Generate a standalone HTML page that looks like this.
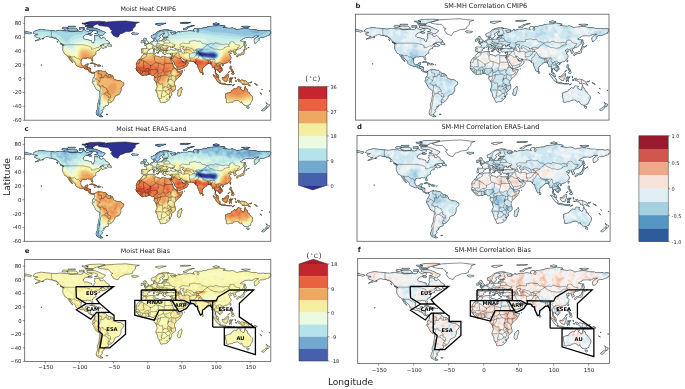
<!DOCTYPE html><html><head><meta charset="utf-8"><title>Moist heat and SM-MH correlation maps</title><style>html,body{margin:0;padding:0;background:#fff}svg{display:block}</style></head><body><svg width="685" height="389" viewBox="0 0 685 389" font-family="'DejaVu Sans','Liberation Sans',sans-serif">
<defs><path id="land" d="M12,24.5 14,21.5 18,20 24,18.7 30,19.5 39,20.4 45,21 52,20 56,20.5 63,21 66,22 72,22 75,21.5 82,22 85,21 86,18 90,21 93,22 95,20.5 98,20.5 99,22 97,24 93,25 93,26 89,26.5 86,29 85.5,31 87.5,33 92,33.5 95,34.7 97.7,35 98,37 99.5,38.7 101,38.5 101.5,36 103,34 102,31.5 102.5,29.5 102,27.7 106,27.7 110,29 110,31 113,31.7 115,30 116,30.5 118,32.5 119,34.5 122.5,36 124,38 121,39.7 115,39.8 113,40.7 110,43 115,41 115.5,42.5 119,44 120,44 119,44.8 116,45.7 114,46.3 113,45 110,46.3 109.3,48 110,48.3 107,49 106,49.5 104.5,51 104,53 104.5,54.8 103,55.5 101,56.8 99,58.5 98.7,60.5 100,63 99.7,64.7 98.5,64.5 97.3,62.2 97.3,61 96,60 94.5,60.3 92,59.7 90.5,60 90.5,60.8 89,60.7 86,60.5 83,62 82.5,64.5 82.2,67.5 84,71 85.5,71.8 88,71.3 89.3,70.5 89.7,69 93,68.5 92.5,70.5 91.7,72 91.2,74.1 94,74.1 96.7,75 96.3,79 97.5,80.8 99,81.2 100.5,80.5 102.6,81.4 101.5,82 100,82.7 99,82.2 97,81.7 94.3,80 92.5,77 88.5,76 86,74 83.5,74.3 80,73 76,71.2 74.4,69.5 74.5,67.5 72,65 70.5,63.5 68,61 67,58.7 65.2,58.3 65.5,60 67.5,62.5 69.5,65.5 70.5,67 69.7,66.7 68,65.2 66,62.8 65,61 64,59.5 62.8,57.4 61.5,56 59.4,55.4 58,53.3 57.5,52.2 56,49.7 55.7,47 56,43.8 55.3,41.6 57,41.5 57.5,42.7 57.2,41 55.5,40 53,39 52,37.5 50,35.5 48.5,34 46,32 43.5,31.7 41,30.2 37,30 34,29 31,29.2 28.5,30.7 26,32 23,33.2 19,34.7 15.2,35.5 18,34 22,32 22.5,31.2 20,31.2 18,30.2 15.5,29.5 14.5,28 15.2,27 19,26.3 19,25.5 16,25.5 13.5,25ZM100,16.3 104,17 109,19 113,21 118,23 117,25 114,27 114,28 110,27.3 107,25.5 102,25 106,24 107,22 102,20 97,20 91,19 91,16.5 95,16.3ZM62,17.5 67,17 75,17 78.5,20 75,21.2 67,21.3 63,20 62,19ZM54.5,18 56,15.7 62,15.8 64,16.7 59,18.7ZM90,13.5 100,13.7 104,11.7 114,9.3 118,7.7 110,6.9 95,7.5 89,9 93,11ZM88,13.5 100,14.4 100,15.4 90,15.4ZM63,14.2 74,14 74,15.2 66,15.4ZM84,9.5 93,10 89,11.7 84,10.7ZM80,16.2 87,16 87,18 80,18.5ZM93,24.5 99,26 97,27.5 93,26.5ZM120.7,42.3 124,38.5 124.5,40.5 127,41.5 127,43.3 124,43ZM107,11.7 113,9.7 120,8 135,7 148,6.5 160,8 168,8.5 162,10.5 162,14 160,16 158,18 158,20 154,21.5 148,22 143,24.3 140,25 138,27.5 136.5,30 134,29.5 130,28 128,25 126,22.5 129,20.5 126,19.5 125,17.5 122,14.5 114,14 109,13ZM156,24.5 158,23.6 162,24 165.5,24 166.5,25 165,25.7 161.5,26.6 158,26.2 158,25.5ZM102.6,81.4 104.5,79.3 107,78.5 108.5,77.6 109,79 112,78.5 116,79.5 118,79.3 120,81.5 123,84 126,84.2 128.5,85.5 130,88.5 130,90 132,91 135.5,92.5 140,92.8 143,95 145,96 145,99 142.5,101.5 141,103.5 141,107.5 139.5,111 138,113 135,113.8 132,115.5 131.4,118 129.5,121 126.5,124 125,125 123,124.5 121.6,124 122.8,126.3 122.3,128.2 118,129 117.7,131 115,131 116.3,132.5 114.7,134.5 112.5,136 114.2,137.8 111.5,140.3 111,142.3 111.7,143 114.7,144.8 111.5,145.5 108.5,144 105.5,142.5 104.5,139 105.5,136 107,132 106.3,129.5 106.5,127 108.5,122.5 108.7,119 109.7,114 109.8,109 108.5,107.5 105,105.5 103.7,103.8 102,100.3 100.3,97 98.7,95.5 98.7,94.3 100,93 99.2,92 100,90 100,89 101.2,88.5 102.5,86.2 102.7,84 102.2,82.7 101.5,82ZM174,54.2 178,55 181,53.5 185,53.2 190,52.7 191,53.2 190.2,55.7 191,56.8 195,57.7 199.5,59.7 200,58 203,57.3 205,58.3 209,59 212,58.7 214.2,58.7 214.9,60.5 214.2,62.2 213.4,61.5 212.6,60 212.5,60.5 214,63 215.5,66 217,69 217.3,71.2 219,74 221,75.3 223.2,77.5 223,78.5 225,79.5 228,78.8 231.2,78.2 231,79.7 229,83.5 227.5,86 224,89 221.5,91.7 220,93.5 219,96 219.5,99 220.5,101 220.7,105 218.5,107.3 215.7,109 214.8,110.5 215.5,113.5 213,115.5 212.8,118 211,120 208,123 205.5,124 202,124.2 200,124.8 198.3,124 198.2,122 196.5,118.7 195,116.5 194.5,112.5 192,108 191.8,106 193.5,102.5 193.7,100.5 192.3,96 191.7,94.5 189,91.5 189.5,89 189.7,86.7 188.8,85.5 186,85.7 184.5,83.7 182,83.7 178,85.2 176,84.8 172.5,85.6 171,85 168.5,83.1 166.7,81.5 165,79.2 163.2,77.7 163.2,76 162.5,75.3 163.5,74 163.7,71 163,69 164,66.3 165.5,64 167,62.3 170,60.5 170.3,58.5 172,56.7 173.2,56ZM229.3,102 230.5,105.5 229.5,107 227.5,114.8 225.2,115.5 223.5,113.5 223.3,111.5 224.5,109.5 224,107 226,105.7 228,103.5ZM171,53 170.5,51.3 171.2,48.5 170.7,47 172,46.3 176,46.6 178.2,46.6 178.8,44.2 177.5,42.7 175.3,41.7 178.5,41.3 178.3,40.3 180.2,40.4 181.6,39.2 183.5,38.6 184.7,37 187,36.5 188.6,36 188.2,33.2 190.5,32.3 190.7,34 189.8,35 191,36 194,36 198.5,35.3 201,35 201.2,33 204.3,32.7 203.5,31.5 203.5,30.8 208,30.4 210,30 208.5,29.4 205,29.8 202.5,30 201.3,29 201.5,27.3 205,25 203.8,24.2 202,24.5 201.3,25.5 197.5,27.5 197.2,29 198.8,30 196.7,32.5 196,33.8 194.3,34.4 192.8,34.5 191.3,31.5 190.5,30.7 188,31.9 185.7,31.2 185,29 185.3,27.8 188.5,26.5 191,25.2 193,23.5 194.5,22 197.5,20.7 200,20 203,19.2 206,19 209,19.2 211,19.8 210.2,20.3 213,20.6 216.5,21 220.5,22.2 221,23.2 218.5,23.8 214,23.3 213,23.3 214.8,25 214.8,25.6 217.5,26 218,25.2 220.5,25.5 220,24.2 223,23.6 224.2,22.2 224,21.5 226.5,22 226,23.2 227.8,22.4 233,21.2 235,21.6 238.5,21 241,20.2 244.5,20.8 248.5,21.6 247,20.5 246.8,19 249,17.2 252.5,17.3 252.8,19 252,21.5 253.5,23.2 254.5,21.5 255,21 254,18 255,17.2 258.5,17.6 260.8,16.5 266.5,16.1 267,15 274,14 280,13.5 284.3,12.3 287,13 292,13.5 293.5,14.3 290,16 293,16.2 299,17 304,16.4 307.5,17.6 309.5,19 311,19.2 313,18.4 319.5,17.6 320.5,17.2 326,17.7 330,18.5 332,19.1 339,19.3 340,20.3 347.5,20.3 350.5,20 351,21 356,20.2 360,21 360,25 358,25.5 357.5,27.5 354,28.2 350,30 345,30.2 343.3,31.5 342,32.2 343.2,34 342,35.2 340,37 338.5,38.2 336.7,39 335.5,35 335.8,33 337,32 340,29.5 342.5,28.4 340,28.2 336.8,28.5 334.3,30.3 332,31 328.5,30.6 322.5,30.8 318,33.5 315.3,35.2 317.5,36 320,36 321.3,37 320.3,39 320.5,41.5 318,44 315.5,46.2 313,47.3 310.7,47.7 309.7,48.5 307.5,50.2 309.4,53 309.2,54.7 306.5,55.6 306.3,53.2 305,52.2 305.3,50.5 304.3,50.1 301.6,51 302,49.4 301,49.1 299,50.8 297.7,51.5 298.9,52.6 301,52.4 302.5,53 300.5,54 299.3,55 300.8,57.4 301.9,58.5 301.9,60 301.5,61.7 299.7,64.3 298,65.6 296.5,67 294,67.6 291,68.5 290.3,69.7 289.7,68.5 288,68.4 286.6,69.8 285.7,71.2 287.5,73.5 289,75.5 289.2,78.2 287,79.6 286.7,80.7 285,81.3 284.8,79.8 283,79 282.5,77.8 280.9,76.5 280,76.7 279.3,79 279.3,80.7 280.4,82.8 282.3,83.8 283.4,85.5 284,88.5 283.5,88.7 281.3,87.2 280.4,84.5 278.3,82 278.5,80 278.7,78 277.7,75.2 277.6,73.5 276.5,73.5 275.3,74.2 274.3,74 274.4,71.5 272.3,69 271.8,67.6 270.4,68 268.5,68.3 267,68.7 266.3,70 264.8,71 262.3,73.3 260.3,74.5 260.1,76.5 259.8,79.7 259,80.8 258.2,81.2 257.5,81.9 256.5,81 255.5,78.3 254.5,76 253.5,74 252.8,71 252.7,69 250.8,69.2 249.2,67.8 250.3,67 248.2,66.3 247.4,65.2 244.5,64.8 241.5,64.9 237.3,64.3 236.8,63 234.5,63.4 232.5,62.5 230.8,61 230,59.8 228.7,59.7 228,60.4 228.7,61.7 230,63.3 230.2,64.3 231,65.4 231.3,64 231.7,65 231.5,65.7 234,65.8 236,64.2 236.4,63.7 236.5,65.5 238.7,66.4 239.8,67.5 238.7,69.5 237.7,71 236.5,72 235,73 232.2,74.4 229,76 225.2,77.2 223.5,77.3 222.8,75.2 222.7,73.5 221,71 219.2,69 218.8,67 217.3,65 215.2,62 214.9,60.5 214.2,58.7 215,57.2 215.8,54.5 216.2,53.3 214.5,53.2 213.8,53.8 212.3,53.9 210.7,53.2 209.3,53.8 207.3,53 206.3,51.7 206.8,50.6 206.2,50 207,49.5 209,49.5 209.2,48.8 211.5,48.8 213.5,48 215.2,48 216.5,48.7 218.5,49 221.5,48.5 221.5,47.3 219.7,46.4 218,45.5 217.3,44.7 218.2,43.8 219.3,42.9 218,42.8 215.2,43.7 215.5,44.7 216.5,44.8 215.3,45.1 213.5,45.5 212.5,44.6 213.6,43.9 211.5,43.4 210.7,43.6 209.7,44.7 208.7,46 208,47.2 208,48.2 209,48.8 207.5,49.2 206.2,49.6 206,49.2 204,49.2 203.8,50 202.7,49.6 203.3,50.8 204,52 203.2,52.2 203.1,53.5 202.3,53.4 201.7,53 201.2,51.7 200,50.3 199.4,48.8 199.3,48 197.3,46.8 195.2,45.7 194.5,44.8 193.7,44.9 193.7,44.3 192.3,44.7 192.4,45.8 193.6,46.5 194.5,47.7 196.1,48.1 196,48.6 198.5,49.8 198.4,50.2 197,49.5 196.6,50.3 197.1,51 196.1,52 195.7,52 195.7,50.2 194.5,49.3 192.5,48.5 190.5,47.1 190.2,46 188.8,45.6 187.5,46.2 186.2,46.9 184.5,46.6 183.2,47 183.2,48.2 180.8,49 179.7,50.5 180.1,51.2 179.3,52.3 178,53.2 175.5,53.3 174.5,54 173.7,53.3 172.7,52.8ZM0,21 4,22.2 9,23.2 10.2,24 7.5,25.5 4,24.5 1.5,24 0,25ZM174.5,39.9 176.5,39.7 179,39.3 181.3,38.8 180.8,38.4 181.7,37.3 180.3,37 179.8,35.8 178.5,35 178,34 178,32.4 176,32.3 176.8,31.4 175,31.4 173.8,32.5 174.5,33.7 175.2,34.5 175,35.2 176.8,35.2 177,36.5 175.5,36.7 175.8,37.7 174.8,38.2 176.5,38.5 177,38.7ZM170,38.3 173.7,37.8 174,36.5 174.4,35.4 173.5,34.8 171.7,34.9 170,35.8 170.5,36.8ZM231.5,18.3 235.5,16.7 238,15 245,13.3 248.5,13.3 242,15 238,17 237,19 233.5,19.2ZM191,11 196,10 202,9.7 207,9.8 201,11.7 197,13.3 194,12.5ZM275,11 280,9 285,11 280,12ZM317,14.5 325,14 330,14.8 323,16.5ZM227,9.5 235,8.5 243,9 238,10 230,10ZM322,35.7 323,37 323.3,40 324.7,41 323,43.5 322,44 322,42 321.8,39ZM320.3,48.5 321.5,47 321.7,44.6 323.5,45.8 325.5,46.5 323.5,48 321.3,47.7ZM310.9,56 312.5,54.5 315.5,54.4 317,53 318.5,52.7 320,50.5 320,49.3 321.3,48.7 322,50.5 321,52 320.8,54.3 319.8,55 318,55.4 316.8,55.5 315.7,56.5 315,55.5 314,56.5 312,57.2 311.3,58.7 310.2,58.8 310,57ZM301,64.8 302,65.2 300.8,68 300,67ZM288.7,70.7 290.5,70 291,70.5 289.5,71.8ZM300.5,71.5 302.2,71.6 302,74 301.7,75.5 304,77 303.5,77.5 301,76.3 300,75ZM302,83 303.5,81.4 305.5,80.3 306.5,82.5 305.5,84 304,83.7ZM302,78.2 304,78.5 305.5,78.8 305,80 303,80.5 302,79.5ZM297.2,81.7 299.5,79.2 299.7,79.7 297.8,81.7ZM289,88.2 291,88.5 293,86.8 295,85 297,83 299,84.8 298,85.7 297.8,88.2 297.5,89.2 296.3,91.5 296,93.8 294.5,94 291.8,93.3 290,91.5 289,90ZM275.3,84.4 277.5,84.8 280,87 283.5,90 284.5,92 286,93 285.8,95.8 284.5,95.8 282,94 280.5,92 279,89.5 277,87ZM285.2,96.8 286.5,96 288.5,96.5 291,96.6 293,97 294.5,97.8 294.3,98.6 291,98.3 288,97.8ZM295,98.2 297,98.3 299,98.4 301,98.4 303,98.3 302.8,98.9 300,99 297,99 295.2,98.8ZM303.5,100.3 305,99.2 307,98.4 306.5,99 304.5,100.2ZM299.5,89.5 300.5,88.7 303,89 305,88.5 304,89.7 301,89.6 300.2,90.8 301.5,90.9 303.2,90.8 302,92 302.8,94 302.5,95.5 301.5,94.5 301,92.7 300.3,93 300.4,95.6 299.4,95.5 299.3,93.5 298.8,92.7ZM307.5,88 308.5,88.5 308.5,90.5 307.7,90ZM308,93 310.8,93 310.5,93.7 308.2,93.6ZM311,90.8 314,90.8 315,93.3 317.5,91.7 321,92.6 324.5,93.8 326,95.5 327.8,96.5 327,97 328.5,99 330.5,100.5 327.5,100 326,98.5 323.5,98.2 322,99.2 319.5,98.1 318,98.3 318,96.5 315,94.5 312.8,94 312.5,92.8ZM328.5,95.5 331,95 332.3,94.2 332,95.3 330,96.2ZM260,80.3 261.8,82.5 261,83.8 260,84 259.7,82ZM293.5,112 294.2,116 293.3,116 295,120 295,124.3 298,125 300,124 303.5,124 306,122.3 309,121.6 311.5,121.5 314,122.7 315.5,124.8 317.5,123 318,125.5 319.7,126.5 320.5,128 323.5,128.8 326.3,129 328,127.8 330,127.2 331,124 332.8,121.5 333.5,118.5 333,115.5 331,113.5 329.5,112.2 328.5,110 326.3,109 325.5,105 323.5,104.3 322.5,100.8 321.6,103 321.5,105.5 320.8,107.5 319.5,107.5 317.5,106 315.5,105 315.8,103.5 316.8,102.2 315,102 312.5,101.3 311,102.3 309.8,104.8 308.5,104.8 307,104 305.5,105 304.5,106.3 302.2,107.5 301.5,109.5 299,110 296.5,110.7 294.5,111.8ZM324.7,130.7 328.3,130.8 328,133 326.5,133.6 325.3,132.5ZM352.7,124.4 354.5,126 355.7,126.8 358,127.7 357.5,129.3 356.5,131 354.8,131.4 354.8,129.8 353.8,129.3 354.7,128 354.5,126.8ZM352.7,130.5 354.2,131.7 352.8,133.7 351,135.5 349.5,136.6 347.5,136.2 346.5,135.5 348.5,134 351,132.5ZM95,68 98,66.8 100.5,67.2 103,68.5 105.8,69.8 102.5,70.1 102,69.3 99,68 96,68.2ZM105.5,71.5 107,70 110,70.2 111.5,71.5 109,72ZM101.7,71.6 103.7,71.8 102.8,72.2ZM112.8,71.5 114.3,71.6 113.5,72.1ZM51.7,39.2 55,40 56.5,41.5 54.5,41.2ZM47,36 48.2,36.2 48.8,37.7 47.7,37ZM25.5,32.5 27.7,32 27.5,32.8ZM188.3,49 189.5,48.8 189.6,50.8 188.5,51ZM188.7,47.4 189.5,47 189.4,48.5 188.8,48.4ZM192.5,52 195.5,51.8 195.2,53.3 192.7,52.5ZM203.5,54.5 206.2,54.8 204.5,55.1ZM212.3,55 214.5,54.4 213.8,55.3ZM24,69.8 25,70.2 24.4,71ZM344,110.2 346.8,112.2 346.4,112.4 344.2,110.7ZM357.3,107.5 358.5,107.5 358.2,108.2 357.4,108.1ZM119,141.5 122,141.4 121.2,142.2 119.5,142.1ZM326,45.5 328.5,44.5 328.7,44.7 326.3,45.7ZM233.4,77.4 234.5,77.4 234.2,77.7ZM336,96.8 339.5,98.2 340.5,99.5 339.7,99.5 336.5,97.5ZM346.6,105 347.3,105.2 347.5,106.3 347,106Z"/><path id="lakes" d="M229,43.5 231.5,43 233,43.2 233,44.7 231,45.5 230.3,45.7 231.5,46.8 232.5,48.3 233.8,49.2 233,50.5 233.8,53 232,53.3 230.3,52.7 229,51.7 229.3,49.7 228,48 227.5,46.5 227,45.2 228,44.2Z"/><path id="bord" d="M39,20.4 39,29.7 42.5,31 45,30.5 47,33 50,34.5M57,41 85,41 90.5,42 95.5,43.5 97.5,44.7 97.5,47.5 101,47 103.5,46 105.3,45 108.5,45 110.8,42.6 112.2,43 113,45M62.9,57.5 65.3,57.3 69,58.7 71.8,58.5 73.5,58.2 75.5,60.4 77,61 78.6,60.2 80.5,62.5 82.8,64.1M87.8,75.5 88.5,72.8 90.8,72.2 91,74M90.7,75.6 91.8,74.3M89.9,76.2 90.7,75.6 92.2,76.7M92.7,77 95,75.5 96.8,75M94.3,78.9 96.3,79.1M97.1,81.9 97.4,80.5M108.3,70.3 108.3,72M108.7,78.2 107.5,81 108,83 112.5,83.8 112.7,88 113.1,88.8M113.1,88.8 110,88.3 110.5,91 110,94.2M101.2,88.6 104.5,90 104.8,90.1M104.8,90.1 107,92.3 110,94.2M99.7,93.4 101,95 102,93 104.8,90.1M110,94.2 107,97 106,99 109.4,99.5 109.4,101 110.5,101M110.5,101 111,103 110.5,106 110.5,107.5 109.7,108.3M110.5,101 114.7,100 114.7,102 119.5,103.7 120,106.3 121.7,107.3 122.3,109 121.8,110M110.5,107.5 111.5,109 112,112 113,113M113,113 114.5,112 117.3,112.2M117.3,112.2 118,110 121,109.3 121.8,110M121.8,110 122,112.2 124.3,112.3 125.7,114 125.4,115.6M117.3,112.2 122,115 122.4,117.3 124,117.3 125.4,115.6M125.4,115.6 126.2,117.2 122.4,120.2M122.4,120.2 124.5,121 126.6,123.7M122.4,120.2 121.6,123.9M113,113 111.5,115 110.5,120 109.7,123.5 109.5,126 108.8,129 108.2,133 108.2,137 107,140 107.7,142 111.5,142.3M111.4,142.6 111.4,144.9M120,81.5 118.7,84 119.3,84.8M112.7,88 115,89 116,87.5 116,86 119,85.5 119.3,84.8M119.3,84.8 120.2,86 121,88.5 123.5,88.1 125.5,87.7 127.5,87.7 128.4,85.8M122.8,84 122,86.5 123.5,88.1M126,84.2 125.5,87.7M177.8,54.9 178.5,57.5 176.5,58.5 175,60 171.3,61.3 171.3,62.7M171.3,62.3 166.8,62.3M171.3,62.7 171.3,64 168,64 168,66.5 167,67 167,68.7 163,68.7M171.3,62.7 175.2,65 173.5,65 174.5,74.5 168.5,74.5 167.8,75.2 165.5,73.4 163.5,74M175.2,65 181.2,68.9 183.3,71 184.2,70.8 184.2,73.5 183.5,74.6 180.2,75M183.3,71 185.8,70.5 192,66.5M188.6,53.1 188.2,55.5 187.5,56.2 189.1,57.9 189.5,59.8 190,63.2 189.5,63.7 192,66.5M191.5,56.8 190.3,58.3 189.5,59.8M192,66.5 194.2,67.4 195,67 204,70.5M205,58.4 205,68M205,68 216.9,68M205,68 205,70 204,70 204,70.5M204,70.5 204,74.3 202.5,76 202.5,77.3 202.9,79M195,67 195.5,69 195.5,73.1 193.5,75.5 193.5,76.3M193.5,76.3 190,76.7 187,77 184.2,76.5 183.6,78.3M193.5,76.3 194.2,77.5 193.2,80 191.8,83 190.5,83 189.2,83.8 188.6,85.2M194.2,77.5 195.1,80 193.9,80.4 195.4,82.4 194.6,84.1 194.5,85.5 196,87.8M195.4,82.4 198.6,82 202.9,79M202.9,79 203.6,81.3 204.2,81.7 207.4,84.8M196,87.8 196.6,86.5 198.6,86.5 198.6,85 202.4,85.9 204.5,84.9 207.4,84.8M204,80.1 208,80.5 212.7,78 213.2,79.2 214.1,80.5M214.1,80.5 215,78 216.5,75.7 216.5,75 218.5,72M216.5,75.7 220,75.5 222.4,77.5M222.8,79 223,80.7 228,82 225,85 222,85.8 221,86.1 219.5,86.5 216,85.6M214.1,80.5 213,82.1 215,84.6 216,85.6M223.2,78.5 222.4,77.5M221,86.1 221,90.9 221.5,91.7M216,85.6 214,85.8 214.5,89 214,91M214,91 217.6,93 219.2,94.7M207.4,84.8 210,85.6 210.9,86.5 214,85.8M210.9,86.5 211.2,87.8 209.6,91.4M209.6,91.4 209.2,94.5 209.4,96 210.8,98.3M209.6,91.4 210.5,91 214,91M209.2,92.8 210.8,92.4 210.5,91M209.3,94.4 210.8,92.4M220.4,100.5 215,101.6 214.5,101.5M210.8,98.3 212.9,99.4 214.5,99.6 214.5,101.5M210.8,98.3 208.7,99 208.5,102.5 204,101 204,103 202,103 202,101 201.8,97.3 197.5,98 196.5,95.9 192.3,96M198.6,86.5 197.8,90.5 196,93 195.8,94 193,94.6 192.2,95.8M189.8,87.7 193.2,87.8 196,87.8M193.2,87.8 194.4,89 194.4,91.9 191.8,93.8 191.2,94M189.8,89 191.3,89 191.3,87.7M191.8,107.3 194,107.4 198.5,107.4 203.4,107.6 205.2,107.8M202,103 202,106.2 203.4,107.6M201,108.3 201,112 200,112 200,118.4 197,118.6 196.5,118.6M200,114.8 202,116.3 205.3,115.7 207,113.6 209.4,112.2 211.3,112.4M205.2,107.8 207.5,110.5 209.4,112.2M205.2,107.8 207,108 208.9,106 210.4,105.7M208.5,102.5 209.8,103.4 212.9,99.4M210.4,105.7 213,106.7 212.8,109.5 211.3,112.4 212,114.5 212,116.8 212.9,116.9M210.4,105.7 210.2,104.8 213,104M213,104 214.5,104.5 215.9,106.5 215.2,107 214.5,106 214.4,104.4 214.5,101.5M213,104 213,102 212.9,99.4M207.3,119.6 208.5,118.7 209.4,119.6 208,120.6 207.3,119.6M211,116 212,116 212,117.2 211,117 211,116M163.3,77.6 166.3,77.4 168.6,77.6 167.8,75.2M163.2,76.4 166,76.4M165,79.1 166.3,78.3 166.3,77.4M168.6,77.6 171.7,79 172,79.8 172.4,81.6 171.5,82.4M166.7,81 169.3,80 169.7,81.5 168.5,83.1M169.7,81.5 170.6,82.6 171.5,82.4 172.5,85.6M177.2,84.9 177.3,80.5 177.2,79M181.2,83.9 180,78.9M182.7,83.6 183.6,78.3M181.6,83.8 180.9,79M171.7,79 174.5,79.5 177.2,79 180,78.9 180.9,79 182.4,77.7 183.6,78.3M174.5,79.5 174.8,78.2 175.6,76.8 177,76.3 179.3,75 180.2,75 180.2,76 182.4,77.7M171.2,48.1 173.5,48.2 173,50 172.7,52 172.6,52.8M178.2,46.6 183.2,47.6M182.5,38.9 184.2,40 185.8,40.5 188.2,41 187.6,42.4 186,43.8 187,44.1 187,45.8 187.5,46.2M183.4,38.6 186,39 186.1,39.8 185.8,40.5M186,39 187,36.7M188.6,35.1 189.9,35.2M194.2,36.1 194.7,39 195,39M195,39 192.2,39.7 193.8,41.3 193,42.5 189.6,42.5 187.6,42.4M187,44.1 189,44 190.4,43.2 192.2,43 193.7,43.5 193.7,44.3M195,39 196.9,39.7 198.8,40.5 202.6,40.9M199.8,35.6 202.8,35.6 203.5,36 203.9,37.3 203.6,38.5 204,39.5 202.6,40.9M201,34 205,33.7 206.6,34.3 208.2,33.9M203.5,36 205.8,35.1 206.6,34.3M204.3,32.1 207.4,32.5M208.2,33.9 207.4,32.5 208,30.5M208.2,33.9 210.9,34.4 211,35.3 212.7,36.6 211.8,37.9 210.5,38.7 207,38.4 203.6,38.5M211.8,37.9 214.4,38.2 215.6,39.6 218,40.1 220.1,40.4 219.8,42.1 218.2,42.9M202.6,40.9 202.9,42 204.9,42.3 206.6,41.7 208.2,44.5 209.7,44.7M206.6,41.7 209.2,42 210,43.6M193.8,41.3 196.9,41.4 197.1,42 202.2,41.6 202.9,42M202.9,42 200.3,43.8 198.8,44.1 196.1,43.1 197.1,42M202.7,45.8 205,46.3 207,45.9 208.6,46.3M200.3,43.8 201.4,45.2 202.7,45.8M193.7,44.5 195.3,44.5 196.1,43.1M198.8,44.1 199,45.1 199.4,46.5 199.4,48.1M195.8,44.8 199,45.1M196,46.5 197.6,47 199.4,46.5M202.7,45.8 202.4,47.7 203,48.7 206.3,48.3 206.6,49 206,49.2M206.3,48.3 208,48M200,50.3 201,49.1 202.4,47.7M199.4,48.1 200.5,47.8 202.4,47.7M201,49.1 203,48.7M191.5,31 192.5,29 192.2,26.5 194.5,24 196.5,22 200,21 200.5,21 203.7,22.1 204,24.2M200.5,21 205.8,21 208,20 209,20.3 210.8,20.2M209,20.3 208.5,21.8 210,24.3 209.8,26.2 211.5,27.1 207.8,29.5M172.7,35 172,35.5 173.7,35.9M229,43.5 226.5,41.6 227,40.2 228.5,40 230.7,38.4 234.5,39 238.6,39 241.5,39 241,36.1 245,35.6 249,34.7 251,35.8 253.7,36 256.8,35.6 257.9,36.7 260,39.2 263.4,39 265.3,40.4 267.3,40.8M267.3,40.8 272,39.2 277,40.2 278.3,38 282.2,38.7 282.3,39.5 287,40 290,40.8 294.3,39.8 296.7,40.2 297.8,40.5 299.9,40.1 300,37.2 303.5,36.5 306,37.2 307.5,40 310.5,41.1 314.7,41.7 313,45 311,45.1 311.2,47 310.7,47.7M267.3,40.8 271,44.8 275.4,45.8 276.4,47.3 281,47.4 285,48.4 290,47.3 292,46.2 292,45 296,43.7 299.7,43.3 297.8,40.5M267.3,40.8 265.7,43 262.3,44.5 260.2,47.8M260.2,47.8 254,46.8 251,47.5 249,48.7 246.5,48.8 246,47 241,45.7 238.5,44.5 236,45 236,48.7 234,47.7 232.5,48.3M236,48.7 238.6,47.3 241.3,48.8 246.5,52.6 244.5,53.7 241.2,54.4 241,53.4 238.5,52.4 234,52.7 233.9,53M249,48.7 251,49.8 253.8,50.5M246.5,48.8 248,50 247.8,52.8M251,47.5 250.5,49 253,49.2M241.2,54.4 240.8,56.5 240.9,58.5 241.8,59 240.9,60.2M240.9,60.2 243.3,63 241.6,64.8M240.9,60.2 246.3,60.1 249.3,58.1 250,56.3 251.2,56 251.6,53.7 254.9,52.8M246.5,52.6 250,52.5 251.5,51.7 251.5,53.2 254.9,52.8M254.9,52.8 253.8,50.5 256,49.6 260.2,47.8M248.2,66.3 251,65.5 250,62.2 253.4,60 254.5,58.9 254.3,57.2 257.8,54.5M254.9,52.8 257.8,54.5M257.8,54.5 259,57.5 261,59.8 260.1,61.2 264,62.5 268.1,63.6 268.8,62.7 272,63.1 272.1,62.2 277.3,61.8M261,59.8 266,62 268.8,62.7M268.8,62.7 270,61.7 272.1,62.2M277.3,61.8 275.2,64 274.6,65.3 273.3,66 273.2,67.8 272.6,68.7 272.3,69.3M269,68.2 268.8,65.7 268.1,63.6M268.5,64 269.8,64 272.4,65 271.2,66.4 272.3,66.3 272.6,68.7M277.3,61.8 278.7,64.2 277.5,66 279,68 281.2,68.8 282.2,67.6 285.3,66.7 286.7,67.2 288,68.4M281.2,68.8 280.1,69.7 277.8,71.5 278.6,73.7 278.2,75 279.2,78.2 278.7,79.8M280.1,69.7 281.2,72.5 282.1,71.8 284,71.7 284.8,73.5 285.5,75.6M282.2,67.6 284.5,69.6 285,71.3 287.5,75.3M282.9,78.3 282.4,76.4 285.5,75.6 287.5,75.3 287.5,77.7 286,79 284.5,79.6M280.1,83.5 282,83.8M289.6,88 291,89 294.5,88.5 295.8,85.7 297.6,85.8M321,92.6 321,99.1M304,99.3 305.2,99.3M304.3,50.1 306.9,48.2 308.2,48 310.7,47.7M306.1,52.2 308.4,51.4M216,54 218,53.2 222.4,52.8 224.8,52.8 224,50.6 224.8,50.3M221.5,48.5 223.5,48.9 224.8,50.3M220,46.6 223.8,47.4 226.5,48.1 228.6,48.2M223.5,48.9 226.5,48.1M224.8,50.3 226.5,51.1 228,50.3 228.9,51.6M225,48.8 226.5,51.1M224.8,52.8 226.2,55 225.5,56 227.8,59 228.6,60M222.4,52.8 221.2,55.2 218.8,56.6 219.2,57.8 222,58.8 224.7,60.8 226.5,60.9 227.5,61 228,60.4M226.5,60.9 227.7,59.9 228,60.4M218.8,56.6 216.8,57.7 215.8,57.3 215.6,56.7 215.1,56.9M215.9,55.4 216.6,55.8 215.8,56.7M219.2,57.8 217,58.5 218,59.5 216,60.8 215,60.6M215.5,57.5 215.5,59 215,60.5M222.8,73.6 224,72.6 227,73 232,71 235,70 235.7,68 235.2,67.3 232.6,67.1 231.6,65.8M232,71 233.1,73.4M235.7,68 236,65.8 236.4,65.1M230.8,65.2 231.2,65.4"/><clipPath id="lc"><use href="#land"/></clipPath></defs>
<rect width="685" height="389" fill="#fff"/>
<g transform="translate(24.70,16.40) scale(0.68361,0.69200)">
<g clip-path="url(#lc)" fill-rule="evenodd"><rect width="360" height="150" fill="#2e3192"/>
<path fill="#343c98" d="M0 150l360 0 0-150-360 0zM136 30.5l-4-1-3-2-1.5-2.5-2-2 1-2-2.5-3.5-3-2.5-7 0-2-0.5-3-0.5-2.5-1-2.5-1.5-13-1-2-0.5-0.5-1 0-1 0.5-1 4-0.5 22-0.5 15 1 3-1 2 0 17 0 3 1 7 0 2 0.5 4 0.5 0.5 1-3.5 1-1 1-1.5 3-3 3-1.5 3.5-3 1-4 0.5-4 1-4 1.5-2 0.5-1.5 1-2.5 3.5zM258 56l-1.5-1-0.5-1 1-1 5.5 1 3 1 0.5 1-5 0.5zM272 57l-2.5-1 2-1 2.5 0 2 0 1.5 1 0 1-1.5 0.5z"/>
<path fill="#3f52a5" d="M0 150l360 0 0-150-360 0zM133 30l-3-1.5-1.5-1.5-3-4 0-1 1-1-2.5-3-3-2.5-8-0.5-1 0-3-0.5-5-1.5-14-1-2-0.5-1-1-0.5-1.5 0-2 1.5-1.5 2-0.5 23 0 4 0 6 1 4 0.5 3 0 3-1 19 0 3 1 7 0 2 1 4 0 1 0.5 0 1-2 1-2 0.5-1 1-1 2.5-3 3-0.5 1-0.5 2-1 1-2.5 1-4.5 0-1.5 1-2.5 0-4 2-2 0-1 1-3 4-1 0.5zM275 58.5l-7-1.5-9 0-2.5-1-1-1-0.5-1 0-1 2-0.5 10 2 8-0.5 3 1 0.5 1 0 1-0.5 1-1 0.5z"/>
<path fill="#4b68b2" d="M0 150l360 0 0-150-360 0zM133 30l-3-1-2-2-1-2-2-2 0-1 1-1-2.5-3-2.5-2-7-0.5-9-1.5-16-1-2-1-1-1-1-3 0-2 1-1.5 1-0.5 3-1 25 0 4 0.5 2.5 1.5 3 1 5.5 0 3-1 19 0 3 1 8 0.5 2 0.5 3 0 1.5 1-0.5 1.5-2 1-2 0.5-1 0.5-0.5 2.5-3.5 3.5-1 2.5-1 1-2 1-5 0.5-1 0.5-3 0.5-3 1.5-3 0.5-1 0.5-3 4.5-1 0.5-1-0.5zM275 59l-7-1-7-0.5-3-0.5-2-1-1.5-1-0.5-1 0-1 0.5-1 1.5-0.5 10 2 9 0 2.5 0.5 1.5 1 0.5 1 0 1-0.5 1-2 1z"/>
<path fill="#5a80bd" d="M0 150l360 0 0-148.5-227 0-8 0.5-1 0.5-0.5 1.5 0.5 1 1 0.5 5 0 3-1 19 0 3 1 7 0 3 1 3 0.5 1 0 1 1 0 1-1 0.5-4 1.5-1 1-0.5 2-3.5 4-0.5 2-1.5 1.5-2 1-5 0-1 1-3 0-3 1.5-3 0.5-1 1-3 4.5-1 0-1-0.5-3-0.5-2-1-1.5-1-4-5 0.5-1 0.5-1-1.5-2-3-3-7 0-7-1-17-1-3.5-1-1-1-1.5-2-0.5-3 0-4-1.5-1-6-0.5-76 0zM276 59.5l-8-1-7-0.5-4-1-3-2-1-2 1-1.5 2-0.5 5 1.5 4 0.5 11 0 2.5 1 1.5 1 0.5 2-0.5 1-1.5 1z"/>
<path fill="#6a99c8" d="M0 150l360 0 0-144.5-189 0-1.5 0.5 0.5 0 0.5 2 0 1-1.5 1-4.5 2-1.5 3-3 3-0.5 2-0.5 1-3 1.5-5 0.5-1 0.5-3 0.5-3 1.5-3 0.5-1 1-3 4-1 0.5-1-0.5-3-0.5-2-1-1.5-1.5-1.5-2-2.5-3 0.5-2-1-2-3-2.5-1-0.5-7 0.5-2-0.5-7 0.5-16-2-2-0.5-1.5-1-3.5-6-2-1-5-0.5-74 0zM275 60l-7-1-8-1-3-0.5-3-1.5-1-1-0.5-1 0-2 1.5-1.5 2 0 7 2 4 0 8 0 3 0.5 2 1 1 2-0.5 2-1 1-1.5 1z"/>
<path fill="#7bafd2" d="M0 10l0 137.5 95 0 17-0.5 19 0.5 229 0 0-137.5-153 0-15 0.5-20-0.5-7 2-1.5 3-3 3-0.5 2-2 2-2 1-4 0-2 0.5-2.5 0.5-3.5 1.5-3 0.5-3.5 5-0.5 0.5-1 0-1-0.5-3-0.5-3-1.5-5-6 0.5-2-1-2-2.5-2-1-0.5-5.5 0.5-7.5 2-3 0-7.5-2-9.5-1.5-3-1.5-4-3-3-1zM109 127l-0.5-1 0.5-1 1-1 0.5 2-0.5 1zM277 60.5l-17-2-4-1-3-1.5-1-1-0.5-1 0.5-2 1.5-2 2.5-0.5 3.5 1.5 3.5 1 4 0 6-0.5 4 0.5 3 1.5 1.5 1.5 0 1-0.5 2-2 2z"/>
<path fill="#91c3db" d="M129 145l231 0 0-131-39 1-21-0.5-21 0-29-1-47 0.5-5 0.5-2.5 1.5-1.5 2-1 4.5-1 0.5-1-0.5-0.5-3.5-1-2-2.5-2-6-1-15 0-1 0-4 4-0.5 2-1.5 1.5-3 1.5-4 0-4 1-4 2-3 0.5-3.5 4.5-0.5 0.5-1 0-1.5-0.5-2.5 0-3-2-4.5-5-0.5-1 0-2-1-2-2-1.5-3.5 0.5-8.5 4-4 0.5-4-0.5-7-3.5-8-1.5-5-2.5-3-0.5-17 0.5-28-1-33 0.5 0 131 95 0 17-1zM276 61l-16-2-5-1.5-2.5-1.5-1-1-0.5-1 0-2 2-2.5 2-1 2 0 2 0.5 0.5 1 1.5 1 2 0.5 3 0 7-0.5 4 0.5 3.5 1.5 1.5 2 0.5 1-0.5 2-1 1-2 1.5zM339 24.5l-9-2-8.5-0.5 8.5-0.5 9-1 3 0.5 2 1-0.5 1-2.5 1.5zM108 142l-1 0-0.5-1-0.5-1 1-2.5 1-1.5 1 4 0 1zM109 128l-0.5-2 0.5-2 1-1 1 3-1 1.5z"/>
<path fill="#a7d6e4" d="M0 18.5l0 124 92 0 10-0.5 2 0 1-1 2-6 1-2 1 2 1 4.5 1 1.5 14 1.5 235 0 0-122.5-2 1-4.5 3-2 1-11.5 4-7-1.5-12 0-7-0.5-18-3.5-19-0.5-6-1-10-2.5-8-1-11-0.5-36 0.5-3 0.5-2.5 1-1.5 1.5-4 6.5-1.5 1-1.5 0.5-2-0.5-1-1-4-6.5-1-1-2-1.5-5-0.5-14 0-1 0-1 1-1 1.5-1 1-3 1.5-4 0-2 1-3 0.5-3 1-3 1-3 4-1 1-1 0-4-1-3-1.5-5.5-6.5-0.5-2.5-1-0.5-11 4-6 1-6-1-10-3.5-7-1-4 0-6 1-11 3-2-0.5-5-2-4-1-11-1.5-12-0.5zM109 128.5l-1-1.5 0-1 2-4.5 1 2.5 0 2-1 2zM274 61l-14-2-4.5-1-3.5-1.5-1.5-1.5-0.5-1 0.5-2 1.5-2.5 3-1.5 8-1 5.5 0 1 1-1.5 0.5-5 0.5-1 0-1 1 2 1 2 0 6-1 5 0.5 3 1 2 1 2 2.5 0 1-0.5 2-2.5 2.5-2 1z"/>
<path fill="#bbe6e9" d="M0 23.5l0 116.5 93 0 10-0.5 1-0.5 1-1.5 2-5 1.5-2.5-1-4 2.5-6.5 1-1 0.5 7.5-0.5 1.5-2 2.5 1 5 1 2.5 1 0.5 11 1.5 11 0.5 207 0 10-1 9 1 0-114-14 3-6 3-5-2-2 0-14 0-8-0.5-18-2-19-1.5-23-3.5-9-0.5-33 1.5-4 0-2 1-2 1-3 3.5-2 1.5-2 1-2 0.5-2-0.5-2-0.5-2-2-3-3.5-3-1.5-5-0.5-15 0-12 1.5-4 1.5-2.5 0.5-3.5 4.5-1 0.5-1 0-4-0.5-3-1.5-3-3.5-3-2-3 0.5-9 2.5-5 0.5-6-0.5-10-2.5-5 0-6 1-8 2.5-4 2.5-4 4.5-2 1-1.5-0.5-1.5-1-5-5.5-3-2.5-4.5-2-5.5-1.5-6-1-7 0zM277 62l-18-2.5-7-2.5-2-1-0.5-1 0-2 1-2 1-2 1.5-1 2.5-1 11.5-1.5 3 0 2 0.5 1.5 1 1 2 4.5 1.5 3 2 1 1.5 0.5 2-1 3-2.5 2z"/>
<path fill="#cdeee6" d="M129 137l213 0 2 0 2-1 2.5-3 1.5-1 1 0 1 0 1.5 1 2.5 3 2 1 2 0 0-107-13 1.5-2 0.5-4 3-1 0-2-0.5-3-2-2-0.5-16 0.5-25-0.5-35-5.5-8-0.5-8 0.5-19 2-16 0.5-3 0.5-7 3.5-4 1-4-1-8-3.5-4-0.5-34 0-2 1-2 2-1 0.5-1 0-2-0.5-2 0-6-2.5-5 1-9 3-4 0.5-3-0.5-11-2.5-7-0.5-7 0.5-7.5 2-3.5 2-4 4.5-1 0.5-2 0.5-2-0.5-2-1-5-4.5-3-2-4-1.5-12-3-9-0.5-25 1.5 0 108 92 0 11-1 1 0 1-1 2.5-5 0-4 2-6 1.5-7.5 0.5 2.5 0 11-1 4 0 1 0.5 3 1 1 1 0 10 1.5zM275 62l-14-2-5-1-5.5-2-2-1-0.5-1 0.5-1 2.5-5 2-2 3-0.5 8.5-1.5 2.5-1 0-3 1-1.5 2-1 5-1 4 0.5 2 1 1 2-1 2-3 2-1 1 0.5 2 0.5 1 5 3.5 1 1.5 0.5 2-1.5 3-2 2.5-2 0.5z"/>
<path fill="#dff6e2" d="M129 134l187 0 11-1 7 1 7 0 3-0.5 4-2.5 3-1 3 1 4 2.5 2 0.5 0-100.5-12 1-2 0.5-4 2-2 0.5-2-0.5-4-2-2 0-21 0-8 0.5-12 3-2.5 1.5-2.5 3-4.5 3-1 1 0 1 0.5 1 3.5 4 0.5 2 0 1-1 2-2 3-2 1.5-2 0-18-2.5-10-2.5-3.5-0.5-1-1 1.5-2 3-5 1-1.5 3-1.5 9-2 1-1-0.5-3 0.5-1.5 3-3.5-0.5-1-1-1-2.5-1-7.5-1-9.5 0-22 2-19 0-3 0.5-7 2-3 0.5-3-0.5-7-2-4-0.5-45 0.5-8 1-11 3.5-5 0.5-6-0.5-12-3.5-7 0-6 1-4 2-2 2.5-2 5.5-1 1-1 0-2-0.5-7-3.5-8-6-5-1.5-17-2-29 0.5 0 100.5 93 0 7-0.5 4-0.5 2-2 1-2 0-4 2-6 1.5-7-2-5-3.5-4-1-2-1-2 0-2 3 5 4 4.5 2 5 0 14.5-0.5 4 0.5 1.5 1 0.5 10 1.5z"/>
<path fill="#effbd7" d="M125.5 131l79.5 0 110 0 6-0.5 6-2.5 2 0.5 4 2 3 0.5 7 0 6-2 2-0.5 9 2.5 0-93.5-12 0-8 2.5-2-0.5-5-1.5-3 0-23 0-5 0.5-4 1-4 1.5-10 6.5-0.5 1.5 2 4 0.5 3-1 2-3 4-2 1-2 0-18-2.5-9-2-7.5-0.5-1.5-1 0-1 5-3.5 2.5-4.5 1-1 3.5-1.5 5.5-1.5 1-1-1.5-3.5-2-2-2-1-4-0.5-6 0-19 0.5-21-1-13 2-13-1-21 1-23 0-8 1-12.5 2.5-5.5 0.5-6.5-0.5-12.5-3-6-0.5-4 1-3 2-1.5 2.5-3 7-1.5 1.5-2-0.5-3-1.5-8-5-6-4-2-1-3-1-16-1-31 0 0 93.5 93 0 8-0.5 4-1 1-1 0.5-2.5 2-5 1.5-9-1.5-4-4.5-5.5-2.5-6.5-0.5-6.5 1-4 1-1 0 1.5-1 4 1 5 2.5 6 4.5 5 2.5 6 0 10 0.5 7 7 1.5z"/>
<path fill="#f9fbbc" d="M123 128l62-0.5 19-0.5 19 0.5 55 0.5 36 0.5 6-0.5 5-2.5 2-0.5 2 0 5 2 3 1 6 0 8-1 9 1 0-86.5-12 0-8 1-7-1-14-0.5-11-1-4 0.5-3 0.5-3 1-11 6-1 2 1 4-0.5 3-4.5 6-1 0.5-2 0.5-18-3-10-2-8 0-3.5-1-0.5-1 0-1 1.5-1 5.5-2.5 3.5-5.5 1.5-1.5 4-1.5 1-1-0.5-1-2.5-1.5-6-1-22 0-17-1.5-6 0-5.5 1-2.5 1-0.5 1 1 2-1 1-2.5 1-2 0-3-0.5-2-1.5 0-1 0.5-1 0-1-3.5-0.5-23 1.5-27 0.5-16 2-6 0.5-7-0.5-12-3-5 0-4 1-3 2.5-2.5 5-1 5-0.5 1-1 0.5-2-0.5-5.5-3-12.5-8-5-2-12-0.5-36-0.5 0 87 91-0.5 9 0 5-1 2-3.5 1-2.5 1.5-8.5-1.5-4-4-5-3-7-0.5-7 1.5-5 1-0.5 0.5 0.5 0 1-1 5 1 6 2.5 5 4.5 5 2 5 0.5 2 0 9 0 3 1 1.5 1 0.5zM220 50.5l-2.5-0.5 0.5-1 3-1 3 0 1.5 1-1 1-1.5 0.5z"/>
<path fill="#f8f3ab" d="M306.5 126l11.5-0.5 9-3 2 0 5 1.5 3 0.5 23 0 0-79.5-20 0.5-18-0.5-5-0.5-9-2-5 0.5-13.5 6-0.5 1-0.5 1 0 4-1 2-4.5 6.5-1 0.5-2 0.5-11-2-8-1-9-2-11 0-2.5-0.5-2-1-1-1 0.5-1 1-1 8-3.5 1.5-1.5 1-3 2.5-3-1-1-1-0.5-5-0.5-21 0.5-13-2-5-0.5-4.5 1-3 3-1.5 1-5 1-5-0.5-7-1.5-3-0.5-19 1-26 0.5-20 1.5-7-0.5-12-3-5 0-4 1-3 2.5-2 3.5-1 6.5-1 1.5-1 0-11-5-10-6-5-1.5-8-0.5-40 0 0 79.5 80 0 17-0.5 8-0.5 1-0.5 1-1.5 1-3 1-6.5-1.5-4-4-5-3-7-0.5-7 1.5-5 1.5-1 1 1-1 6 1 6 2.5 5 4 4 1 2 2 5-0.5 7 0.5 3 0.5 1.5 2 1 5 1 5 0 21-1 39-0.5 7-0.5 9-3 2 0 10 2.5 8 1 56 0.5zM214 52l-3-1 0-1 4-2 5-1.5 3-0.5 2 0.5 2 1 1 1.5-1 1.5-3 1-5 0.5z"/>
<path fill="#f4e599" d="M122 123l6 0 19-2 32 0 9.5-1 2.5-1 2.5-3 1.5-4-0.5-5 0.5-2 1-2 2-0.5 2 0.5 1.5 1 1.5 2 2 4 8 7 3 2 5 1.5 12 0.5 45 0.5 24 2 9 0.5 7-0.5 7-2.5 3 0 9 1 23-1 0-72-40-0.5-5-0.5-8-2.5-4 0.5-8 2.5-3 1.5-1.5 2-1 4-3.5 4-2 4-1 1-2 0.5-4-0.5-7-2-9-1-9-2-11 0.5-3.5-0.5-3-1-2-2-0.5-1 1-1.5 2-1 7-1.5 2-1 1-1.5 0.5-3.5-0.5-1-3-1-6 0-5.5 1-1 1 1 3 0 1-1.5 1.5-4 1-10 1-6.5-0.5-2.5-1-1-1 0-1 0.5-1 6-3 0.5-1-2-1-4-0.5-4 0.5-5 2-4 1-9 1-2 0.5-3 2-2 0.5-2 0-5-2-3-0.5-59 1-7-1-11-3-4-0.5-2 0.5-2 1-1.5 1.5-1.5 2-1.5 9 0.5 5 0 0.5-1 1-1-1-3.5-4.5-4-3-7.5-2.5-7-4-4-1-7-0.5-43 0 0 72 75.5 0 28.5-0.5 2-0.5 1-1.5 1-3 0.5-2.5 0-2-1.5-3-3.5-4-1-2-2.5-5 0-2 0-6 1-5 1-1 1-0.5 1 0.5 0.5 1-1 6 0.5 5 3 5.5 4 4.5 1.5 3 1.5 4 0 8.5 1 1 1 0.5zM212 96.5l-1-0.5-0.5-1 0.5-1.5 1-1 2-0.5 1 1 0 1-1 1.5z"/>
<path fill="#f1ce84" d="M299.5 121l8.5 1 8 0 4-1 8-2.5 7 0 14-2 11-0.5 0-62.5-42-0.5-6-1-6-2-2-0.5-3 0-4 1-3 1.5-3.5 5-3.5 3.5-2 4.5-2 1-2 0.5-11-3-8-1-10-2-3 0-7 1-4-0.5-6-2-1.5-1-2.5-2.5-2-1-15 0.5-6-0.5-9-2-7 0-5 1-7 3.5-3 1-3-1-5-3-3-0.5-47 0-7 0-6-1.5-11-4-5-0.5-2 0-2 1-2 2.5-1 2.5-0.5 4.5 1 5 0 3-0.5 1-1 1.5-2 0.5-2-1.5-4-6.5-3-3-2-0.5-6-1-8-2.5-8-0.5-44 0 0 62.5 67 0 16-0.5 18-1 5 0 1-0.5 0.5-1-0.5-3.5-4.5-6.5-3-7-0.5-6 0.5-2 2-5 1.5-1 1 0.5 1 1.5-1 6 1 6 2 4 4.5 5 1 2 2 5 0.5 6 1 1.5 4 1 5 0.5 6-1 12-3.5 5-1 24 0 9-0.5 5-1.5 3-2 1-1.5 1-4 1-3 1.5-2 1.5-1 3-1 6 1.5 2-0.5 1-1.5 1-4.5 1-2.5 1-1 4-3.5 3-6.5 1-1 1-0.5 1 1 1 2-0.5 2-1.5 5 0 5-1 3-1.5 2-4.5 3-1 1-1 2 0 3 1 2 1 1.5 2 2 3 0.5 5 0 1-1 0.5-1 2-5 0.5-0.5 1-0.5 1 1 0.5 1 2 6 1 1 1.5 0.5 42 1 7 1zM321 95.5l-3-0.5 2-0.5 2.5 0.5zM234.5 50l1.5 0.5 2 0 3-0.5 1-1 0-1-2-1-3 0-1 0-1.5 1 0 1z"/>
<path fill="#efb770" d="M302.5 119l7.5 1 7-0.5 26-8 7-1 10-0.5 0-52.5-46 0-5-1-8-2.5-3 0-2 0.5-2 1-4.5 4.5-1 1-1 3-1.5 2-2 1-2 0.5-4-1-8-2.5-9-1-8-2-3.5 0-7.5 1.5-3 0-6-1.5-7-3.5-3-1-12 1-24-0.5-4 0.5-6 2.5-3 0-3 0-6-2-4-0.5-40 0-11 0-7-1.5-3-1-8-4.5-2.5-0.5-2.5 0-3 1-1 1-1 1.5-1 4.5 1 6 0 3-1 2-1 1-2 1-2-0.5-2-1-5.5-8.5-0.5-1-2-1-6 0-7-1-5-0.5-48 0 0 52.5 52 0 19-0.5 14-1 15-3 1 0 0-1.5-2.5-8 0-6 2-7 1.5-1.5 1 0 1 0 1 1 0.5 1.5-1 6 1 5 2.5 4.5 5 5.5 1.5 5 1.5 5 2 2 2 0.5 2 0.5 3 0 6-2 12-5.5 5-2 5 0 12 0.5 7 0 5-0.5 4-1.5 4-2 6-6 3-2 3-1 5 0.5 2.5-0.5 0.5-1 3.5-6 4.5-4 3-6 1-1 2-1 2 1 1.5 3-0.5 3-1 6 0.5 10 0.5 2 1 0.5 3-0.5 2 0.5 5 6 2 0.5 5 0.5 28 0.5 9 0.5 8 2 12 5zM316 96l-1-1 1-1 3-0.5 4 0 1.5 0.5 1 1-0.5 1-3 0.5-3 0.5zM215 109l1 0.5 2-0.5 1-2 0-1-1-0.5-1-0.5-2 1-0.5 1z"/>
<path fill="#eca05e" d="M308.5 117l4.5 0 4-0.5 4-1 5.5-2.5 5.5-3 6-7 3-1.5 7-1 12-0.5 0-38.5-46 0-5-0.5-8-3-3-0.5-3 0.5-3 2-1.5 2-2.5 4-1 1-2 1-3 0.5-5-1-5-2.5-3-1-7-0.5-10-2-4 0.5-5 1.5-3 0-14-4-3-0.5-3 0-8 2-25-0.5-13 2-13-1.5-27 1-23 0-4-0.5-4-1.5-4-1.5-8-4.5-3-1-2 0.5-1 1-1.5 2.5-0.5 2 0.5 8-0.5 3-2 2.5-3 1.5-2-0.5-2.5-1.5-2.5-3-3-4.5-2-1.5-1-0.5-5 0-12-1-48 0 0 38.5 58-0.5 12-0.5 9-1 8-2 9-2.5 1-1 0.5-3.5 2.5-6 1-1.5 2-0.5 2 0.5 1.5 1.5 0 2 0 4 0.5 1.5 7-1 4 0 6 1.5 8 3.5 10 0 22 4 6 0.5 5-0.5 6-1 13-4 9-1 1-0.5 4-5 4-3.5 4-7 1-1 2-0.5 2 0.5 1 1 1.5 2.5 0.5 3-1 6 0.5 3 1.5 3.5 2 1.5 6 2.5 5 1 32 1.5 7 0.5 5 1 4 1.5 6 6 4.5 3 6.5 3zM315 97.5l-3-1.5 0-1 1-1.5 4-1 4-0.5 4 0.5 3 1 1.5 1.5 0 1-1.5 1-3 0.5-5 0.5zM120.5 113l2.5 0.5 3-0.5 4.5-2 2-2 1.5-3 0.5-6-0.5-1.5-2-2-1-0.5-2 0.5-3 1.5-2.5 2-3.5 6-1.5 3 0.5 2z"/>
<path fill="#eb8952" d="M306 113l4 1 3 0 6-1.5 4.5-2.5 1.5-2 0-2-1-1.5-2-1.5-5-2-7-0.5-3 0-3 1-2 1-2 1.5-1 1-0.5 2 1 2 0.5 1 3 2zM302 92l2 0 2 0 6-2 2-1 0.5-1 0.5-4 1-1 3-1 10-1.5 14-1 10.5-0.5 6.5-0.5 0-6-6-0.5-31-0.5-9-1-6-2-2-1.5-1.5-2-4.5-3-2-0.5-2 0-2 1-2 2-2 3-2 1.5-3 1-3 0-4-0.5-2-0.5-3.5-3-2.5-1-7-0.5-9-2-3-0.5-2 0.5-6 3-2 0-9-3-5-1-3-0.5-3 0.5-6 3-5 1-9 0.5-10-1-7-0.5-20 1-5 1-7.5 2.5-2.5 1-1 1 0 1-0.5 3 0.5 2 1 2 2 2 4 2.5 4 2 5 2 6 1 10 0 23-2 7-4 2-2.5 3-5.5 1-1 2-1 2 0.5 2 1 1.5 1 1.5 2 1 3 0 7 1 2 1 0.5 2-0.5 2-1 4-5 2-1.5 2-1 2-0.5 4 1 7 4 4 1.5 4 0 7-2 2 0 2 1.5 3 3 1.5 1 3.5 1 4 0.5 2 0 1-0.5 1.5-4 2-2 2.5-1 3-0.5 2 0.5 2 2 0.5 5zM89 81l5 0 4.5-1 1.5-1 2-2 0.5-3-0.5-4-2-2-1.5-3-5-5-2.5-1.5-2-0.5-2 0.5-1 1.5 0.5 9-2.5 9 0.5 1 1 1z"/>
<path fill="#e97247" d="M168.5 83l6.5 1 8-0.5 7-1.5 10-3.5 5 1 2 0.5 2-1 1-1 1-2 0-2-1-1-2 0-6 2.5-2 0-10-4-6-1.5-7-0.5-7.5 0.5-3.5 1-3 2-2 2 0 2 0.5 2 1 1 2.5 1.5zM256 75l2 0.5 1-0.5 2.5-3 1.5-1 1 0 5 0.5 2-0.5 1.5-1 0-2-1.5-2-3-1-5 0-10-2-2.5 0-2.5 1-1.5 2-0.5 1 1 2 2 2zM225.5 72l2.5 0 6-1.5 2.5-1.5 1-1 0-1-0.5-1-1-1-5-1.5-5-0.5-3 0.5-2 1.5-0.5 1-0.5 2 1.5 2 1.5 1z"/>
<path fill="#e45b3d" d="M171.5 79l3.5 1 4 0 3-1 1.5-1 0.5-1-0.5-1-2.5-1.5-3-0.5-3 0-3 1-1.5 1-0.5 1 0.5 1zM227.5 69l2.5 0 3-0.5 1.5-1.5-0.5-1-1.5-1-2.5-0.5-2 0-2.5 0.5-1 1 0 1 0.5 1zM251.5 69l2.5 1 3 0 3-1.5 1.5-1.5-1-1-2-1-3-1-2.5-0.5-2 0.5-1.5 1-0.5 1 1 2zM265 68l3 1.5 1.5-0.5 1-1-0.5-1-2-1-3 1z"/>
<path fill="#d84737" d="M254 67l1 0 1-1-2-0.5-1.5 0.5z"/></g>
<use href="#bord" fill="none" stroke="#000" stroke-width="0.45" vector-effect="non-scaling-stroke"/>
<use href="#land" fill="none" stroke="#000" stroke-width="0.6" vector-effect="non-scaling-stroke"/>
<use href="#lakes" fill="#fff" stroke="#000" stroke-width="0.6" vector-effect="non-scaling-stroke"/>
</g>
<rect x="24.70" y="16.40" width="246.10" height="103.80" fill="none" stroke="#5a5a5a" stroke-width="0.8"/>
<text x="148.2" y="10.5" font-size="6.33" text-anchor="middle" fill="#1a1a1a">Moist Heat CMIP6</text>
<text x="24.8" y="10.6" font-size="6.9" font-weight="bold" fill="#1a1a1a">a</text>
<path d="M24.70 23.32h-2" stroke="#333" stroke-width="0.5"/>
<text x="21.5" y="25.2" font-size="5.3" text-anchor="end" fill="#1a1a1a">80</text>
<path d="M24.70 37.16h-2" stroke="#333" stroke-width="0.5"/>
<text x="21.5" y="39.1" font-size="5.3" text-anchor="end" fill="#1a1a1a">60</text>
<path d="M24.70 51.00h-2" stroke="#333" stroke-width="0.5"/>
<text x="21.5" y="52.9" font-size="5.3" text-anchor="end" fill="#1a1a1a">40</text>
<path d="M24.70 64.84h-2" stroke="#333" stroke-width="0.5"/>
<text x="21.5" y="66.7" font-size="5.3" text-anchor="end" fill="#1a1a1a">20</text>
<path d="M24.70 78.68h-2" stroke="#333" stroke-width="0.5"/>
<text x="21.5" y="80.6" font-size="5.3" text-anchor="end" fill="#1a1a1a">0</text>
<path d="M24.70 92.52h-2" stroke="#333" stroke-width="0.5"/>
<text x="21.5" y="94.4" font-size="5.3" text-anchor="end" fill="#1a1a1a">-20</text>
<path d="M24.70 106.36h-2" stroke="#333" stroke-width="0.5"/>
<text x="21.5" y="108.3" font-size="5.3" text-anchor="end" fill="#1a1a1a">-40</text>
<path d="M24.70 120.20h-2" stroke="#333" stroke-width="0.5"/>
<text x="21.5" y="122.1" font-size="5.3" text-anchor="end" fill="#1a1a1a">-60</text>
<g transform="translate(24.50,137.40) scale(0.68417,0.69267)">
<g clip-path="url(#lc)" fill-rule="evenodd"><rect width="360" height="150" fill="#2e3192"/>
<path fill="#343c98" d="M0 150l360 0 0-150-360 0zM136 31l-1-1-3 0.5-1-1.5-1 0-2-2 0-1-3.5-3 0.5-1.5 1 0 1-0.5-1-1-1.5 0 0-1-3.5-4-8 0.5-1-1-3-0.5-1-0.5-1 0-2-2-2 0.5-4-2 0-2-1-0.5-1.5 0.5 1.5 3-1 0.5-7-1-2 0.5-1-1 0-2 2-1.5 5 0.5 1-1 4-0.5 4.5 0.5 3.5 1.5 2-1 1 1 1-0.5 0-1 1-0.5 3 0.5 2 0.5 3-0.5 8 0.5 3 0 1-1 5 0 16 0 1 1 9 0 1 1 5 0 0.5 0.5-0.5 1.5-1 0-1 1-2-0.5-2 2 0 2-3.5 4-0.5 2-1 1-1 0-1 1-5 0-1 1-3 0-1 1.5-1 0-1 0.5-3 0-2 2 0 1-2 2 0 1zM273 58l-4-1.5-5 0.5-6-0.5-3-2.5 1-0.5 2-0.5 5 0.5 6 1.5 4-0.5 2 0.5 2 0 1.5 1 0 1-1.5 1.5-1 0z"/>
<path fill="#3f52a5" d="M0 150l360 0 0-150-360 0zM136 31.5l-1-1-3 0-1-1-1 0-2.5-2.5 0-1-3-3 0.5-1.5 1 0 0.5-0.5-0.5-0.5-1.5-0.5 0-1-3.5-3.5-8 0-1-1-3 0-1-1-1 0-2-1-4 0-2 0.5-4-1-2 0.5-3-1-2 1-1-0.5-1-2 0-3 1-1 3-1 13-0.5 3 1.5 1 0 2-1.5 1-0.5 17 2.5 4 0 1-1 21 0 1 1 9 0 1 1 5 0 0.5 0.5-0.5 1.5-1 0-1 1-2 0-1.5 1.5 0 2-4 4 0 2-1.5 1.5-1-0.5-1 1-5 0.5-1 1-3 0-1 1-1 0-1 1-3 0-1.5 1.5 0 1-2.5 2 0.5 1zM275 59l-6-1.5-6 0-5-0.5-3.5-2-0.5-1 0-1 1-0.5 11 1.5 7-0.5 6 1.5 0.5 1-1 2-1.5 1z"/>
<path fill="#4b68b2" d="M0 150l360 0 0-150-360 0zM136 31.5l-1-1-3 0-1-1-1 0-2.5-2.5 0-1-3-3 0-1 0.5-0.5 1 0 0.5-0.5-2-1 0-1-3.5-3.5-8 0-1-1-3 0-1-0.5-4-1-2 0.5-2 0.5-5-1.5-2 1-3-1-2 1-1-0.5-1-1-1-2 0-4 1-1.5 3-1 21-0.5 9 0.5 4 2.5 2 0.5 6 0 1-1 21 0 1 0.5 9 0.5 1 1 5 0 0.5 0.5 0 1-0.5 0.5-1 0-1 1-2 0-1.5 1.5 0 2-4 4 0 2-1.5 1.5-1 0-1 1-5 0-1 1-3 0-1 1-1 0-1 1-3 0-1.5 1.5 0 1-2 2 0 1zM276 59.5l-6-1.5-8 0-5-1-3.5-2-0.5-1 0-1 1-1 1-0.5 10 2 8-0.5 2 0.5 4 0.5 1 1-0.5 2-1.5 2z"/>
<path fill="#5a80bd" d="M0 150l360 0 0-148.5-228 0-8 0.5-0.5 1-0.5 1 1 2 7 0 1-1 21 0 1 1 9 0 1 1 5 0 1 1-0.5 1-0.5 0.5-1 0-1 1-2 0-1.5 1.5 0 2-4 4 0 2-1.5 1.5-1 0-1 1-5 0-1 1-3 0-1 1-1 0-1 1-3 0-1.5 1.5 0 1-2 2 0 1-1.5 0.5-1-1-3 0-1-1-1 0-2.5-2.5 0-1-3-3 0-1 0.5-0.5 1.5-0.5-2-1 0-1-3.5-3.5-8 0.5-1-1-9-1-2 1.5-3.5-1.5-2.5-0.5-2 0.5-3-0.5-3 0.5-2-2.5-1.5-3.5 0-5-0.5-1-1 0-82-0.5zM109 127l-0.5-1 0.5-1 1-0.5 0.5 1.5-0.5 1zM276 60l-6-1.5-3 0.5-10-1.5-3-1.5-1.5-1 0-2 0.5-1 2-1 10 2 8-0.5 6 1 1.5 1.5-0.5 3-2 1.5z"/>
<path fill="#6a99c8" d="M0 5.5l0 144.5 360 0 0-144.5-78 0-2 0.5-5-0.5-30 0-2 0.5 0 2-2 0.5-1.5-0.5 0-1 0.5-1-1-0.5-5-0.5-4 0.5-60 0-4 1-8-2-1 0.5-0.5 1 6.5 0 1 1 5 0 1 1 0 1-3 2-2 0-1 1-0.5 2-4 4 0 2-1.5 1.5-1 0-1 1-5 0-1 1-3 0-1 1-1 0-1 1-3 0-1.5 1.5 0 1-2 2 0 1-0.5 0.5-1 0-1-1-3 0-1-1-1 0-2.5-2.5 0-1-3-3 0-1 0.5-0.5 1.5-0.5-1.5-0.5-0.5-0.5 0-1-3.5-3.5-8 0.5-2-1-4 0.5-3-0.5-1 0.5-1 1.5-1 0.5-2.5-2.5-2.5-1-3 1-3-1-3 1-2-2-2-3.5-2-2.5-2-1zM109 127.5l-0.5-1.5 0.5-1.5 1-0.5 0.5 2-0.5 1.5zM275 60l-5-1-3 0.5-10-2-4-1.5-1-1-0.5-2 1.5-2 2-0.5 10 2.5 7-1 7 1 1.5 1 0.5 1-0.5 3-2.5 2zM275 11.5l0-1.5 1-1.5 1-0.5 2 1 0 1z"/>
<path fill="#7bafd2" d="M0 10l0 137.5 108-0.5 3 1 6-1 15 0.5 228 0 0-137.5-69 0-1 0-0.5 1 1 1 0 1-0.5 1-1 0.5-0.5-0.5-1-3-4.5-3-1 0-0.5 2-1 1-3.5 1-2 1.5-1 0-1.5-0.5 1-2-0.5-1-26 0-4 1-1-1-3.5-1-1.5-2-4-1-1.5 1 0.5 2-1 1.5-3-0.5-20-0.5-1 1.5-1 0-1-3-1-0.5-3 0.5-3-0.5-1 0.5-0.5 1 0.5 1 1.5 2 0 1-3.5 0.5-1-0.5-0.5-1 0.5-1 0-1-2-1-1 0-2 1.5-6-0.5-12 0-4 1-2 0-1 1 0 2-4 4 0 2-2 1.5-1 0-1 1-5 0-1 1-3 0-1 1-1 0-1 1-3 0-1.5 1.5 0 1-2 2 0 1-0.5 0.5-1 0-1-1-3 0-1-1-1 0-2.5-2.5 0-1-3-3-0.5-1 1-1 1 0-1 0-1-1 0-1-3-3-6 0-3 1.5-3-1-3 0.5-2-0.5-1 1-3.5 1.5-0.5 1 0-3-2-1.5-2-0.5-2 1.5-3-1.5-2 1-2 0-2-2-3-2.5-3-1zM108 138.5l-1-1.5 1-2 0.5 1zM109 128l-1-2 1-1.5 1-1 0.5 2.5-0.5 1.5zM277 60.5l-7-1-3 0-5.5-0.5-4.5-1-5-2-1-1 0-2 2-2.5 3-0.5 4 1.5 5 1 7-0.5 3 0 3 0 2 1 1 1 0.5 2 0 2-2 2zM313 23.5l-1.5-0.5 0.5-1.5 1-0.5 1.5 1-0.5 1.5zM322 23l-1.5 0 0.5-1 1-1 1 0 0 1.5zM328 26l-0.5-2-2-3 0.5-1.5 4 0.5 1.5 1-1.5 2 0.5 3-1.5 0.5zM336 25.5l-1-0.5 1.5-2 0.5-1 0.5 2-0.5 1zM265 48l-1.5-1 1.5-0.5 2 0.5-1 1zM326 18l0-2 0.5-1 1.5-1.5 1 0 1 1.5-1 1z"/>
<path fill="#91c3db" d="M110.5 146l1.5 0.5 2-0.5 3-1.5 15 0.5 228 0 0-131-28 1-3 3 5 3 1-1 0-2 1-0.5 1.5 1.5 1.5 1 3-1 1 2 2.5 1 0.5 1-0.5 1-2.5 0.5-2 1-0.5-0.5 1-1-1.5-0.5-1 1.5-2 1.5-4 1.5-2-0.5-2 1-1 0-3-2-2 0-1-1.5-1 0.5-1.5 0.5 0 1 1 1 0 1-1.5 0-3.5-2-1-2-3.5 0-1 1-1-0.5-0.5-0.5 1-1 0.5-2 1.5-2 0-1-1.5-2.5-3-1-1 0-1 1.5 0 1 1.5 1-1.5 2-0.5 2-1.5 1-2 0.5-2.5 2.5-1.5 0-1-3 0.5-3 1.5-1 3 1 1-0.5 1-1.5 0-1-2-1.5-2.5 0.5-0.5-2.5-1-1-4-1-1 0.5-1.5 2-4.5 2-2 3-1 2.5-1 1-1 0-1.5-1.5-0.5-1 0-1 1-0.5 2.5-0.5-0.5-6-1-0.5-4 0.5-0.5 1-0.5 3-2 1.5-1.5-0.5 2-2-0.5-1-1-0.5-1.5 0.5-0.5 2-2-1-1-2-1-0.5-2 0-4 2.5-3 0.5-0.5-0.5 1-1-0.5-1-9-0.5-3-1-1 0.5-0.5 3-3 1-0.5 1 0 1-1 0.5-1-0.5 0-1 0.5-3 1.5-2 0-2.5-1.5 0.5-0.5 1-1 0.5-4 1-27 0.5-1-0.5-1-0.5-1-3-1-0.5-2 1.5 0 3-1 1-2 0-2 1.5-1-0.5-1 3-1.5 1-0.5 1 1 2 1 0.5 2-1.5 1 1 0 1-0.5 1-1.5 1.5-1 0.5-2-1-2.5-2 1-3-0.5-2-0.5-2-2.5-2-6-1-17-0.5-4 4.5 0 2-2 2-1 0-1 0.5-5 0.5-1 1-3 0-3 1.5-3 0.5-1 1 0 1-2.5 2 0 1-0.5 0.5-1 0-1-0.5-3 0-1-1-1-0.5-2.5-2.5-0.5-1-3-3 0-1 1-1 1 0-1 0-1-1 0-1-3-3-4 0 0 2-2 1-1 1-0.5 1-0.5 2-1 1-1-1 0-1-1-0.5-2 0-2 1-1 0-2-3.5-2 0.5-3 3.5-1-0.5-1-4.5-3 0.5-2-2-1 0-0.5 1.5 1 2-0.5 1.5-1 0-2-3.5-1-0.5-2 0.5-0.5 2-2.5 1-1.5-1 0-2 3.5-0.5 0.5-0.5-1-2-0.5-0.5-4 0-1 0.5 0 1-2 1.5-0.5-0.5 1-2-0.5-0.5-3-0.5-2-1.5-2-0.5-3 1 1 2 1 1 0.5 1-1.5 1-1 0-1.5-2-1.5-0.5-2 0-2.5 1.5-1 0-1.5-2.5-1-0.5-3 0.5-19-0.5-32-0.5 0 131.5 98 0 5-0.5 1-0.5 0-1 1-0.5 2 2 3 1zM203 19.5l-0.5-1.5 1.5-0.5 1 0.5 0 1zM248 18l-0.5-1 0.5-0.5 1 0 1 0.5 0.5 1-0.5 0.5zM276 61l-6-1-4 0-9-1.5-6-2.5-0.5-1-0.5-2 3-3 3-1 1-1 2-1.5 7-0.5 2.5 1 0.5 1 1.5 0-5.5 0.5-3-0.5-3 1-1 1 2 1 5 1 3-0.5 4-0.5 3 0.5 3 0 1 0 3 2.5 0 4-3 3zM293 18l0-1.5 1-0.5 1 1-0.5 1-0.5 0.5zM196 21.5l-2-1.5 0-1 2-0.5 1 0 0.5 1.5 0 1-0.5 0.5zM58 25.5l-1-1.5 0.5-1 0.5-1 2-0.5 1 1.5-0.5 1zM73 22.5l-0.5-0.5 0.5-2 1-1.5 1 0.5 0.5 3-0.5 0.5zM107 140.5l-0.5-3.5 1.5-3 1 1 0 2-1 4zM107 26.5l-1-0.5-0.5-1 1.5-1 1 1-0.5 1zM109 128.5l-1-2.5 2-3.5 1 3.5-1 2zM315.5 21l1.5 0.5 6-2 1.5-4.5 1.5-2-1-0.5-1.5 0.5 0 1-2 1-1.5 1.5-3-1.5-5 0-0.5 1 3 2 0.5 2z"/>
<path fill="#a7d6e4" d="M0 18l0 124.5 101 0 3-2 1 1 1-0.5-0.5-3 1-3 1.5-1.5 1 0 1 1.5-1 6 0.5 1 0.5 0.5 1-0.5 2-1.5 4 1 4-1 1 0 2 2 5 0 231 0 0-124-2.5 2.5-0.5 3-1 1.5-1-0.5-3-5-1-0.5-2 1.5-0.5-1 1-1-2.5-0.5-1.5 0.5-0.5 1 1 0.5 3 0.5-1 3-1 1-3 0.5-3 2.5-2-1.5-4 1.5-2 1.5-2-1-3 1-3-2-2 1-3 2.5-1 0-3-2.5-1 0-1 1.5-1 0-2-1-3.5-1-1.5-2.5-4 0.5 0 3-1 0.5-1 0-4.5-2.5-1-2-0.5-3-2-1.5-1 0-2.5 1.5-0.5 3-1 0-2-1-5 1.5-3-4-2 0-2.5-1.5-2.5 0 0 2 1.5 3 0.5 1-1 1-2-2-0.5-2-0.5-0.5-2 0-5-0.5-2-3-2-1-1 0-1 2-3-0.5-3 1-4-2-5 2-2 0-2-1.5-5 1-3-1.5-8 0-5-1-1.5 0.5-2.5 2-2-2-1 0-2.5 2-1.5 0.5-1 0.5-2-0.5-1 0.5-1 2 0 1.5-2 1-1 1.5-0.5 1 1 3-0.5 1-2-1.5-3-0.5 1-2-3-3-2.5-1-2.5-3.5-2-1.5-5-0.5-16 0-1 0.5 0 1-2 2-1 0-1 1-5 0-1 1-3 0-3 2-3 0-1 1 0 1-2 2 0 1-1 1-1 0-1-1-3 0-1-1-1 0-3-3 0-1-3-3 0-2-2-1-4 1-6 4.5-2-1-1.5 2.5-1.5 0.5-2 0-4-2.5-1 0-4 2-1 0.5-1.5-1.5 0-1 1-1 0.5-1-1-1.5-2-0.5-0.5 1-0.5 1 1.5 2-1.5 1.5-1-0.5-3-6.5-1-0.5-2 3-2 1.5-2 0-1-2-1-0.5-2 3.5-2 0-5 1-1.5-1.5 0-2-0.5-1.5-3-1.5-2-2-1 0-1.5 1 0.5 1 1 1 2 3.5 2.5 0.5 0.5 1-0.5 2-2 1-0.5 1 0.5 1 2.5 1 1 2-1 0.5-3-2-1.5 0.5-0.5 1 0.5 2-0.5 1-1.5-1-1-1 1-3-1-2-1-1-1.5-3-1 0-1 1-1-2 0-1 2-1 2-2-0.5-1-1.5-1-1-2-3 3-2 0.5-2-0.5-1 1 0 2-1 0-5-0.5-0.5-1.5-1-1-2.5-1.5-2-0.5-1 0-0.5 1-0.5 3-1 0.5-0.5-0.5 0-3-1.5-1-2-0.5-3 0.5 0.5 1 2 2 0.5 1-1 0.5-1 0-2-2-2-0.5-1-1-2-0.5-2 0.5-2 0.5-2-0.5-7 0.5zM53 30l-4-2-2-2.5 0-2.5 2-0.5 1 0.5-1.5 2 0.5 1 1 0.5 2 0 2-0.5 0.5 1 2 1-0.5 2zM73 29l-0.5-1 0.5-0.5 2 0.5-0.5 1zM109 131l-1-5 2-6 1 6zM224 24l-1 0-1-2 2-2 0.5 1zM248 23.5l-1-0.5 0-1 1-1 1 1-0.5 1zM278 61.5l-8-1.5-3 0.5-6-1-7-2-4-1.5-0.5-1-0.5-2 4-4 2-0.5 5-2.5 2 0 3-1 7 1.5 1 1.5-2 2 3 1 4 0 1 0 2.5 2 1 2 0 3-2.5 3zM260.5 51l4.5 1 6-2-9-1.5-2 0.5-1 1zM284.5 23l0.5 1 1.5-2-0.5-1-1 0.5zM68.5 19l1.5 1.5 1 0.5 0.5-1 0.5-1-1-1.5-2.5 0.5zM308 18l1 2 1-1-1-1.5zM289 18l1 1 1-0.5 0.5-1.5-0.5-1-1.5 1zM236 16l1 0.5 0.5-1.5-0.5-0.5-1 0.5z"/>
<path fill="#bbe6e9" d="M110 140l1 0.5 3-1.5 2-0.5 5 0.5 3 0.5 7 0.5 213 0 3-0.5 1-2.5 2-0.5 1-1.5 1.5 1-1 3 3.5 1 5 0 0-119.5-1.5 1.5 0 4 1 1-0.5 1-1 0.5-1 0.5-1-2-3-0.5-2-1-1 0-3 1.5-2.5 0 1.5 2-1.5 1-2.5 0.5-2 1.5-1 0.5-1-1.5-1-0.5-2 0.5-4-1-5 1.5-1-0.5-1-1-1 0-2 1.5-2 0.5-1-0.5-2-1.5-2 2.5-1-0.5-2-1.5-3-0.5-3-2-1 0.5-2 2-2 0.5-2-1.5-3.5-1.5-0.5-1-1-0.5-5 0.5-5-1-2 1-1 0-4-3-1 2-3 2.5-1-0.5-3-2-1-2-2 1.5-1 0-2-1.5-2 0.5-2-4.5-1 0-0.5 1-0.5 0.5-3 0-1 0-0.5 1.5-3.5 2-1 0-2-3.5-6 0-2 1.5 1 3-1 0.5-1-0.5-0.5-1 1-2-0.5-2-1-0.5-3 1-5 0-1 0.5-0.5 2-1.5 1.5-5-0.5 0-2 0.5-2-1.5-1-1 0-0.5 1-1.5 1.5-1 0-1-1-2.5 0.5-0.5 2-0.5-1-3.5-1.5-1 0.5-0.5 2-0.5 1-2-0.5-2 2-2 0-1 0.5 1 5-0.5 1-1.5 0.5-2-1.5-1 0-2 2-2-1-1-3-2-2 0-1-2-0.5-3-2-4-1-7 0-3 0-2 1-1-1.5-4-1.5-3 0.5-1 1-5 0-1 1-2 0-1.5 1-1.5 0-1 1-3 0-1 1 0 1-2 2 0 1-1 1-1 0-1-1-3 0-1-1-1 0-3-3 0-1-2-1.5-1-0.5-3 0.5-2-1.5-2 1.5-2 0-1 0.5-0.5 1-0.5 2.5-2-1.5-5 2.5-3-2-4-0.5-3 2-1 0-2-1.5-3 0.5-2-3-1-0.5-2 2-1-0.5-1-1-1-0.5-4 0.5-1.5 2 0 2-1.5 1-4 0-2 1 1.5 2-0.5 0.5-4 1-2-1-1 0 0 4.5 1 0 0 1 0 2-1 1-1 0-0.5-1 1.5-2-2-1-2-1.5-1 0-2 0.5-2.5-3 0.5-2-5-2-3.5-4-0.5-1.5-1-0.5-1.5 2-4.5 0.5-2-1-1-1.5 2-2 0.5-2-1.5-1-1.5 0 0 1-1 3-3.5 1.5-7-2-4 1.5-1-1 0.5-1 1-1 0-1-1.5-1-6 2.5-4-0.5-3.5 1-1 1 0 2-1.5 0.5-1.5-0.5 0.5-1 0-1-1-1 0 118 101-0.5 4-2.5 3-5-0.5-6 1.5-4 2-7 0.5 2-0.5 4 0.5 5-1.5 5-0.5 1 0 1 1 2-0.5 4zM157 27l-1-1 0-1 2-2 2 3 0 1-1 1zM244 28l-2-1 0.5-1 1.5-0.5 2 0.5 0 1-0.5 1zM278 62l-5-0.5-3-1-3 0.5-6-1-10-3-2-1-0.5-1 0-2 0.5-1 2-1.5 2-2.5 2-0.5 4-2 3 0 3-1.5 3 1.5 5 0 2 1.5 0 1-1.5 1 0 1 1.5 0.5 3-0.5 1 0.5 3.5 2.5 1 1 0 3-0.5 1.5-3 3zM9 26.5l-0.5-0.5 0.5-2 1-0.5 1 0 0.5 1.5-1.5 1.5zM261.5 51l3.5 0.5 1.5-0.5 0.5-1-5-1-2 1zM273 24l1 0.5 1-0.5-1-1-1 0zM290 23l1 1 1.5-1-0.5-1-1 0z"/>
<path fill="#cdeee6" d="M111.5 138l3.5-1 1-1 2 0 7 1 7 0 183 0 12-0.5 15 0.5 3-0.5 6-4.5 2-0.5 2 0.5-0.5 2 0 1 1.5 1 1 0.5 3 0.5 0-107-5 1-0.5-1 0.5-1-0.5-1-4.5-0.5-1 0.5-2 3-3 0-2.5 1-2.5 5-1 0-2-2 1.5-2-0.5-1-1.5 1-0.5 1-4-3-3 1-1 1-1 0-3-2-4 2-3 0-2 0.5-3-1-4 1-1 1.5-1 0.5-4-1.5-2 0.5-2 1-3-0.5-2 2-1 0.5-1.5-0.5-1.5-2-1 0.5-2 2.5-2 5-1 0.5-1 0-2-1-2.5 3.5 0.5 3 6 3.5 1.5 1.5-0.5 3-1 2-3 3.5-1 0-6-0.5-3-1-3 0-7-1-10.5-3-1.5-1-0.5-2 1-3 2.5-1.5 1-2 1-0.5 3-0.5 3-1.5 3 0 3-2.5 1 0 1 1.5 1 0.5 0.5-1.5 0-2 2.5-2 3 1.5 4 0.5 1-0.5 5-4.5 0-3 1-1.5 2 3 1 0 2-3.5 0-1.5-1-0.5-3 0-2-1.5-1 0-2 1.5-2-1.5-2 0-3 1.5-2 1.5-3-3-3 0.5-2-1-1 0-1 1.5-1 0-1-1-1 0-2 2-3.5-0.5-1.5-2.5-4 0-2 2.5-1 0.5-2-0.5-3-2-4 1-1 1 0 2-1 0-0.5-1-0.5-3-1-1-2-1-3-0.5-1 1.5 2 2 0 1.5-1 0.5-1-0.5-2-2.5-4-0.5-1.5 2.5-0.5 2-2 0-2 0.5-1 0-1.5-1.5 0.5-1 2-1 0.5-1-1.5-1.5-3 0-1-0.5-1-1.5-1 0-0.5 0.5 0 2 0.5 0.5 2 0.5 0.5 1-0.5 1-1 0-1-0.5-3 1-2-1-1 0-2 2-0.5 2.5-0.5 0.5-2 1-2 0-3 1.5-2-1-3-3.5-2.5-0.5 1-1-0.5-1-1 1-1 0-3-0.5-1 0.5 0 3-1 0.5-2-0.5-1-1-0.5-3-6.5-0.5-2-2-2-0.5-1 0.5-2 2.5-1 0.5-4-0.5-16 0-1 1 0 1-1 1-2-0.5-2 0.5-1-0.5-4-3.5-1 1.5-5 0.5-2 1 0 4-4 1-1 0-1-1 0-2-1 0-0.5-1 0-1-0.5-0.5-1-0.5-2-0.5-1 0.5-1.5 2 0 3 0.5 2-1 0.5-2-1-2 0-0.5-0.5-0.5-1 1-1 2 1 1-1 0.5-3-1.5-1.5-2-0.5-1 1-1 2.5-4-0.5-4 0.5-0.5-0.5 0-1-0.5-0.5-1 0-2 1-0.5-1.5 0.5-3-1 0-1 1-3 0.5-2 2-2 1-2-1-4 1.5-1 2-1.5 2 2 3-0.5 0.5-1 0-1-1.5-1-0.5-1 0-2 1.5-1 4-2 1-1 0-2.5-2-0.5-1 0-2-1-1-2 0.5-2-3-1-0.5-1 0-2 0.5-2-0.5-1-1 0.5-4-0.5-1-1-0.5-2 1-1 0-3-1.5-2 0.5-3-1-2-2-1 0-2 1-3-1.5-5-1-2.5 1-0.5 1-0.5 4-1.5 0.5-3-0.5-2-2-4 1-0.5-1-0.5-3.5-1 0-1 1.5-1 2.5-4 0.5 0 108 92 0 11-0.5 3-2 1.5-2.5 0-6 1-3 2.5-9 0-2-1-4-4-4-0.5-1 0.5 0 3.5 3 1 3 0.5 0.5 1 2 0 1-0.5 0.5 0.5 4-0.5 4 0 5-0.5 3 0 4 3 2-2 1zM326 134l-1-0.5 0-0.5 2.5 0zM350 31.5l0-1 1-0.5 1.5 1-1.5 0.5zM275 37l-0.5-1 0.5-3 2-1.5 2.5 1.5 0.5 1zM102 97l-1-3 1-1.5 0.5 2.5zM110 39l-1-1 0-1 2-1 2.5 0 0.5 2-1 1-1 0.5zM272.5 44l1.5 0 0.5 0 0-1-0.5-0.5-1 0-1 0.5zM295 33l2 0 1-1 0-1-0.5-1-1.5-0.5-2 1-2 0-0.5 0.5 1 1zM303.5 31l0.5 0.5 1 0 0-1.5-0.5 0zM216 25l1 0 0-2-1 1zM15 24l1 0 0-2-1 0-0.5 1zM239 24l1 0.5 2-0.5 2 0.5 1-0.5-1-1-2 0.5-2-0.5-1 0z"/>
<path fill="#dff6e2" d="M128 134l190 0 4-0.5 2-2 5-1 1.5 2.5 1.5 0.5 9 0.5 4.5-1 3.5-2.5 6-0.5 1 0 0.5 1 1.5 2.5 2 0.5 0-100.5-12 0.5-0.5 0 0.5-1-1.5-1-2.5 0-1.5 1 0 2-1.5 1-1 2.5-1 0-3-2-4-1.5-7 0-3 1-0.5 0-1-1 1.5-1 0-1-4 3-1 0-1.5-1-4.5-1-2 1-0.5 2-1.5 1.5-1-0.5-1-1-2-1-4-0.5-1.5 1.5 0 2-0.5 0.5-1-0.5-1-1.5-1 0-6 3.5-2-0.5-1 0-1 2.5-1 1.5-1 0.5-2-0.5-1 0.5-0.5 1 0 2 0.5 1 2 1.5 3 1 1.5 2.5 0 1-2 4-3.5 4-1 0.5-6-1-3-1.5-3 0.5-7-1-5-1.5-7.5-2-1-1 0-2 0.5-2 1-1 2.5-2 1.5-2.5 4 0 3-2 3 0 1-1.5 0.5-2-1-2 0.5-0.5 3 0.5 1-1-1.5-2 0-3-1.5-3.5-1 1.5 0 2-1 0.5-3-0.5-1.5-2-1.5-1-1 0-1.5 1-1.5 2-0.5-4-2.5-1-1 0-1 1-2 4.5-1 0-2-3.5-1 0-3 2 0 1-1 0.5-3-1-3-3-3 2.5-5 0-1.5-1 0-2-0.5-0.5-1 0.5 0.5 2-0.5 1-2 1-2 0.5-0.5 0.5 0.5 1-1 0.5-3-0.5-1.5-1-1-1 1-1-0.5-0.5-1 0 0 1.5-4 1.5-2 1.5-1-1 0-1 2-1 0.5-1-2.5-2-1 0-1 1-1 3-2 1.5-1 1-2-0.5-3 1-1 0-3-2-2 0.5-1-1.5-3-1-1 0-2 2-1 0-3-1.5-1-2-1 0-2 1-2 0.5-37 1-8 1.5-2 1-4 0.5-1 0.5 0 1.5-4 1.5-4 0.5-0.5-1-2-1-4.5-1-1.5-3-2.5-1.5-8 0-5 1.5-4-1-1 1-0.5 2-2 3-3 3-1.5 3-2.5-1 0-1 2.5-1 0-1-3 0-1.5 2-1.5 1-4 0.5-5-4.5-2-1-1-3-1-1-6 1-2-2-13-1.5-1-0.5-1-1-2-0.5-2-1.5-3.5 1 0.5 1 2 2-0.5 1-1.5 0.5-4-1-3 0.5-3-1.5-13 0 0 100.5 91 0 8-0.5 5-0.5 1 0.5 1 0 0.5-1.5 0.5-6 2.5-7 1-7-1.5-4-4.5-5-1-3-2.5-4-0.5-2 0.5-4 1-4 1-2.5 0.5 0.5-1.5 6 1 6 1.5 4 1 2 4.5 4 2.5 5 0 6-1 4 0.5 5-0.5 3 0.5 1.5 2 2.5 1 0 1-1.5 1-0.5 2 2zM250 34.5l-1.5-0.5 0.5-1 1.5 0 0 1zM172 37l-0.5-1 0.5-1 1 1 0 0.5zM67 41l1 0.5 0.5-0.5 0-1-0.5-1-1 1zM278 38l1.5 0 1-1-0.5-0.5-1-0.5-1 0.5zM271 35l1 0.5 1-0.5 0-1-2-1.5-0.5-2.5-1.5-1.5-3 4.5 0.5 1 1.5 1zM41 32.5l3 1 0.5-1.5-3.5-1.5-1 0.5 0 1zM280 32l2 1.5 0.5-0.5 0.5-1-1-1.5-2 0.5zM83 32l1 0.5 1 0 0.5-1.5-0.5-1-1-0.5-0.5 0.5-0.5 1zM33 29l0.5-1-0.5-1-1 0 0 1.5zM25 28l0.5 0 1-1-1.5-1-1 1z"/>
<path fill="#effbd7" d="M103 130.5l2 1 0.5-0.5 1-5 2.5-7 1.5-6-2-5-4-5-4-8 0.5-6.5 1.5-4.5 0.5-1 1 1-1.5 6 1 7 2.5 5 4.5 4 2 5 0 6-0.5 4 0.5 5-0.5 2 1 2 1 0.5 1-3.5 1 0.5 1 1 4 1 2 1 5 0.5 188 0 3 0 1-1-1-2 1-0.5 2 1 2.5-1.5 0.5-3 2-0.5 1.5 0.5 0.5 1 0.5 1-2 2 2.5 0.5 2 1.5 2 0.5 9 0.5 6-2 4 0.5 2-1 1 0.5 2 2 2 0 0-93.5-13 0.5-7 2.5-1 0-2-2.5-2-1-3 1-6-0.5-2 1.5-1 0-4-2-2 1.5-1-0.5-1-1.5-1.5 0.5-0.5 3-1 0.5-2-2-3 1-3-1-2 1-2 2-2 0.5-1-0.5-3-2.5-1.5 1 1 3-1.5 2-1.5 0 0-3-1.5-0.5-3 1-3 3-3 0.5-0.5 1 0.5 2 2 1.5 2-0.5 2.5 4-3.5 6.5-2 2.5-2 1-3-1-3 0-3-1.5-3 0-7-0.5-8-2.5-7-0.5-1-1 1.5-4 2.5-3 2-1.5 1-2.5 1-0.5 4 0.5 1.5-1 1.5-2 2 0.5 1-0.5 0-1-1-2-1-0.5-6 1-0.5-0.5 0.5-3-1-1-3 1-3-1.5-3 2.5-2.5 0-1.5-4-3 2-2-1-3.5 1-0.5 2-1 0.5-1.5-0.5-0.5-1 0-2-1-1-2-0.5-2 0-2-0.5-2 1-0.5 3-1.5 1.5-1-0.5-2-1.5-2 0-3-1.5-3 0-3 2.5-1-0.5-2-1.5-1 0-3 2.5-3-0.5-2 1.5 0.5 2 2 2-1.5 1-1 0-2-2 1-2-1-2-2-1-2 1-1 0-1-1 0-1-2-1.5-1 0-0.5 1.5 0 1 0.5 1-1 2-1-3-2-1-1.5 0-0.5 3-1 0-4-3.5-3 1.5-33 0.5-5 1-1 0.5-1 0-1-2-1 0-4 1-1 2-2 2-1 0-2-0.5-1 1-1 0.5-1-1-1 0-3 1.5-2-2.5-2 1-2-2-1 0-1 0.5-1 0-3-3-3 0.5-2-1.5-1-0.5-2 2.5-3 0-2 1-2.5 0.5-0.5 1 0 2-0.5 1-1 0-1.5-1-1 1-1 2.5-2 3-2 1-1.5 1.5-1.5 0.5-4-4.5-3-2-1-2-1-0.5-1-0.5-2 0.5-1 0-0.5-1.5-2-2-0.5-1-4 0.5-4-1-21-1-3-0.5-3 0.5-16 0 0 93.5 88 0zM235 41l-1 0-1-1 0-1 2-1 1.5 1-0.5 1.5zM96.5 36l1.5 0.5 0-1.5-1-0.5-1 0.5zM248 31l1.5 0 0.5-1-1-1-1 0.5z"/>
<path fill="#f9fbbc" d="M355 127l3 2.5 1-0.5 1-1 0-86.5-12 0-8 1-7-1-4 0-2 0-2-1-2 1-3 1-1-0.5-0.5-1 1-1-0.5-1-2 1-2 0-1.5 2-1.5 0.5-1-0.5-2-1.5-6-0.5-1.5 1-1.5 2-3 0.5-2-1-1.5 2.5-3.5 2.5-1-0.5-2-2-3 1.5-3 0.5 0 1 0.5 1 2.5-0.5 4 5.5-6 9-1 1-2 0.5-4-1-2 0-3-1.5-10-1-4-1.5-4-1-4 0-4 0.5-3 0 1-4 2-1.5 1-1.5 4.5-4 1.5-4 1 0 3 1 1.5 0 0.5-1-1-2-5 1-1-1-1-3-2-1-1 0.5-1 2.5-1 0.5-4-0.5-2-0.5-2 1.5-2 0-3-2.5-4-1-0.5-0.5-0.5-2-1-0.5-1 0-3-0.5-1 1-0.5 4-0.5 1-1 0-3-1-1-2-2 0-3-2-3 0-3 2.5-4-1-3 1.5-2 0-1 1 0 1 3 2-3 2.5-2 0-2-1-2.5-0.5-0.5-1 1-3-1-0.5-4 0-2 2-2 0.5-2-2-1 1-3-0.5-1-1.5-1-0.5-1 1.5-1 0.5-37 1-1 0.5-2.5 2-1.5 0.5-1-0.5 1.5-1 0.5-1-2-1.5-1 0.5-0.5 1 0 2-2.5 0.5-2 1.5-1 0-0.5-1 0-1-0.5-0.5-2 0.5-1 1-1 0-1 0-2-2-3 2-3-1.5-3-0.5-2 2.5-1 0-1.5-2.5-0.5-3-1-0.5-2 0-3-1.5-1 0-2 1.5-3 0.5-3 1-2 4-3 1-1.5 4 0 1 1 2-0.5 2-1 0.5-7-1.5-1-0.5-1-2-3-1.5-3-2.5-1-2.5-1-1-1 0.5-1 1-1 0-3-2.5-3-1-14-0.5-34-0.5 0 87 84-0.5 20-0.5 1 0.5 1-1 1-2.5 1.5-5 1.5-6-1.5-5-4.5-5-4-8 1-8 1-3 1-1 1 0 0.5 1-1.5 6 0.5 6 2 5 5 5 2.5 5-0.5 10 0.5 3.5 1 1 2 0.5 2 1.5 2 0.5 3-1 3 1.5 21-1 52 0 1-0.5 0-1 1-1 1-0.5 2-2 2 1 2 0 1 0.5-1 2 0.5 1 5.5 0.5 66 0.5 37 0.5 2-2 4-0.5 2-3 2 0 2 0.5 3 2 1 1.5 2 0.5 7 0.5 8-1 3 1 1-0.5zM222 51.5l-1-0.5-1.5-2 0-1 1.5-1.5 1-0.5 3 2 0.5 1z"/>
<path fill="#f8f3ab" d="M119.5 127l1.5-0.5 0.5-1.5 0.5-1 2 0 2-1.5 0.5 0.5 1.5 2.5 18-1 34 0 10-0.5 4-1 2-1 0.5-2 0-2 0.5-0.5 1-0.5 2.5 4-0.5 1-2 0-1.5 1 0.5 2 1 0.5 2-2 1-0.5 2-1.5 2.5-0.5 0.5-1 0-3-2-2-2-1 0.5-1 1.5-1 2 0.5 2 1 2 0.5 0.5 1-1.5 4-2.5 2 0.5 1 3 0.5 2-0.5 2 1 6 1 62 0.5 9 0.5 5 1.5 2-1.5 1 0 4 1.5 8-0.5 5 1 1 0 2-2.5 1 0 2 0.5 2-2 2-0.5 4 0 3 2 18 0 2 1 4-1 3 0 0-79.5-20 0.5-11-0.5-3 1-1 0-2-2.5-1-0.5-3 1-2-0.5-3 0.5-3-0.5-2-1.5-1-0.5-2 0.5-2-0.5-0.5 0.5 0.5 1 0 1-1 1.5-1 0-3-1-5 1.5-3 2.5-1 0.5-3-1.5-0.5 0.5-0.5 1 2.5 3 0.5 2-0.5 1-2.5 2-2.5 6-2.5 1.5-2 0.5-4-1-2 0-3-1.5-10-1-4-1.5-4-1-3.5 0-6.5 1.5-2-0.5-2-1-2-2-2 0-1 0-0.5-1 0.5-1.5 2-0.5 5 0 1-0.5 7.5-5.5 1-2 0-2-1.5-2.5-1-0.5-2 2.5-5 0-2 0.5-3-1-3 0.5-2-2.5-2-0.5-4 2.5-2-3-1.5 1-0.5 2-4 0-2 1-1 0-1.5-2 0-3-1.5-2-1-0.5-2 0.5-3 2.5-4-1-2 0.5-1 1 1.5 2-0.5 1-4 4-1 0.5-4-2-3-0.5-1-0.5-0.5-0.5 0.5-3-1-0.5-1 0.5-0.5 1 0 1-2.5 2-1 2.5-1-0.5-1-1-0.5-3-1.5-0.5-3 1.5 0 1-1-0.5-2-0.5-14 1-24 0-4 1-5 0-4 1-7-1-1-1-4 1-2-1.5-1 0-1.5 0.5-1 3-1.5 1-2-1-1-3-2-3.5-3-1.5-2 3-1 0-0.5-2-2.5-0.5-1 1-2 0.5-1 1-1.5 3-2 1-0.5 2-1 1 0.5 3-1 2-0.5 4 1.5 4-0.5 0.5-2.5-2.5-0.5-1 1-2-1-1-7-2-2-2.5-5-3.5-1 0-2 1-1-0.5-1.5-2.5-3.5-1-8-1-42 0 0 79.5 106-0.5 2.5-5 1-7-1.5-4-4.5-5-3.5-8 0.5-8 1.5-4 1-0.5 1 0.5 0.5 1-1.5 6 1 6 2 5 5 5 0.5 2 2 3-0.5 3 0 8.5 1 1.5 1 0.5 1.5-0.5 0.5-1.5 1 0 0.5 1.5 0 2zM193 114l0-1 1.5 0 0 1-0.5 0.5zM203 107l0-1 1-1 1 1 0 1-1 0.5zM214 53l-2-1.5-5-1.5 0-1 2-0.5 3-4 1 1 1 3.5 2.5 2zM221 52.5l-3-2.5 0-1 2-5 1-0.5 2.5 2.5 3.5 2 0.5 1-1.5 1.5-4 2zM110 49l-0.5-1 0.5-1.5 1-0.5 0.5 2z"/>
<path fill="#f4e599" d="M303 125l1.5 0 2-2 1.5-0.5 1 0.5 0 1 1 0.5 3 0 7-2 2 0 6-1 1-0.5 0.5-1 0-1 0.5-1.5 0.5 0.5 0 3 1.5 2 1 0.5 2-2 3 0.5 22-1 0-72-33-0.5-3 1-4-2.5-3 1.5-3-1.5-3-0.5-2-3-1-0.5-2.5 1-2.5 2.5-4-0.5-1.5 1-0.5 2-1 0.5-2-2-1 1.5-2 1-1 1 0 3-0.5 1-2.5 2-1 1.5-0.5 2.5-1 3-5.5 2-4-1.5-2 0-3-1.5-10-1-4.5-2-2.5-0.5-5 0-7 1.5-8.5-3-1.5-1.5-1-0.5-2 1.5-1-0.5 0-1 1-1 1-2 1-1 2 2 4-1 4 0 2-2 5-3 1-1.5 0-2-3 3-4-2-3-0.5-2-1-1 0-3 1.5-2-1-4-1-1 0.5-0.5 1 0.5 1 5 3 0 1-2 0.5-2 1.5-2 0-2 2-1 0-2-1.5-1 0.5-2 0.5-3 2-3-2-2 0.5-1-2-2-2-1 0-1 1 0-1 2-0.5 1-2 3-1.5 1-2-1-3 0.5-2-0.5-1-1 0-1.5 1 0 3 0.5 3-1 1-4 0.5-1-0.5 1.5-3-0.5-1-1 0-4.5 4-0.5 1 0 2.5-1 1-4-2-2-2-3-0.5-2.5 1-0.5 1.5-4 0.5-3-0.5-3 1-1.5-0.5-0.5-2-1-0.5-1 1.5-1 0.5-40 0.5-18 1-2-1 0-2-1 0-0.5 1 0.5 1-0.5 1-1.5 0.5-1 0-0.5-0.5 0-1 2-2-1.5-1.5-1.5 0.5-1.5 3-2 1-1 0.5-2-1-2-2-3-1.5-1-1-5 2-1 0-2-0.5-3.5 4.5 0 2-1.5 1-0.5 1 0.5 1 1 1 0 6-0.5 1-1.5 1-1-0.5-2-2-2.5-4.5-6-3-5.5-5-1 0-2 2.5-1 0-2.5-2.5-5.5-1-47 0 0 72 82 0 22-0.5 3-1 1-0.5 1-7-1.5-4-4.5-5-3.5-8 1-8 1.5-4 1-0.5 1 0 1 1.5-1.5 6 0.5 6 2.5 5 5 5 0.5 2 1.5 2 0.5 1-1 3 1 7.5 1-0.5 2-0.5 1.5 0.5 1.5 1.5 3 0.5 3-2 3 0 0.5 0-1.5 2 1 1 3-1.5 13-1.5 34 0 10-1 2-1 2-2-1-3 0-1 0.5-1 4.5-3 2 0 0.5-1 0-2 3.5-4 1 0.5 1 0.5 1 1.5 0.5 2.5-0.5 2 1.5 2 1 1 3 1 1 1-1 3 0.5 2 2-1.5 4 2.5 5 0.5 60 1 8 0.5 2 2 2 0.5 1 0 2-2.5 1 0zM320 96l-1.5-1 1.5-1 2 0 0.5 1-0.5 1zM173 57l-0.5-1 1.5-1.5 0.5-1.5 1.5-0.5 1 0.5-0.5 1-1.5 1.5-1 1.5zM198 106.5l-3-1.5 3-4 1 1 0.5 3-0.5 1zM208 102.5l-1-0.5 1-2.5 2-0.5 1 0.5 0.5 1.5-0.5 1-1 0.5zM227 116.5l-1-1.5-0.5-2 1.5-5 1 0-0.5 3 1.5 3-1 2.5zM211 95l-0.5-3 0.5-1 1-0.5 3 0.5 1-1 1-0.5 0.5 0.5 0 1-1.5 3zM201.5 120l1.5 0.5 1.5-0.5 0.5-2-1-1-2-0.5-2 0.5 0 1zM196.5 113l0.5 0.5 1-1 0-1.5-1 0-1 1zM216 48l1-0.5 0.5-1.5-0.5-0.5-1 0-0.5 0.5z"/>
<path fill="#f1ce84" d="M293.5 123l1.5 0 1-2 1-0.5 3 0 3 3 1 0.5 6-3 1.5 1 0.5 1 6-2 3-0.5 3 0.5 3.5-1-1-2 1.5-0.5 2-2 1 0 2 2 2-0.5 2 1 11-1.5 12-0.5 0-62.5-36 0-1-0.5-1-2.5-2-2-2 2.5-4 2-1.5 2-4.5 1-4-2-4 0-1-1 0.5-2-0.5-1-6 3-1 0 0-1.5-0.5 0.5 0.5 1-1 2-2.5 2-1 2-2 6-1.5 1-5 0.5-1 0-3-1.5-2-0.5-3-1.5-10-0.5-5-2.5-2 0-5 0.5-7 1.5-9-2.5-2-1.5-4 0.5-0.5-0.5 0-4-0.5-0.5-1.5 1.5-1.5 0-1.5 0-1.5-1-2 0-1 0-2 2.5-1 0.5-3-2-2 0.5-1-0.5-1-2.5-1-0.5-2 1.5-4-0.5-0.5-1 2.5-1 0.5-1 0-1-1.5-1.5-1.5 0.5-1.5 3-1 1-1 0-2-1-3-1-1-2-2-1-1 0-1 1 1 2-1 1.5-2 1.5-0.5 3-0.5 1-1.5 0-2.5-2-3 2.5-2 0.5-2-1-0.5-2 0.5-3-0.5-1-1.5-0.5-0.5 0.5-0.5 3-6-1-46 0.5-9 0-1-0.5-1 0 0 2-1 0.5-2-0.5-2-3.5-3-0.5-3-2.5-1-0.5-2 0.5-2-1.5-1 0-6 2 0 2-2.5 5 0 5-0.5 3-1 1.5-2 1-3-2.5-2-3-1-1-1-2-2-1-6-2-1-1.5-1 3-7-2.5-5-0.5-47 0 0 62.5 69 0 34-1.5 3 0.5 1 3 1-1.5 1-3.5-0.5-1-1.5-4-4.5-5-0.5-2-3-6 1.5-9 1-3 1.5-1 1 0 1 1 0 1-1 6 1 7 1.5 4 5 4 1 1 0 2 2 2-1 4 0.5 2 1 1 4 0.5 5 3 3-0.5 5-4 0.5 1-0.5 3 1 0.5 2-1.5 5-1.5 8-2 24 0.5 9-1 5-1.5 4-3 2 0.5 4-2.5 0.5-0.5-0.5-1-1-0.5-2 0.5-1 0-1-4 1-1 3 0.5 3.5-3.5 0.5-2 1 0.5 3 0.5 1 1-0.5 1 0.5 0.5 1 0 0.5-0.5-1.5-2 2-1.5 1 0.5 0.5-2 2-2 0.5-2.5 7-3.5-1.5-2 0-4 0.5-2 1 0 2.5 3 1.5 3-2.5 2 1 5-2 2-0.5 2.5-1.5 1.5 0 1 0.5 2.5 2.5 0.5-0.5 3 1 1 0 1-2 1-1-0.5-1-1.5-0.5-3-0.5 0-5 0.5-1.5 1.5 0.5 2 1.5 2 0 1 0.5 0.5 2 0.5 3 3 1 0.5 4 0 4 1 0.5-1.5-1-3 2-2 0.5-4.5 1-1.5 1 2 2 2-0.5 2 0 3 0.5 2 2 1.5 7 0.5 30 0 9 0.5 13 3 1 0 1 0.5 0 2zM321 97l-3-1-1-1 1.5-1 2.5-0.5 2.5 0.5 0.5 1-1 1zM78 69l-1-1 1-1 2 0 0 1.5zM191 56.5l-3-1.5-0.5-1 0.5-1.5 1 0 3 1.5 0 1zM308 53l1 0 2.5-1-0.5-3-1.5-2-1.5-2.5-1 0-2 2.5-0.5 1 0 2-1 1 0.5 0.5 1 0zM179.5 52l1.5 0 0.5-1-0.5-0.5-1 0-1 0.5zM232 52l4-0.5 3 0.5 4-3 0-1-2-1.5-3 0-2-1.5-1 0-3 2-0.5 1z"/>
<path fill="#efb770" d="M303.5 122l1.5 0 2.5-1 1.5-2.5 2 0.5 2 1.5 1 0.5 3-1.5 2 0.5 2-0.5 3 0.5 1.5-3 2.5-0.5 1-2 1-0.5 3-0.5 3 0 5-1.5 3 1 1-2 1-0.5 1 0.5 0 2 1.5-1 1.5-1.5 4-0.5 4 1 2-1 0-52.5-39 0-2 0.5-1-0.5-1.5-1.5 0.5-0.5 2 0 0.5-0.5 1-2-1.5-1-3 2.5-0.5 1.5-1.5 1-3.5 0-1.5 1.5-5-3-5 0-1-0.5 0-2-1-1-1 0.5-4.5 3.5-1.5 3-2 2-1.5 4-0.5 1-2 1-3 0-3 0.5-2-1.5-3-0.5-4-2-8 0-3-1-2-1.5-3-1-13 2.5-3-1-6-1-2-1.5-4 0.5-2-3-3.5-0.5-1.5-1-1 0-1 0.5-1 2-1 0.5-2 0-2-1.5-2 0.5-1.5 1-2.5 0.5-1.5-0.5-0.5-1.5-1-1-3 0.5-1-0.5-1-2-1 0.5-1.5 2 0.5 3-3 2-1-1-1-2.5-1-0.5-2 0.5-1-3-0.5 1.5-1.5 2-1 0.5-3-0.5-0.5 1-0.5 2.5-1.5-0.5-0.5-1-1-0.5-1 1.5-1 0-4-3-2 0-6-1-42 0.5-13-0.5-2 0.5-2-1-3-4-3-0.5-2.5 0-0.5-2-5 0.5-1-1-1 0-1.5 0.5-2 4 0 1 1 2-2.5 0.5-0.5 1.5 1 4 1 2 0 1-1 3-2.5 3-2-1.5-4-4.5-2-3.5-1-1-1 0-0.5-0.5-0.5-2-1-1-5 0-2 1-12-1.5-48 0 0 52.5 70-0.5 15-1 15-3 1-1 0.5-2.5-3-7 1-7 1.5-5 1-1 2-0.5 1.5 1.5-1 7 0.5 2 1 1-1 2 2 6 4 3 2.5 1 0 1-0.5 1 0 1 2.5 1 0.5 1-1.5 3 0 1 2.5 0.5 5 4 4 0.5 1 0 4-3.5 2-0.5 1 0 1 1 1 0 5.5-4 0-1-1.5-1-2 0.5-0.5-0.5 0-2-1.5-2 0-1 1-1 1 0 2 1 2 0.5 1 0.5 1 4 4-1.5 3 0 15 1 7-0.5 4-0.5 4-1.5 4-2 5-5 0.5-3 1 0 0.5 1 1 2 1 0.5 1 0 1.5-1.5 0-3 0.5-1.5 1 0 2 0.5 2 1.5 2-0.5 2-2 2-1.5 1-3 3-1 1.5-1.5 0.5-1-1-1 0-1 1-2 0.5-3 2.5-2.5 2 1.5 2.5 1 0.5 1-0.5 3 1 2-2 3 0 1 1 9 1.5 3 1 1 4-1 1 3 3 2 1 2.5 2 0.5 5 1 29 0 11 1.5 10 3 1 0 3 1.5 3 1 1 1.5 3.5 1.5zM319 97l-3.5-2 0.5-1.5 6-1 4 1.5 1 1-5 3zM122 88l-1 0-0.5-1 1.5-2 1-0.5 0.5 0.5 0.5 1zM125 98l-0.5-1 1.5-1 1 1-1 1zM214.5 112l1.5 0.5 0-2.5-2.5-3-0.5-2-1 0-0.5 1 0.5 2zM102.5 106l2.5 2.5 0.5-0.5-1-2-1.5-0.5zM222.5 108l1.5 0.5 0.5-1.5-0.5-1-1 0-1 1zM217 100l1 0.5 1.5-0.5 1-1-0.5-1-1 0-1 0.5-1 0.5zM237.5 50l1.5 0.5 2.5-1.5 0-1-1.5-0.5-1 0.5-1 1z"/>
<path fill="#eca05e" d="M300 118l1.5 0 1.5-1.5 1 0 4 0 2-0.5 4 2.5 4-1.5 1 1.5 1-0.5-1-2-1 0.5-1-2.5 1-0.5 1 2.5 1 0 2-1 2 1.5 3-1 0.5-0.5 0-3 0.5-1 1-0.5 2 0 1.5-0.5 5.5-7-1-2-2-2 0-1 1-0.5 3.5 3.5 0.5 1.5 6-2 14-0.5 0-38.5-48 0-7-2-1-1.5-2-1.5-3 0-5-1-1 0-1 1.5-0.5 3-4.5 6.5-4 2-2-0.5-3 0.5-2-2-3-0.5-4-2-8 0-7-3-3 0-11 2.5-6-1.5-3-0.5-3-1.5-3.5 0-2-1-0.5-1.5-1-0.5-2 0.5-2 2-5-0.5-3 1-4-1-2 0.5-2 0-1 0.5-4-1.5-2 2.5-3 1.5-1-0.5-2-3-2 0.5-2-0.5-1 1-3-0.5-1 2.5-1 0.5-2-0.5-2 0.5-3-1-2-2-1 0-3 1-20 1-22 0.5-13-0.5-6-1-3-2.5-2 0-1-0.5-2.5-2.5-4.5-3-2 1.5-4 0.5-0.5 1 1.5 3-1 0.5-3 0-0.5 0.5 0 1 2.5 2 0.5 2-1.5 3 0.5 2 0 1-1 1 0 3-1.5 1-3-1.5-2 0.5-1-1 1-1-2-3-1-1-1 1-2-1-0.5-1 0.5-2-1 0.5-2-2.5-2 0.5-0.5-1.5 0.5-1 1 1.5 1-0.5 0.5-2-0.5-1-1.5 0-1.5 2-1-0.5-1 2-1 0-13-1-48 0 0 38.5 57 0 12-1 10-1 8-2 9-2.5 1 0 1-1 0-3.5 1-3 2-4 4-1.5 2 0 0.5 1.5-1 1-0.5 3 2 3 1 1 2 0.5 1 1.5 2 0.5 2 0 3 2.5 1.5-1 0.5-3 0-1-2-2 0.5-2 0.5-1 2-1.5 1 0 2.5 1.5-1 3-2 2-1 3 0 1 1.5 1.5 1-0.5 2-1.5 2 0 1.5-2.5 0.5-2.5 1-0.5 2 1 1 1 0.5 1-1.5 3.5-3 1.5-0.5 2-1.5 1.5-1 0.5-3-0.5-2 2.5-1 0-1.5-2-0.5-2-2-0.5-2 0.5 0.5 3-1.5 2 0.5 1 3.5 6 1 0.5 0.5 0.5 0 1-1 1 0.5 1 3 3 1 0 0.5 0-1-2 2.5-1.5 1 0 1.5 2.5 0.5 0 2-1.5 5-1.5-3-2 0-0.5 1-1 2 0.5 1-1 0-1-2-2 1.5-3 0.5-2 1-1.5 1 0.5 3 3.5 1 0.5 2-1 0.5-1 0-2-0.5-0.5-2 2-0.5-0.5-1.5-3-1-1 1-0.5 4 0.5 2 1.5 1.5-1.5 0-1 0-1 0.5 0 16 3.5 6 0.5 5-0.5 12-3 4-2.5 2-2 2 0 4-1 1 0 1 1-1.5 2 3.5 2.5 4-3.5 0-4-0.5-2 0.5-1 1-0.5 3 1.5 2-5 0.5-2 2-3 1-1 2.5-0.5 1 2.5 3.5 3 0 1-0.5 1 0.5 3-1.5 3 0.5 1 2 2-0.5 2.5 1 1.5 1.5 1 5.5 2.5 6 1 33 1.5 7 0.5 5 1 3 1.5 4.5 5 4 2 0 1-1.5 1 0 1 1 1 3 0 2 2.5zM303 74l-1.5-1 0-1 1.5-0.5 0.5 0.5 0 1zM322 99.5l-8-4.5 0-3 0.5-1 1.5 0 2 1.5 4-1 4 1 3 1.5 1 2 1 0 2 0 0.5 1-1.5 1-1 0-2-1.5-1-0.5-1 0.5-4 2.5zM91 58.5l-1-0.5 1-1 2 1zM114 79.5l-1-1 0-1 1.5 0.5 0.5 1zM120 105.5l0-2 1-1.5 1 0 1 2-0.5 1zM125 112.5l-2.5-1.5-0.5-1 0-1 1-1 1 0 2 2.5 0 1zM129 105l-2-2 1-1 1 0.5 0.5 1.5 0 1zM136 93.5l-1-1.5 3-2 0.5 1-0.5 1-1 1zM230.5 104l1.5 0 0-1-1-1.5-1 0.5 0 1zM110.5 103l1.5 0.5 1-0.5-1-3-1-0.5-2 0-2-1.5 0 2zM99 99l0.5-1-0.5-1-1-1.5-0.5 0.5 0 1zM194 98l1 0 0.5-1-0.5-3 1-1-1-1.5-1 2.5-1.5 1 0 1z"/>
<path fill="#eb8952" d="M313 116l2 1 1-1-1.5-2 0.5-1 7-4.5 1 1.5-0.5 3 1.5 1 1.5 0 0.5-4-1 0-1.5-2 0.5-0.5 4 0 0.5-0.5-0.5-2-1-1.5-2-0.5-5 0-1 0-4 3-1 0-0.5-2-1-1 0-1 1-1 0-1-0.5-0.5-1.5 0.5-1 2-0.5 0.5-1-0.5-1-1.5-1-2.5-1 0-2 0.5-2.5 1.5-0.5 3-2.5 3-0.5 1 2 2 0 1-1 2-1.5 1 3.5 3 4.5-1 2.5-1.5 1-0.5 2 1zM306 109l-2-1-1-2 0-0.5 1 0 2 2.5 0.5 1zM128 110l2 0 1-1 0.5-1-1.5-1-4-1.5 0 2.5zM115.5 104l1.5 1.5 1 0 0-0.5 0-3-1-0.5-1.5 1.5zM131.5 104l1.5 0.5 1.5-1.5 0-2 1.5-3-1-2.5-2.5 1.5 0 1 1 1 0 1-2.5 2 0 1zM315.5 101l0.5 0 0.5-1 1.5-0.5 0-1.5-2-0.5zM286 99l1 0.5 1-0.5 0-2-0.5-1-1.5-1 0-1 1-2 2-0.5 1 0.5 1 2 2 2 2.5 1 0.5 0.5 1-1.5 3 1 1 0 0.5-1 0-1-0.5-1-3 0.5-0.5-0.5 0-4-1.5-0.5-1-0.5-2 3-2-1-0.5-1-0.5-3 2.5-1 1-3 1.5-2 2 1 1 0 0.5-2-1.5-1 1-1.5 1 0 3 1.5 1 0 2-1.5 1 0 1 0.5 2.5 3 0.5 1-0.5 2-2.5 1.5-1.5 2.5-0.5 4 1 1 1 0.5 1.5-0.5 0.5-1-0.5-3 0.5-1 4 1.5 4-0.5-2.5-3 0-1 1.5-2 2.5-1 6-1 7.5-0.5 28-0.5 0-10-42 0-7-0.5-4-1.5-2-3-3-1-3-1.5-2 1.5-1.5-2-0.5-1 1-1.5 3 1 4-1 0.5-0.5-0.5-1-1-0.5-6 1.5-2-1.5-1 0.5 0.5 3-1 1 0 2-0.5 1-3 1-0.5 1-2 1-3.5 3-1 0-2-2-2 0.5-1 0-2-2.5-2-0.5-4-2-2-0.5-7 0.5-6-3.5-2 0-7.5 2-1 1 0.5 2-1 0.5-1-1-6-1.5-3-1.5-3 0-2-1-6-1-2-1-1 1 0 2.5-1.5 2-5.5 2.5-2.5-0.5-1-1 0-1 0.5-1 2-1 2 1 1-0.5 1-1.5 0-1-1-1-3 0.5-3 0.5-2-0.5-1 0 0 1.5-1 2-1 0-2-1-2 3-1-1 0.5-2-0.5-2-1-1-8 5.5-1-1-1-2-1-1-1 1-1 2-2 0.5-1 1-0.5 0 1-2-0.5-2-3 1.5-2-0.5-2 1-1 0-3-1.5-2-2-2.5 1.5-1 2-3.5 2-1-0.5-1 0-12.5 4.5 1 6 1.5 4 5 3 5 2.5 5 2 9 1.5 11-1 0-2.5 2-0.5-0.5 2 0.5 1 1 0.5 3-1 1.5 0.5 0.5 1 2 0 1.5-1 0.5-1-1.5-3 0.5-1.5 1-1 1 0.5 0.5 1-0.5 2 0.5 1 1.5 2 1-0.5 2-3 1.5-0.5 0.5-1-3-3 1-1 1 0 1 0.5 1.5 3.5 0.5 0 3-0.5 1 1 1-0.5-0.5-1 1-2 1-2 4-5-2-1-0.5-1 2 0 4 2.5 1 3 1 0.5 2 0.5 2-1.5 1.5 1 0.5 2 1 1 2-2 1 0 1 1-0.5 4-1.5 1.5-1 0.5-1-3-1-0.5-2 0.5-1.5 1 0 2-1 3 0.5 1 2 1 5-1.5 6-6 3-1.5 3 0 3 0.5 8 4 3 1 1-0.5-2-2 0-1 5 0-0.5-2 0.5-0.5 1 0 1 0.5 1 3.5 1 0.5 4-1 3 1.5 4-5 2 0.5 3-1.5 2 1.5 1.5 2 0.5 3-1 1.5-0.5 3.5 1 6zM290 79.5l-1-0.5 0.5-1 1.5-2.5 1 0.5 0.5 1-0.5 1-0.5 1zM298 75.5l-0.5-1.5 0.5-1.5 0.5 0.5zM302 75l-2.5-2 1.5-2 1-0.5 2 0 2 1.5-0.5 1-1 2zM192 69l0.5-1 2.5-1 2 0.5 1 0.5 0 1-5 0.5zM237 74.5l-0.5-0.5 0-1 1.5-0.5 0.5 0.5-0.5 1zM254 79.5l-1-1.5 0-1.5 2 0.5 0.5 1-0.5 1.5zM275 76.5l-1.5-1.5 1-1 1.5 0 0.5 1-0.5 1zM281 78.5l-1-1.5 0.5-1 0.5-1 2-1 0 2zM290 69l-0.5-1 0.5-0.5 1-0.5 1 0 0.5 1-0.5 1zM298 67.5l-1-1.5 0-2 1 0.5 1 2.5zM142 95l3 0.5 0-0.5-1-1-3-1 0 1zM204 93l1-1 0.5-1-0.5-0.5-1.5 1.5zM117.5 91l0.5 1.5 1 0 0.5-1.5-0.5-0.5-1 0zM299.5 91l1.5 1 1-1-1-2-2-1-1 1zM277.5 85l1.5 3 1-0.5 1.5-2.5-0.5-1-1-0.5-2 0.5zM107 85l4 0 0.5-1-0.5-1-1 0-3 1zM115 83l1 1 1 0 2-1 1 0 1-1-1-1-3-1-2 1zM124 83l2 0.5 1-0.5-1-1-1 0zM85.5 80l7.5 1.5 5-3 2 0.5 2 1.5 1 0 2-3.5-2-1 1-1 1-1.5 4 1.5 1-1 0.5-1-1-1-0.5-2.5-1-0.5-1.5 2-1.5 1 0-4-2.5-3-1.5-0.5-1 1.5-1 3.5-1 0.5-4-0.5-3 1.5-3 0-0.5-1 0-1 2.5-2.5 1-0.5 4 0 1.5-1-3-4-1.5-1-4 0-2-0.5-1 0.5 0 1 0 1 1 2-0.5 3 0 7-1.5 2 0 2z"/>
<path fill="#e97247" d="M302 114l3 0 1-1 0-1-2-1.5-1 0-1.5 1.5zM311 112l2 0 2-1 2-3 2.5 0 1-1-0.5-1.5-2 0-2 2-4 0 0-3-1-0.5-2 0.5-1-0.5-1-1.5-1-0.5-1 2 0.5 1 0.5 0.5 2 0.5 1 2-1 3zM311 111l-1-1.5-0.5-0.5 1.5-1 1 0.5 0 1.5zM325.5 106l1.5 0-0.5-1-1.5-1-0.5 1zM303.5 101l0.5 0.5 1 0.5 1-1-1-1-1 0zM170 86l4 1.5 1.5-0.5 0-1-2.5-0.5-0.5-0.5 0-1 1.5-1.5 2-0.5 3.5 0 1.5-1 1 0.5 0.5 1.5 1.5 1 3-2.5 1 0 1 1.5-1.5 3 0.5 1 3-0.5 2 1 1 0 0-1.5-2-1-0.5-1 0-1 1.5-0.5 2.5-3.5-2-4 0-1 0.5-0.5 3 0 1.5-1.5-0.5-1-2-1-3 1-4-2-3 0.5-2-2-4 0.5-2 1-1.5-1 0.5-3-1-0.5-2 2-1 0-3-2.5-3-1-0.5 2 0.5 1.5 1 1.5-5 4 0 1 1 3-0.5 1-1.5 0.5-2-0.5 0 1 2 2.5 3 1.5 3 0.5 1.5 1.5zM226.5 85l1 0 0.5-1-1-1-1 1zM257 81l1 0 1-1 0-1-1-1-1.5 1 0 1zM197.5 80l0.5 0.5 1-0.5-1-2.5-1 1.5zM283 79l2 2 2-1 0.5-2 1.5-2 2.5-5-4.5-0.5-1 1-0.5 1.5-2.5 5zM207.5 79l2.5 0.5 1-0.5 0.5-2 1.5-2 0.5-1-2.5-2.5-0.5-2.5-4.5-3.5-1 0-1.5 1.5 0 5 2 1 0.5 2zM276.5 79l2 0 0-2-0.5-1.5-1.5 1.5zM258 77l4 0 0.5-1 0-1-1.5-1.5-2 0-2-1-1 0.5-1 1 0 1zM87.5 76l0.5 1 1 0 0-1 2-2-1-1-1.5 0zM228.5 76l2 0-2-3 0-3 0.5-1 1-0.5 1 0 0.5 0.5-1 2 1.5 1.5 1 0 1-2 2 0 0.5-0.5-1-1-1.5-1 0-3-1-1.5-5 0-2.5-1.5-3.5 0-2 3 0.5 3 2.5 3-1.5 2 0.5 1.5 1 0.5 3-1.5zM278 73l1 1.5 0.5-1.5-0.5-1.5-1 0-3-2-0.5 0.5-0.5 1 0 1.5 1 0.5zM251 72l1 0.5 2-2.5 2 0 3-1.5 1 1.5 1 2.5 6-1.5 3 0 1.5-1 1-2-0.5-1-4-2.5-8 1-5.5-3.5-2.5-0.5-4.5 1.5-1.5 1 0 1 0 3 0.5 1 2.5 2 2-0.5zM217 70l3 2 0.5-1-0.5-2-3-2-1 0-1.5 1 0 1zM162 69l1 0 0.5-1-0.5-1-1 1zM294 68l1 1 1-0.5 0.5-0.5-1.5-3.5-1 0-1 1.5zM191 66l1 0.5 3-1.5 1 0 0.5-1-0.5-0.5-3 0.5z"/>
<path fill="#e45b3d" d="M313.5 110l0.5 0.5 0.5-0.5 0.5-1-1-0.5-1 0.5zM170.5 83l1 0 0.5-1-1-1-1 1zM182 79.5l2 2.5 1-0.5 1.5-1.5-0.5-1-2-0.5 0-0.5 1-1 1 0.5 4-1.5 1-1 1-2-1-1-4 0.5-1-1.5-3-2-1 1-0.5 2-1.5 2-1 0-1.5-2-1.5-1-2 0.5 0 1.5-1 1-1-1 0-2-4-1.5-1 0.5-1 1-1 3 0.5 2 0 2 0.5 0.5 2 0 3 1 2-1 1 0 2 1.5 2 1 2-1.5zM179 77l-1.5-1 1.5-2 1 2zM208 74l1 3.5 1-0.5 0-2 0-1.5-1-0.5zM222 68l3 2.5 1.5-1.5 5.5-2.5 0-1-1-0.5-5-1-3 1-1 1zM269 70l2-0.5 0.5-1.5-0.5-1-3-1.5-6 0-1.5 0.5-1 1 1.5 2 1 0.5 2 0 2-1zM206 69l2 0 0.5 0-1-1-1.5-0.5-0.5 0.5zM249 68l1 0.5 4-0.5 2 0.5 2.5-1.5 0-1-0.5-1-3.5-2-2.5-0.5-3.5 1.5 0 1z"/>
<path fill="#d84737" d="M170.5 78l2.5-0.5 3 0.5-1-2.5-1 0-3 0.5-1 1zM182.5 76l1.5 0 2-1-2-3-1 0-1 2zM167.5 73l1.5 0.5 1-0.5 0-1-2-1-0.5 1zM224 68l3-1 0.5-1-2.5-0.5-1 0.5-1 1zM255.5 67l1 0 0.5-1-1-1-1 1zM250 65l1 1.5 1-0.5 0.5-1 0-1-0.5-0.5-1.5 0.5z"/></g>
<use href="#bord" fill="none" stroke="#000" stroke-width="0.45" vector-effect="non-scaling-stroke"/>
<use href="#land" fill="none" stroke="#000" stroke-width="0.6" vector-effect="non-scaling-stroke"/>
<use href="#lakes" fill="#fff" stroke="#000" stroke-width="0.6" vector-effect="non-scaling-stroke"/>
</g>
<rect x="24.50" y="137.40" width="246.30" height="103.90" fill="none" stroke="#5a5a5a" stroke-width="0.8"/>
<text x="151.4" y="130.8" font-size="6.33" text-anchor="middle" fill="#1a1a1a">Moist Heat ERA5-Land</text>
<text x="24.6" y="130.9" font-size="6.9" font-weight="bold" fill="#1a1a1a">c</text>
<path d="M24.50 144.33h-2" stroke="#333" stroke-width="0.5"/>
<text x="21.3" y="146.2" font-size="5.3" text-anchor="end" fill="#1a1a1a">80</text>
<path d="M24.50 158.18h-2" stroke="#333" stroke-width="0.5"/>
<text x="21.3" y="160.1" font-size="5.3" text-anchor="end" fill="#1a1a1a">60</text>
<path d="M24.50 172.03h-2" stroke="#333" stroke-width="0.5"/>
<text x="21.3" y="173.9" font-size="5.3" text-anchor="end" fill="#1a1a1a">40</text>
<path d="M24.50 185.89h-2" stroke="#333" stroke-width="0.5"/>
<text x="21.3" y="187.8" font-size="5.3" text-anchor="end" fill="#1a1a1a">20</text>
<path d="M24.50 199.74h-2" stroke="#333" stroke-width="0.5"/>
<text x="21.3" y="201.6" font-size="5.3" text-anchor="end" fill="#1a1a1a">0</text>
<path d="M24.50 213.59h-2" stroke="#333" stroke-width="0.5"/>
<text x="21.3" y="215.5" font-size="5.3" text-anchor="end" fill="#1a1a1a">-20</text>
<path d="M24.50 227.45h-2" stroke="#333" stroke-width="0.5"/>
<text x="21.3" y="229.3" font-size="5.3" text-anchor="end" fill="#1a1a1a">-40</text>
<path d="M24.50 241.30h-2" stroke="#333" stroke-width="0.5"/>
<text x="21.3" y="243.2" font-size="5.3" text-anchor="end" fill="#1a1a1a">-60</text>
<g transform="translate(24.70,259.40) scale(0.68361,0.68000)">
<g clip-path="url(#lc)" fill-rule="evenodd"><rect width="360" height="150" fill="#c4eae7"/>
<path fill="#d0efe5" d="M0 150l360 0 0-150-360 0z"/>
<path fill="#dcf4e3" d="M0 150l360 0 0-150-360 0z"/>
<path fill="#e8fae1" d="M0 150l360 0 0-150-360 0z"/>
<path fill="#f0fbd3" d="M0 150l360 0 0-150-360 0zM266 57l-1-1 3-1.5 4.5 0.5 1.5 1-2 1.5-1-0.5-2-1z"/>
<path fill="#f7fbc1" d="M0 150l360 0 0-150-360 0zM45 24l-0.5-1 0.5-0.5 1 0 0.5 1.5-0.5 0.5zM66 44l-1.5-1 0.5-0.5 1-0.5 1 1-0.5 1zM69 41.5l-1.5-1.5 0.5-1 2.5 2-0.5 0.5zM91 10l-1-1 0.5-1 1-1 1.5 0.5 2 1.5-1 1.5zM103 32l-2-0.5 0-2 1 0 1.5 0.5 0.5 1zM137 7l-0.5-1 0.5-1 2 0-0.5 1zM185 75l-1-1 1-1 1 1zM200 93l0-1 1-0.5 0.5 0.5 0 1-0.5 0.5zM206 117l-2.5-2 0.5-1 0.5-2 1.5-1 1.5 1 0 1-1.5 2zM266 58.5l-3.5-1.5-1-2 1.5-1 5-1 4 1 2 0 1 0 1.5 2 0.5 0.5 1-0.5 0.5 1-0.5 1-2 0.5-3-0.5-2 0-2-0.5zM284 38l-1.5-1 0.5-0.5 1-1 0.5 0.5 0.5 1zM323 28.5l-2-1.5-0.5-1 0.5-1 4 1-1 2zM70 29.5l-0.5-1.5 0.5-1 1 0.5 0 1.5zM200 77.5l-0.5-0.5 0.5-1 2-0.5 0.5 0.5zM267 23.5l-0.5-0.5 1.5-3 1.5 0 1.5 1 0 1zM285 23l-2-0.5-2 0.5-1-1 1-1 1.5 0 0.5 0.5 2-2 1 0 0.5 1.5-0.5 1.5z"/>
<path fill="#faf8b3" d="M0 150l360 0 0-150-360 0 0 24.5 1 0.5 0.5 1-1.5 0.5zM17 26l-2.5-2 0.5-2 1-1.5 3-0.5 0.5 1-0.5 3 0.5 2-0.5 0.5zM45 32.5l-2-1.5-2 1-1-1 1.5-2-1-3 0.5-1 1.5-1 0-2 1.5-1 2 0 1 1 1.5 3-1.5 1-2 0-1 1 1 1 3 2-2 2.5zM51 30.5l-2-1.5 2-1 1-3 2-1 0.5 1 1 2-1.5 3-1 0.5zM63 51.5l-1-0.5-0.5-2 1.5-1.5 1 0.5 0.5 2-0.5 1zM72 66l-4-0.5-1.5-0.5 0.5-1 2.5-2 0.5-2 1 1-0.5 2 0.5 1 2 1zM75 34l0-1.5-1-0.5-1-3-2 2-1 0.5-1 0-1-0.5 0.5-1-0.5-3 0.5-1 3.5-3 1 0 0 2-1 2 1 2 2 0 2 1.5 1-1.5 1-1 1 1 0.5 1-0.5 2-1.5 2-2.5 1zM79 51.5l-1-0.5-0.5-1 1.5-1 1.5 1zM81 20.5l-0.5-1.5 0.5-1 2-1-0.5 1zM84 66l-1 0-0.5-1-0.5-1 1-0.5 1.5 0.5zM93 80.5l-1.5-2.5 1-1 0.5-1.5 0.5 0.5-0.5 2 1 2zM96 63.5l-1-1-1-0.5 2 0 1.5 1zM98 59.5l0-1.5 1.5-2 2.5-2 1.5 0 1 1-4.5 4.5-1 0.5zM110 143l-1 0-0.5-1-0.5-3 2-3 1 1 0.5 3-0.5 2zM114 138.5l-0.5-0.5 0.5-4.5 1 1 0.5 1.5-0.5 2zM118 98.5l-2-2-3 0-1-1.5 0-1 1-2 1 1 1 2.5 0.5-1.5 0-1 0.5-2.5-1-0.5-1 0.5-1 1.5-1-1-0.5-1 0.5-0.5 2-1.5 3 1 3 0.5 0.5 0.5 1 4-3 2zM122 112l-1-1 1-1 4 1 0 0.5-2 0zM127 22.5l-0.5-1.5 1.5-0.5 0.5 1.5-0.5 0.5zM134 116l-2.5-6 1.5-0.5 2 1.5 2 0.5 0.5-0.5-0.5-3 2-1.5 1 2.5-1.5 4-3.5 2.5zM156 24l-4-1.5 0-1.5 3-0.5 2 0.5 2-1.5 1 1.5 2 1 3.5 0 0 1-0.5 0.5-2 0-5-1.5zM162 70l-0.5-2 0.5-1 1 0 1 1-0.5 1zM168 79l-1 0-0.5-1 1.5-1.5 1 0.5 0.5 1zM174 45l0.5-5 0-3-0.5-1 1-0.5 2 0 3-0.5-0.5 2 0.5 1 2 0 0.5 1-5 4-1.5 2-1 0.5zM180 69.5l-0.5-0.5 0.5-1 1 0 0 1zM187 78.5l-0.5-1.5-2.5-1.5-1.5-1.5 1.5-2.5 1-0.5 1.5 1 0.5 1-0.5 3 1 1 0.5 1zM189 89l-0.5-2 0.5-0.5 1-0.5 1 0.5 0.5 0.5-1.5 2.5zM193 101.5l-1.5-1.5 0-1 2.5 0 1.5-2 1.5-0.5 2.5 1.5-1.5 2-3 0zM196 115.5l-1.5-0.5-0.5-1 2-0.5 0.5 1.5zM206 119l-3-3-1 0-2 2-0.5-1 0.5-1.5 2-0.5 1-2 0-1-2.5-4-0.5-3 0-1 1 0 2 2 2 0 3 3 1 3-0.5 3 1.5 2 0 0.5-1 0-2 1.5zM228 73l-1-1 1-1.5 1-0.5 0.5 1-0.5 1.5zM233 32l-1-1 0-1 0-0.5 1-0.5 2 1 0 1-1 1zM235 40l0-1 1-0.5 2 0.5 1.5 1-3.5 0.5zM239 67.5l-1.5-0.5 1.5-3 1-0.5 0.5 0.5-0.5 3zM242 16l-1-0.5-1-2.5-1 0 3 0 1 2zM248 27.5l-1.5-0.5 0.5-1 1 1zM250 43.5l-2-1.5 1-1.5 1-0.5 0.5 1 0 2zM257 71l0-2 1 0 0 2zM258 77.5l0-0.5 1-1.5 3.5 0.5-0.5 1-1-1-0.5 1-1.5 1zM266 69l-1 0 1-3 0.5 2zM285 67.5l-2-1.5-0.5-1 2.5-1 5-0.5 1.5 0.5 0 1-0.5 0.5-2-1-3 3zM292 38.5l-0.5-1.5 1.5-1 1.5 0 0.5 2-1 1zM296 115l-1 0-1.5-2-0.5-1 1-2 1 0 1 2 1 1 0 1zM298 121.5l-1-1.5-0.5-1 0.5-0.5 2 0 0 0.5 0 2zM304 119.5l-0.5-1.5 0.5-3-0.5-1-2.5-1-1-1 0-2 1-1 1 0 2 2 1-0.5 0.5-0.5 0-1 1.5-2.5 0.5 1.5 0.5 1 0.5 0-2 2-1.5 3 0 1 1 1 0 2-1 1.5zM306 124l-0.5 0-0.5-1 3-2 0-1 0 3zM311 113.5l-1-0.5 0-1 0.5-1-0.5-1-1-1 1-1 2 2 0 3zM320 128l-0.5-1 0.5-1 1-1 0.5 0 0.5 1zM323 43l-1.5-1-0.5-3-3-1 0-1 2-0.5 1 0 0.5 0.5 0.5 1 2 1.5 0 1.5zM325 104.5l-1-0.5-0.5-2 0.5-3-1-1 0.5-1 2.5-0.5 2 1 2.5-0.5 0.5 3-1 1-1 0.5-3 0-0.5 0.5 0.5 2zM327 135l-0.5-2 0.5-0.5 1-1 1.5 0.5 0 1-0.5 1-1 1zM331 28.5l-1-3.5 0.5-1 0.5-0.5 1 0.5 2 1 1 0-0.5 1-2.5 2.5zM332 116l-1-1 1-1.5 1.5 1.5 0 1zM54 17l-0.5-1 1.5-1 0.5 0-0.5 1.5zM62 38.5l-3-2-0.5-1.5 0.5-1 3 2.5 2-0.5zM68 57.5l-4-2 0-2 3-1 2.5 0.5 1 2-0.5 1zM77 26.5l-0.5-0.5 0-1 0.5-1 1 0 1 1-0.5 1-0.5 0.5zM84 54l-1-1 1-2 0.5 1 2.5 1 0 1-1 0.5zM89 55.5l-0.5-1.5 2 0 0.5 1-1 0.5zM93 34.5l-1.5-1.5 0.5-1 1-0.5 3 1.5 0.5 1-0.5 0.5zM94 52.5l-1-1.5 1-1 1-0.5 5 0 2-3 6 2.5 0 1-1 0.5-2-1-3 0-1 1-1 1.5-1 0.5-2-2zM114 101l0-1 1-0.5 1 0.5 0 1-1 0.5zM114 27.5l-1.5-1.5 0.5-1 3.5 0-1.5 3zM118 47l0-3 2-0.5 1.5 0.5-2.5 2.5zM124 44l-0.5-2 0.5-1 1 0.5 0.5 0.5-0.5 1zM132 105l0-1.5 2 0.5 0 1zM134 94.5l-0.5-0.5 1.5-3.5 4 0 1 0.5-0.5 1-4.5 1zM136 106l-1.5-2 2.5-0.5 2 1.5-1 1zM144 18l-1 0-1-2 0.5-3-1-1-0.5-2 1-1.5 1 0.5 1 1-0.5 3 1 1 0.5 3zM146 15l-1-1 2.5-3 0-1-1-2 0.5-0.5 2.5 2.5 0 3-0.5 1-1 1-1 0.5zM161 8l-1-1 1-0.5 1 0.5zM167 65l-0.5-1 0.5-1 1 0 2 1-1 1.5zM189 66l-1.5-4-1.5-1-0.5-1 1.5-0.5 5-0.5 1 1-0.5 1-0.5 1-2 2 0 1zM194 77l-2-3 0-2.5 1.5 2.5 2.5 3-1 0.5zM197 86l-2-1 0-1 1-0.5 1 0 1.5 1.5zM201 95.5l-3-0.5-1-2 0.5-1 2.5-2.5 1 0 2.5 2.5 0.5 1-2 2zM205 101l-0.5-1 1.5-1.5 1-0.5 0.5 1 0 1zM212 92.5l-0.5-0.5-0.5-1 1-2 0-3 1-1.5 1-0.5 1 0.5 0 1.5-1.5 2 0.5 3-1 1zM232 22.5l-0.5-0.5-0.5-2 3 1-0.5 1zM238 30.5l-0.5-0.5-0.5-1 1-1 0.5 1zM251 40l0-2 1-1 1 1 0 1zM266 59l-3-1-3.5-2 0.5-1 2-1.5 5-1.5 5 1 2-0.5 3 2 1-2.5 1 0 0.5 1 0.5 4-1 1-3 1-3-0.5zM284 59l-2.5-2 0.5-0.5 1 0 1 1 1 0.5 2-1 2-0.5 0.5 0.5-0.5 2.5zM293 33.5l-1.5-1.5 2.5-2 1-1.5 2-1 1.5 0.5 0 1-0.5 1-3 1.5zM296 57l0-2-2.5-1-0.5-1 0-1 2-1.5 3 0 2-2.5 1 1 0 2-1 1-3 0.5-1 1.5zM298 90.5l-0.5-0.5 1.5-1.5 1 0 0.5 0.5zM303 100l0-1 1-0.5 0.5 1.5-0.5 0.5zM308 28.5l-2.5-0.5-1-3-1.5-2 1-1.5 3 2.5 2 0 0.5 1-1 3zM307 94l0-1 1-0.5 1.5 0.5 0 1-0.5 0.5-1 0.5zM321 120l-2-2-2 0-1-1 3-1.5 2 1.5 1.5 1-0.5 1zM324 30l-4-2-2 1-1 0-3-2 0-1 2-1 1-2 1-0.5 2 1 2 0 4 1.5 1.5 1-2 2zM327 113.5l-1-0.5 0.5-3 1.5-0.5 1 1 0 1.5-1 1.5zM342 28l-1-1 3-3 1 0 1-1 0-1 2.5-1-0.5-1 1-0.5 1 1 2 1.5 0 1-1 1.5-1 0-4-0.5-1 4-1 1zM62 27.5l-0.5-1.5 0.5-1 1.5 1 0.5 1-1 0.5zM69 46l-4-1.5-1-1.5 0-1 2.5-1 0.5-4 1 0 2 2 4.5 2-0.5 1-3 1.5-1 2zM89 15.5l-1-3-1 0-2 0-1.5-1.5-0.5-1 1-1 1-0.5 1 0.5 2 2.5 1 0 1 0.5 0.5 2-0.5 1zM94 22l-1.5 0 0.5-1 1-0.5 1 0.5zM96 29l-2.5-1 0-1 2.5-2 1 0 0.5 3zM97 41l-1-1 0-1 1-1.5 3 1 0 2zM101 32.5l-1-1.5 0-1 1-1.5 2 0 3 2.5-2 2zM137 8.5l-2-2-1 0-1 1.5-0.5-1 0.5-1 2-0.5 2-1 2-0.5 2.5 1zM189 36.5l-3.5-0.5-0.5-1 1-1 1-0.5 2 0.5 1 1 0 1zM193 70.5l-1.5-4.5 1.5-1 1.5 1 1 3 0 1zM200 78.5l-2.5-1.5 0.5-1 1-1 4-1 1 0.5 0.5 1.5-0.5 1.5-2 0zM203 89l-0.5-1 0.5-1.5 2 0 1.5 0.5 0 1-1.5 1.5zM211 71.5l-2-1.5-3 0 0-2 1-2-1-2 1-0.5 1 0.5 0 1-1 1 5.5 3 0 1zM262 35.5l-1-1.5 2.5-3 0.5-2-3-2-1-2-1 0.5-3 1.5-1-1.5-1-0.5-2-2-1 0-0.5-1 0.5-0.5 2 0.5 3 0 0 1 1 1 0.5-1-0.5-1-1-0.5 0-2.5 0-1 2-0.5 1.5 0.5 0 2 0.5 1.5 2 0.5 2 1 1-0.5 2-3 1-0.5 5 2 2-1 2-0.5 1-0.5 5 1 1-0.5 1-1.5-2-1-2-2.5-2 1-1.5-1.5-1.5-1 1-1.5 5 2.5 4-2 1.5 3-0.5 1-1.5 1 0 1 2.5 0 4-2.5 0.5 0.5 1 2-0.5 5-1 3-4 1-2-2-3 1-1-1.5-4-1.5-2.5 3-2.5 5.5-1 0.5-1.5-1-0.5-1 0.5-1 3.5-5 0-1-1-0.5-5 2.5-3 0-0.5 3 2.5 1 0.5 1-2 2 0 2-1 1-1.5 1zM276 34.5l0-2 1-0.5 1.5 1-0.5 1.5-1 0.5zM282 38l-0.5-1 1.5-2 0-1-3.5-1 1.5-1 1-1 1-4 2 3-1 1.5 0 1 1 0.5 1 0 1 1 0 3-0.5 1-1.5 0.5-2 0zM284 47l-0.5-1 0.5-0.5 1-1 0.5 0.5 0.5 1-1 1zM288 51l-1.5-1 0.5-1 1.5 1zM297 26.5l-2.5-4.5 1.5-1 1 0 3 2 0 1-1.5 1zM294 47l0-1 1.5 0 0 1zM299 80l-1-1 1-6.5 2 3 1 0 1-1 2 2.5-1 1.5-2-1-1 0zM304 91l-0.5-2-1-1 0.5-1 1 0 1 1 0.5 1zM310 45.5l-2.5-1.5 0.5-2 1 0 2 2 0 1.5zM320 52l-1-1 1-0.5 2.5-0.5 0 1-0.5 1-1 0.5zM66 24.5l-1-1.5-0.5-4-1.5-2 1-1.5 1 0 1 1 1.5 2.5 0.5 3 0 2-1 1zM94 12l-4-1-1.5-3 0.5-1 1-0.5 4-1 2 0 2 1.5 0.5 1-1 2zM98 24.5l-1-0.5 1-1 1.5 0 0 1zM105 24l-1-2 0-1 1-0.5 4.5 2.5-0.5 1-1-1zM118 36l0-2.5 1 0 1.5 0.5-1.5 1.5zM186 27.5l-0.5-0.5 1.5-1 0.5 1zM198 73l-1-2 0.5-1 0.5 0 1 0.5 0.5 1.5-0.5 1zM201 50l-1-1 0.5-1 0.5-0.5 1 1.5zM204 73.5l-1-1.5 0.5-1 2.5-1 0.5 1-0.5 1.5-1 1zM207.5 81l-3 0-0.5-1 1-1.5 2 1.5zM210 41.5l-1-1.5 0-1 3-1 1 2-0.5 1-1.5 1zM263 19.5l1.5-3.5 0.5-0.5 1 1.5-0.5 1-1.5 1.5zM299 17l-1-0.5-0.5-1.5 0.5-1 1 0 1.5 1 0 1zM303 85.5l-1-1.5 1-3 1 3 0 1zM108 14l-4-0.5-1-1.5 0.5-1 2.5-5 1-1 1-0.5 3 0.5 1.5 1-0.5 1-1 0-2-1-1 1-0.5 3 0.5 2 1 1 0 1zM199 67.5l-2-1.5 2-1.5 1 1.5 0 1zM201 36l-1-1-2-0.5-1-1.5-2-1.5-0.5-1.5 1.5-1-0.5 2 1.5 1 3 1 3-0.5 1.5 0.5 0.5 1-3 2zM205 55l-1-1 1-2 1 0.5 0.5 2.5zM206 61.5l0-1.5 1-1.5 1 0 1.5 1.5-1 1-1.5 0.5zM303 19.5l-1.5-2.5 0.5-1 3-1 0.5 1-0.5 1zM207 38l0-1-2-2 0.5-1 1.5-0.5 1 1.5zM207 31.5l-1.5-2.5 0-1 1.5-2 1.5 1 1 1-1.5 2.5zM208 24.5l-1-1 0-1.5 1-1 2 0 2-1.5 1.5 0.5-0.5 1-1 1-1 0.5-1.5 1.5zM287.5 22l1.5 1.5 1 0 0.5-0.5 0-3-1.5-1-1 0-0.5 1z"/>
<path fill="#f7f2a8" d="M110 146.5l3 2 1 0 1.5-1.5 1-2-0.5-2-2-2.5-1 0.5-1 2-1 1-1 0.5-1 0-1.5-1.5-1-4 0.5-1 1 0 1-1 1.5-3 1.5-9 2 0 0.5 1 0 2-1.5 2 0.5 1 1.5 1.5 2 3 2-1.5 1-2.5 1-0.5 0-1.5-2-0.5 0-3-3.5-2-1-7 0.5-1 1-1 1-0.5 1 0.5 2 2-0.5 1-2 1 0 3 0.5 1 3 1 2 2 0.5-2 0.5-0.5 2 0 1-1 0.5-1.5-0.5-1.5-2-0.5-0.5-2-1.5-2 0-1-2-1.5-0.5-1.5 0.5-1.5 3 0 2-1.5 0.5-1-1-3 1.5-2 0-3-2-3-2 0-1-0.5-1.5 0.5-1 1 0.5 1 2 1.5 1.5 3.5-2.5 1.5-3-0.5-2 0.5-3-3-0.5-0.5 1-2-0.5-1-1-0.5-1-0.5-2 2.5-1-0.5-1 0-1 1-1.5-3 0.5-1 2 0 1-1-0.5-2 0.5-0.5 2 0.5 0.5-1-1.5-2-1-0.5-1 1.5 0 1-2 0-1 0.5-1-0.5 0-2 3-2.5 2-0.5 3 0 1-1 0.5-1 1.5 0 3.5 3 3.5 0 2 2 1 0 1 0.5 0 1.5-1.5 1-0.5 1 0 1 2 1 2-1 3 0 1.5-2 1.5-1.5 1.5-2.5-1.5-1-1.5-3-1.5-1-2 3-1 0-1-2.5-2-0.5-1 1-2.5-1-1.5-4 0-3-1-1-4.5 1-1.5 1.5-1-1.5-1 0-2 2-1-0.5-1-2-1 0-2 4-2 0-2 1-0.5-0.5-0.5-2 0.5-3-0.5-1-1.5-1 0-2 2.5-0.5 3 2.5 1 0.5 1 0 0.5-0.5 1-3 1.5-0.5 1 3 1 0.5 1 0 0.5-1-1.5-2.5-1.5-0.5-0.5-1.5-2-1.5 0-1-2-2-1-2-2 2-2.5 1 0 2-1 1-2.5 0-6-1-1 1-0.5 1 0 2 1.5 1 2-0.5 0.5 1.5-0.5 2-1-0.5-5-3.5-0.5-1 0-1-0.5-1-2-2-0.5-1 0.5-3 1-1.5 1-0.5 1 2 2 0.5 2-0.5 1.5-1 1-2 2-1 0.5-1-1-1-3 1.5-1-0.5-2 1.5-0.5-0.5 0-1 0.5-1 1 0.5 0.5-0.5-0.5 0-1 0-3-1-4 1-1-1 0.5-2-2-3 0-1 1.5-0.5 4-0.5 3-1.5 4-3.5 1-0.5 2 0.5 1 1-1.5 4 0.5 1.5 4-1.5 3 0.5 1-0.5 1-2.5 1-0.5 2 0.5 2-1.5 0.5-1 0-2-1.5-3.5 3 1.5 2.5 2 0 3-3 1-0.5 1 1 1 2 2 1 0 2-2.5 1 0 0 2 1 0.5 1-1 1-2 0-3.5 1-1 3 0.5 1-1 0-1-2-1-2 0.5-1.5-1.5 0-2 0-4-0.5-1-1-0.5-1.5 0.5 0.5 3-1 0.5-2 0.5 0 1 0.5 2-0.5 0.5-1-0.5-0.5-2-1.5-3-2 0-2 1.5-2-0.5-1.5 2 0.5 3-1 2.5-2 0-1 1-1 0-0.5-1.5 0.5-4-0.5-1-3.5-1.5-2-1.5 0-1 1.5-1 0-2-0.5 0-1.5 2 0.5 1-2 1-2 2 1 2 0 1-1 0.5-2 1-1.5-0.5-0.5-3 0-2-2 0-2 1.5-0.5 0.5 2 2 0 4 1 2-2-1-2.5-0.5-2 1-2 0.5-0.5 1 0 1 1.5 1-2 1-2-0.5-4.5-3.5-1.5-3-4.5-4-0.5-2 0-2-1-1-2-1-2 1.5-2-1-2 0.5-0.5 3 0.5 1 2 0.5 3-2 2 1.5 1 2 0 1-2 1-1-1.5-3-0.5-1.5 1 0.5 1 3 2-1 6 0 1 1 1 1-0.5 1-1.5 0-5 1-1 3 0.5 1 0.5 0 1.5-1.5 1.5 0.5 2-0.5 1-1.5 1-1 2-2 0 0.5 2 0.5 0.5 2 2 1 0 0.5-3.5 1-3-0.5-1 3-2.5 1 0 5 4.5 2 1 1 1 0.5 2 0 1-2 2 1.5 1 1 2 0 2 2 2-0.5 1-2.5 2 0.5 2 1.5 3 2 1.5 2 0.5 2-0.5 2-1 1 0.5 1 1 0.5 2 0.5 0.5 1-1.5 2.5 0 1.5 1-1 1 1 1.5 1-0.5-1-2 2-1 0.5-1 1.5-0.5 2 0.5-1 3.5 1 1.5 3 2-0.5 1 1.5 2 1 2-2 4 2 2 0 2.5-1-1.5-1 0.5-1.5 2.5 1 2 1.5 0.5 1-1.5 1-0.5 1 2.5-1.5 2 1 3 2.5 2 2 1 1 1 1 0 1 1 0 1 0 0.5-2-2.5-1 2 0.5 4 1.5 1.5 1-1 0 1-1 1.5-2 1-1 1-1.5 9 0.5 0.5 3-2 1 1.5-1 2-3 1-0.5 1 2.5 2-2 2 0 1 1 1 0 1-1 1.5-1 0.5 0 1 2 0.5 0.5 1.5 1.5 1.5zM113 111.5l-1-2.5-0.5-2-2.5-3 0-0.5 1 0 1 0.5 2 2.5 1 0.5 2 0 1 1 0 2-1 1-1 0-1 0.5zM74 52.5l-0.5-1.5 0.5-1 1 0.5 0 1.5zM76 64l-0.5-2 0.5-1 1-1 1 0 0.5 2-1 2-0.5 0.5zM78 72l-1.5 0 0-1 1.5-0.5 0.5 0.5zM117 142l2 3 1 0 2-0.5 0.5-0.5-0.5-4-1-1.5-1 0-2.5 2.5zM344.5 136l1.5 0.5 2-0.5 2 1 1-1 2-0.5 1.5-1.5 3.5-1 1.5-2-0.5-1 1-1 0-3-1-0.5-1 0.5-1 2-2-3.5-1-0.5-1 0.5-2 1.5 0 2 2 1.5 2 0 1 0.5 0 1-1 1-3-1-1 0.5-1 2-1 0.5-2-1.5-2.5 2.5zM320 131.5l2 1 3-1.5 2 0 2-1 0-2 2-0.5 1-0.5-0.5-1 1-1-0.5-0.5-4 1.5-1 0-1-4 2-1 7 0 1-0.5 1-1.5-0.5-1-0.5-0.5-2-0.5-2 0.5-1-0.5-2-3-1.5 1-0.5 1-1 0-1.5-2 0-3-0.5-0.5-3 1-1.5 1.5 0 1 0.5 1 3.5 3-0.5 2 0.5 2 0 4-0.5 1-1 1.5-3.5 1.5zM199 128l6 0 3-2 0-1-1.5-1-0.5-1 0.5-1-0.5-0.5-1.5-0.5-1.5-3.5-1 0-1.5 1.5 0 1 1 2-2.5 1-1-0.5-0.5-2.5 1-2 0-3 2.5-1 1.5-1 0-1-3.5-4-0.5-2-1.5-1-1 1 0 2-2 1-0.5 1 0.5 1.5 3 1.5 1 1-0.5 2-1.5 1-3-1-1 0 1 2 0.5 2 2 3 1.5 1 0.5 2zM292.5 126l2.5 2 2 0 1-1.5 0-1.5-1.5-2-0.5-1.5-2-1.5 1.5-3-3-3-0.5-1.5-1.5 1.5-0.5 3 2 3 0.5 2 0.5 1 1.5 0 0 1-0.5 0.5-1-0.5 0-0.5-1 1.5zM301 127l1.5-1-0.5-0.5-1 0zM315.5 127l1.5 0.5 1-0.5 0-1-2-1-1 1zM130 123l1 0 1.5-2-0.5-1-1-1-1 1zM314.5 123l0.5 1 2-1 2 1 1-1 0-1-2 0-1.5-2-2.5-0.5-1-1-2 0.5-1.5 2 0.5 1.5 3-0.5zM299 115l3 3 0.5-2-0.5-1-2-0.5zM308 117l3 0 1-1-0.5-1-1.5-0.5-1 0.5zM127 116l1 0.5 3-0.5 1-2 0-1-0.5-1-1.5-0.5-2 0.5-1 2zM211 116l2 1 3-1 2-2 0.5-1-2.5-0.5-3 2-2 0.5zM222.5 116l1.5 1 3-1 2 0.5 1.5-1.5 1-2-0.5-1-1-0.5-1 0-2 3-2-1.5 0-2 2-4-1-2 0.5-2-0.5-0.5-1.5 0.5 0 2-3.5 1.5-0.5-3.5 0.5-1 1.5-2 0-2-0.5-2-2 1-2.5 0 0-1 1.5-6.5 1-1 1 1 3 0.5 3-1.5 1-1.5-2-2-0.5-1 0.5-0.5 2 0.5 2 2 1 0 2-2 1.5-5-1-5 0-2-1.5-3-1 0 0 2-1.5 2 0 2-0.5 0.5-2-0.5-2 1-3 2.5-1 0.5-0.5-1-0.5-1 1.5-2 0.5-4.5 1 1 1 0 1.5-0.5 1-1-3.5-1 0-1 1-1.5 2-1 1-0.5 3 1.5 0.5-0.5-1-2 0.5-1.5 1-0.5 3 0.5 2-1.5 2 1 3 0 1 0.5 0 1.5-1 2 1 2.5 4-2 2 1 1 2 5-4 1-0.5 2 1.5 1 0 1 1.5 0.5 2-0.5 2.5-4 2.5-0.5 1 1.5 0.5 3-3 3 1 4-1 3-2.5 1 0 2 2 3-1 1-1-1.5-2 0-1 0.5-1.5 3 3 1-0.5 1 0 1.5 1 0.5 1-1 1-1 0-2-2-1 0-1 1 0 1 1 2-0.5 1-1 1-0.5 3 1.5 2 3.5 2 2-2 1.5 2 1.5 1 1.5-1 1.5-2.5 2 0 1-0.5 1.5-2 0-1-0.5-0.5-3 0-0.5-0.5-0.5-2.5-3-1-2-2.5 0.5-2-0.5-0.5-3.5-1.5 0-1 0.5-1 2 0 3-1.5 2 0.5 4-1 1.5 1 0.5 2 0.5 1-1.5 3 0.5 1 0.5 0.5 1-2.5 1 0 3 1 1 2 2 1.5 1-2.5 3-3 0-2-1-3 1-3-0.5-1-2.5-2-1 0-2 1-0.5 1 1 2-0.5 4-4 1-1.5-2 2.5-1 1-1-0.5-1-3.5-3.5-2 1-1 3-4 0-2 1-1.5-2.5-1.5-1-5 1.5-9 0-5-1.5-4.5-3 0.5-0.5 2-0.5 4-2 1.5-1 0.5-2 2 0.5 0.5-0.5 0.5-2-3-1.5-3.5-0.5 1.5-2-0.5-1-0.5-0.5-0.5-2.5-1.5-2-1-0.5-2 0-3.5 0.5-0.5 2-2 2-0.5 1 1 2-0.5 0.5-1 3-0.5 0.5-3.5 1.5-0.5 1.5 0 2-1.5 1-1-0.5-1-1.5 0-1 2-4 0-2-3-2-1-1.5-6 0-1.5-1.5 0-1 1.5-1.5 5 0.5 3-1 4-2.5 0 3.5 1 1 1.5-1 1.5-3 0-0.5-3-1.5-2 0.5-8 0-2 1-2-1.5-2 0-1-1 0-1 0-4-2-2 1-4-1-1-2-1-6 1.5-1 2.5-1 0.5-1 0.5-1-0.5-1-3-1 0.5-2 2-1 0-0.5 1 1 1 0 1-2.5 2.5-1.5 2.5 0 3 0.5 3 1 0.5 2-1 1 0 1 4.5 1 0.5 2-0.5 1 0.5 0.5 1.5-4.5 5-1 0.5-1-0.5-2.5-1 0-3-0.5-1-7 0.5-3-1.5-0.5-1 0.5-0.5 1 0 1 1.5 3 0 1-0.5 0.5-1.5-0.5-3-1-0.5-3 1.5-1 0-2-0.5-2-3.5-3.5-1 0.5-4 3-2 2 1 1-0.5 1-2 4.5-1.5 1.5-3-2-1.5 0-1 4-1.5-0.5-1-1.5-0.5-3 1-2-0.5-4 2-1 1.5-2-0.5-1 0.5-2.5 2.5-0.5 1-2.5 1 2 3-1 1-2.5 1.5-2-1.5-1 0-1 1 0.5 2 0.5 0.5 3 0 5 2.5 0.5 2-0.5 3.5-1 0-1.5-1.5-1.5 0-1 0-4 2.5-4 3.5 3.5 2-2.5 1.5-2-1-2 1.5-2-1.5-1 0-1 1-1 0-2 0-1 2.5 1.5 4 1.5 1 1-3 1-0.5 1 0.5 2 3-1.5 1-2.5 0.5-1 2.5 1 1 1 0 3-1.5 1 0 1 1.5 0 1-0.5 2-1.5 1-2-0.5-1 0.5-3 3-3-0.5-1 0.5 0.5 2-0.5 1-3 2 1.5 2 0.5 1.5 1 1 1.5-1.5 2.5-0.5 1-2 1-0.5 1 0.5 1 3.5-0.5 3-0.5 1.5-2-1-1 0.5-0.5 1 1.5 0.5 2-0.5 1 2-1 1-2 1-1.5 2 1.5 1 5 0 1-4 2.5-2-3-2 0.5-0.5 1-0.5 2 0.5 0.5 0.5 0 2 0.5 0.5 4-1 1-2.5 0-1-2-2-1 0-1 1.5-1-0.5-1-2 2-1 0.5-1-2.5-3-0.5-2 1.5-1.5 1 0 3 1.5 2-4-2-2.5-1 0.5-1 2-1 0.5-1-0.5 0-1 1.5-2 0-3-1.5-2 0.5-1 1.5-0.5 1 0.5 1 2 1 0.5 0.5-2.5 0.5-1 1-0.5 1 1.5 0 2 1 1 1 0 0-2 1-1 2 1 1-1 1-3.5 1 1 1 3.5 4.5 1 1.5 2 1 0 1.5-1 0-1-2.5-1 0-1 2-8 0.5 1 1.5 2 0.5 1-0.5 2 1 1 2-1 1-2 4-0.5 1 0.5 1 1 0 1-3 2-2.5 0-0.5 1 0.5 4-2 6 1.5 1 3 0.5 1.5-1.5 0.5-2.5 1 0 1 1 3-0.5 0.5 1 0 1-0.5 2.5-1 0.5-2 0-4 1-3.5 4 0 1 2.5 2-0.5 1 1 1 0.5 0.5 2-0.5 1 1 0 2-2.5 6-0.5 4-1 1.5-2 0.5-1-2-0.5-1 2.5-7 1-1-2-2.5-1 0.5-2 1-4 1-1 2 3 0.5 1.5 1.5 0 1-0.5 2 2 3-0.5 1-4.5 1-2 1.5-2.5 4.5 0.5 1 3 1 0.5 0-1-2 0-1 3.5-3.5 1 0 1.5 1.5 0.5 2-3.5 3 1.5 1 0 2 2 2.5 1 0 1-1.5 1-0.5 5 1.5 3-0.5 1 0.5 0.5 2-1.5 2 0 1 2 2zM224 62l-3.5-1 0-1 1.5-1 2 0.5 1 1.5zM225 43.5l-0.5-0.5 1.5-1 1-2-3-0.5-1 0.5-1-1 1.5-2 0-2 0.5-1 2-2.5 1.5 3.5 0.5 2 0.5 2 2 2-0.5 0.5-2 0-1 0.5-1 2zM234 50l-1 0 0-0.5 0.5-2.5-1.5-4 0-0.5 2 0.5 1 1 1 4 0 1zM239 50.5l0-1.5 1-3.5 1 0.5 0 2-1 2zM245 65.5l-0.5-1.5 0.5-1-2.5-1-0.5-0.5 0-1.5 1-1 2 0.5 2-0.5 0.5 1 0 2-1.5 1.5-0.5 1.5zM248 54.5l-1-1.5 1-0.5 1.5 0.5 0 1-0.5 1zM251 63.5l-2-1.5 1-6.5 1.5 0.5 1.5 2 1 0 0.5 1-1 1 1 3-1.5 0.5zM259 64l-1.5-1 0.5-1 1-0.5 1 0.5 0 1zM265 71l-1-0.5-0.5-0.5 1-3-0.5-2-2-0.5-0.5-0.5 0.5-0.5 1 0 4 1.5 0.5 4-0.5 1zM280 77l-1.5-1 0-1 1.5 0 1.5 1 0 1zM285 79.5l-1.5-1.5 0.5-1 2 0 0.5 1 0 1-0.5 0.5zM217 38l0-1 0-0.5 1 0.5 0.5 1-0.5 0.5zM196 25l-0.5-2 0.5-1.5 2 1 0.5 1.5-1.5 1zM186 50.5l-2-0.5-0.5-4 1.5-0.5 1.5 0.5 0.5 1-0.5 3zM190 54l-2-1 0-1 1-0.5 1 0.5 1 1 0 0.5zM201 51l-1 0-1-3 1-2.5 1-0.5 2 3 0.5 2zM214 60.5l-1-1.5 0.5-1 1.5-1.5 2 0 1-0.5 1-1.5 4 0.5 1.5 1-0.5 1-1 0-2-1.5-2 3-2 0.5-2 2zM211 102l-0.5-1 0-1 1.5-0.5 1 0.5 0 1-0.5 1zM254 46l-1-2 1-1 2 0 1.5 2-0.5 1zM217 34.5l-0.5-1.5-2-1 0.5-3 1-1.5 2.5 2.5 0.5 1-1.5 2zM312.5 115l1.5 0.5 2.5-0.5 0-1-1-3 2.5-1 2.5-2-0.5-1-1-0.5-2 1-1-0.5 0-1.5 2 0.5 1-1-0.5-2-2.5-1-1 0.5-1 1.5-2.5 2-0.5 1 3.5 4-0.5 0zM307 114l1 0.5 0.5-0.5-0.5-1.5-1 0.5zM140 111l1 1 1-0.5 1.5-1.5 0.5-3-1-2-1 0-1 1zM355.5 109l1.5 1 3-1.5 0-2.5-3-0.5-2 1.5zM323.5 107l0.5 1.5 2-1 2 0.5 1 0-0.5-3-1.5-0.5-2.5 1.5zM128.5 107l1.5 0.5 1.5-0.5-1.5-1zM301 107l2 0.5 2-1.5-1-2.5-1 0.5zM192 106l1 0.5 0.5-0.5 0-1-1.5-2-0.5 1zM142 102l1 3 1.5-2 0-1-0.5-0.5-1-0.5zM308 104l0.5-1-1-2 1.5-4 4 1 2 1.5 2-0.5 2-1 2 0 1-1 3-1 1-0.5 2 1 1-0.5 0-1-0.5-2-0.5-1-1 0-1 0-1 1-6-0.5-2-1-4 2-2-1-2 3.5-1 0.5-2 0-1 1.5 1.5 4zM138.5 103l1.5 0 1-3-0.5-2-1.5-2-1 0-2 3-1 0-1 0-1-1-3 0-0.5 1 0.5 1 2 0.5 1 1 3 0zM195 102l1 1.5 0.5-0.5 0-1-0.5-0.5zM340 102l1 0 1-1-2-1-0.5-2-0.5-0.5-3-0.5-1 1 0 1 2 2zM287 97.5l2 3.5 2-1.5 1.5-1.5 1.5-2.5 2-1 1.5-1.5-0.5-1-3.5-1 2.5-2 0-2 4.5-1 0-2-0.5-0.5-4-0.5-1-1.5-1 0-4.5 4.5 1 2 0 2 0 1-2.5 1.5-1-0.5-1-4-1-0.5-2 1.5-1 0-1-1-1-0.5-2 0.5-2-1.5-0.5 0.5-1 1 1 2 2.5 1.5 2 2.5 2 0 1 1 0.5 1-1 2 0.5 1 2 1 1-2zM320.5 99l0.5 1.5 1 0 0.5-1.5-1.5-1zM296 99l0.5 0 0.5-1-1-1-1 0.5 0 0.5zM194.5 94l0.5 0.5 1-3 2-1.5 1.5-2-3.5 0-1-1.5-1 0-0.5 0.5 0 1-0.5 1-3 3.5-1.5 0.5 0.5 0.5zM299.5 93l1.5 0.5 1-0.5-0.5-2-1.5 0-1.5 1zM308.5 91l2 1 0.5-1 0-1-1-1-1 0.5zM187 91l0.5-1 0.5-4 1-0.5 3 0 2.5-2.5-0.5-1-1-0.5-2 1-1-0.5 2.5-2 0-1-1-3-1.5-3-1-0.5-1 1.5 1.5 3-3.5 5-0.5 4-1 1 0 1zM259.5 86l0.5 0.5 1-0.5 0.5-1-1-1 1.5-2-1-1-1 0-0.5 1 0 1 0.5 1-1 1zM305 83l1 2.5 1 0 1-1.5-2-1.5zM165 83l1 1.5 1-0.5 0-2.5-1.5 0.5zM122 82l2 1 0.5-1-1.5-1.5-1 0.5zM198 82l3-0.5 1-0.5 1-2-1-0.5-1 1.5-1 0-2-1.5-1 0.5-1 1 0 1zM255 82l1-0.5 0.5-1.5-1.5-1-2 1 0.5 1zM306 80l1 0 1-1-1-2-1.5 2zM161 79l1 1 1 0 0.5-1 0-1-1-2-1.5-1-0.5 1 0 1zM208 79l1 0 0.5-1-2.5-2-1 1 0.5 1zM194.5 74l1.5 0 0.5-1-0.5-1-1-0.5-1 0.5 0 1zM250.5 74l5-2 0-1-0.5-1.5-1-0.5-3.5 2-0.5 1zM200 69l1 3.5 0.5-0.5 1-2-0.5-1-1-1zM186.5 70l1.5 0.5 1-0.5 0.5-1-0.5-0.5-2 0-1 0.5zM109 69l1 0 2 0-0.5-1-1.5-0.5-1.5 0.5zM201 65l1 0.5 1.5-1.5 0-1-1.5-2-1 0-0.5 2zM163.5 63l1.5 0.5 1-0.5 0.5-1-0.5-1-1-0.5-1.5 1.5zM194.5 62l1.5 0.5 1-0.5 0.5-1 0-2-1.5-2.5-1 0-1.5 1.5 0.5 3zM61.5 58l2.5 4 3-0.5 1-0.5 0-1-3-3-2 0zM306 58l3 2.5 2 0.5 1-0.5 1-1.5-1-1-2 0-2-0.5zM94 56l2 2 1-0.5 1.5-1.5 0-1-1.5-2.5-1 0-1.5 1.5zM318 56l2 1.5 2-1.5 1.5-2 0-1-0.5 0-1 0.5-1 0-3-1-3 0-1 0-1 1.5-2-0.5-1-1-0.5 0.5 0.5 2 1 0 2-1 3 2zM284.5 56l1.5 0 1-1-1.5-2 1-1-1.5-3-2 0.5-1-0.5-2.5-3 0.5-1.5 5-1.5 2-3-2-0.5-3 0-2-1.5 0-1 1-1 0.5-1-1.5 0-0.5 3-3.5 0.5-1-0.5-0.5-2-1.5-1.5-2.5 2.5-0.5 1-1 1.5-1 0-2-1.5-1.5 1-0.5 3 0.5 1 1.5 0.5 3-1.5 1.5 5 2.5 0.5 3 0 1 2.5 1 1 3 1 1 1.5zM274 41l-1.5-1-0.5-1 2.5 0 0 1zM87 51.5l4 0.5 0.5-2-1.5-0.5-1-1.5-1 0 0 1-2.5 2zM302 51l4 1.5 1.5-2.5 2.5-1 0.5-1-0.5-1-3-2-0.5-1 0-5 2.5-1.5 1-2 4 0 1-1.5 0-1-4-1-2 2.5-2-1-1 0-3 2.5 0.5 2-0.5 1.5-1 0-0.5-2.5-1-1-1.5-0.5-2 0-0.5 0.5 0.5 1 1 0 0.5 1-2 2 0 3 0.5 1 5-1.5 2.5 1.5 0.5 1 0 1-1 0.5-2 0 0 0.5 0.5 2zM291.5 51l1.5 0 3-2-3-1-0.5-2 1-2-1-4-2.5-3-1 0-2 3 0.5 1 3 2-0.5 1-2 1.5-1 1.5 1 1 2 1zM312 50l1 0.5 1-1.5 0.5-2 1.5-1 0.5-1-0.5-1-3 0-1 3 0.5 1-0.5 1zM317 49l1 0.5 4-1 0.5-1.5-0.5-2-1-0.5-3 2.5-1 1zM245 45l3 1.5 1.5-0.5 0-1-0.5-1-1.5-1-0.5-1 0-2.5-1 0.5-1 2zM127 43l0 1.5 1 0.5 1-1 0.5-1-0.5-0.5-1-0.5zM325 42l0 1 1 0 1.5-1 0-1-1-2 0-2-2.5-3 3-1 0.5-1 0-1 2-1 0-1-0.5-1-1-0.5-1.5 0.5-1 2-1.5 1.5-3-1-3 0.5-1 1 0 1 1 2 5.5 0 0 2 2 3zM63 40l1 1 1-0.5 0.5-0.5-0.5-2-1 0.5zM313.5 39l0.5 1.5 2-0.5 2 0.5 1-0.5-2-1.5-1-1.5-1-1zM339.5 39l1.5 0.5 1-0.5 1-1-0.5-1-1.5 0-2 1zM70 37.5l1 0.5 1-1 0-4-1-0.5-1 0-2 1-1.5 0.5 0 1 2.5 0zM122.5 36l1.5 2.5 2-0.5 0.5-1-0.5-1-2-1-1 0zM15 36.5l5 1 2-1.5-1.5-3-1.5-2 1-1 2 1 0.5 2 0.5 1 0 2 5-1 2-2 1-1.5 1 0.5 1 1 1-0.5 2-1 2-0.5 1-1 0-1-1-1-1-0.5-2 0.5-1-0.5-0.5-1.5-0.5-1 1-1 2.5-1 0.5-2-1-1-1.5 1-0.5 1-2-1-4-4.5-3-1-1 0.5 0.5 1 5 4-2.5-0.5-1 0-1 2.5-1 0-1-1-1-5.5-1 0-2 0.5-1.5 1 1.5 0 1 1 2 5-0.5 3-1.5 1.5-1 0-6-2.5-1-1-0.5-2-1.5-1 0-0.5-1 0-0.5 0.5-1.5 0-1-1.5-2-0.5-4-3 0 4.5 2 1.5 1 3.5 1 0.5 1-1.5 1-0.5 2 2.5 3 0.5 3.5 4 0 4zM25 31.5l-1.5-1.5 0-2 1.5-3.5 1 0 2 1 2 4.5 0 1zM167.5 37l0.5 0.5 2-1 0.5-0.5-0.5-1.5-1-0.5-1 0-0.5 1zM335 35l2 1 0.5-1 0-2 1.5-2 1-0.5 2 0.5 0.5-1-1.5-0.5-2 0-1 0 0-1.5 4-4 1-2 2.5-2-0.5-0.5-2 0-1 0.5-2 3.5-1 0-2-2.5 0-3-2-1.5-2-0.5-2-1.5-2-0.5 1-1-1-1.5-2 3.5 1 3 1 1 4 0.5 0.5 0.5-1 2 0.5 0.5 3 0.5 1.5 2-0.5 1.5-3 1.5-1.5 2zM344.5 35l0.5 1 1-1 0-1zM290.5 35l0.5 0.5 1.5-0.5-0.5-1-1-0.5-0.5 0.5zM61.5 34l0.5 1 1-0.5 1.5-1.5 0-1-0.5-1-1-0.5-0.5 0.5zM256 33l1.5 0 1-1-1.5-1-1 0-0.5 1zM297.5 33l1.5 0.5 0-1.5-1-0.5-0.5 0.5zM347 33l5 0 3.5-2 1-1-1-1-0.5-2-2-1.5-3 0-2-0.5-1 0-1 3-1.5 2 1.5 2.5zM83.5 29l0.5 3.5 1 0 1-3 1-1.5 1.5 0-0.5-0.5-2 0-2-3.5-1 0 4 0 2 2 2-1 1-1-2-1-1-1 0-1-1 0-1-4 0.5-2-0.5-1.5-1.5 0.5-0.5 3-2 4-1 1-2.5 1 1 4zM109.5 32l0.5 0.5 1 0 2-1.5-1-2.5-1 0-1.5 0.5zM260 32l1 0.5 0.5-0.5 1-2-0.5-1-2-1-0.5 1 1 1zM199.5 31l2 0 1.5-2-2-0.5-2 0.5-0.5 1zM137 28.5l2 2.5 1-0.5 1-1.5 3-1.5 6-4.5 1-2.5 2-1.5 0-1-1-1 2-3 1 0 1-0.5 0-4.5 0.5-1 2-1 0.5-1-1-0.5-2 0-3 2.5-1-0.5-2-1.5-1 0.5 0 0.5 2 3-0.5 3-1 3-2.5 2.5-4 0.5-1-1-2-4-3-1-1-1-0.5-2-0.5-0.5-1.5 0.5-1 1 0.5 1 2.5 1 1 3 1.5 2-2 0-2 2-1 0-1.5-2 1-2-0.5-1.5-1-1-1 0.5-1 1-1 0.5-1 0-0.5 0.5-1 1 0.5 1 2-1.5 1 0.5 0.5 1 0 4-1.5 1.5-3 0-0.5 0.5 0.5 2 2 1.5 2 0 2 1 1 0 2 1 1 0zM139 26l-0.5-1 1-3 0.5-0.5 1-0.5 1 1-0.5 2-0.5 1zM132 28l-0.5-2 0-2 0.5-0.5 1 0 1.5 2.5-1.5 2zM240 29l1 1.5 1-1.5-1-1zM250 30l1 0.5 3-0.5 1 0 0-1-1-2.5-4.5-2.5-1.5-5 0.5-2-0.5-5-3-3-3-2.5-1 0-2 0.5-2 2.5-2-0.5-2-1 0-2-2 1-1 1 0 1 1 2 2 1.5 3 1 2-1.5 4-0.5 2 1.5 1 1.5 1.5 1.5-3 2-1.5 3-1 0.5-2-0.5-0.5-2-2.5-1 0-1 2 0.5 1 1 1-0.5 0.5-1-1-2-3.5-1-3.5 2-0.5 1 0 1 1 1.5 2 0.5 0.5 1 0.5 1-3.5 2-1 2 0.5 1 1.5 1 1.5 0 1-1 0-1.5 1-1 2 1.5 1 0 1-0.5 2-2 2 0.5 3 0 1 1zM287 29l4 1.5 1.5-1.5 0.5-1-2-0.5zM57.5 29l1.5 1 1-1 0.5-1-0.5-2-1.5-2 1-3 1.5-0.5 2 1.5 1-2-1.5-2-0.5-2.5-4 0-1.5 0.5-0.5 2 1.5 2-0.5 1-1-0.5-0.5-1.5-0.5-0.5-3-1-1 0-2 1-1.5 1.5 0.5 1 1 1 2-1.5 0.5 0.5 0 2 0.5 0.5 3 0 2.5 3.5zM107.5 29l1 0 0.5-1-1-1.5-1-1-0.5 2.5zM157.5 29l2.5 1 2-0.5 1-0.5-2.5-4-2.5-1.5-1.5 3.5 0 1zM165.5 27l1.5 0.5 1-1.5-1-1-1.5 1zM276 27l1 0.5 2-0.5 1-1 0-1-1-0.5-1 0.5zM356.5 27l3.5 1 0-11-3 0-2 2-1 0-1-1.5-2 0-0.5 1.5 0.5 1 1.5 0 2.5-1 2 1 0.5 2-1.5 3zM75 25l1.5-2-0.5-1-1-0.5-0.5 2.5zM312 25l1 0 1-1.5-1 0-1 0.5zM324.5 23l3.5 1.5 1-1.5-1-1-3 0.5zM112.5 23l1.5 0.5 4.5-1.5 0.5-1-0.5-1-2-1-0.5-1 7 0 1.5-4-1.5-2 1-1 1 0 1 2.5 2-1.5 2-3 0-1-1-1-1-1-2 1.5-2-3.5-2-0.5-2 1.5 2 2.5 0 1.5-1 0.5-2-1.5-1 0-2 0.5-3 0-1 0.5 0 3-1.5 2-0.5 2-4 0.5-1 0.5 0 1 1 1.5 3 2 3-2 1 1.5zM72 21l2.5 0 1.5-1 2 1 0.5-1 0-3 2.5-1 1.5-1-1.5-0.5-3 0.5-1-1.5-3-1.5-1 0-0.5 1 0.5 2-3-0.5-2 0.5-1 1 0.5 1 3.5 1 1.5 1zM97 21l1 0.5 2 0.5 2-2 0-6-1-1-1 0-1 1 1 2 0 1-1 0.5-5-1.5-1-0.5-2.5 1.5-1.5 3 1 0.5 3-0.5 2-1.5zM305.5 21l0.5 0.5 1 0 0.5-0.5-0.5-2-1 0-0.5 1zM314 21l3 0 3.5-2 0.5-3.5 1-1 3.5-1.5-0.5-1.5-1 0-2 0.5-1 0-0.5 1-1.5 1.5-2 0-2 1-3-0.5-1 1 0 1 1 1 1.5 1zM33 20l1.5-2 0-1-0.5-1-1 0-1 0-1 1zM250 19l3 2 1-0.5 0.5-0.5 0-2 0.5-1 1-0.5 4 0 1-0.5 1-2-2-0.5-2 1-6 0.5 1 2zM321.5 19l0.5 1.5 1 0 1.5-1.5-0.5-1-1-0.5zM208.5 19l1.5 1 1.5-1 0.5-1-1-1-2-0.5-1 0.5zM193 15l3 0.5 0.5-1.5-0.5-0.5-3 0.5-0.5-1 1-3-0.5-1-1-0.5-1.5 1.5-0.5 2 1 2zM266 14l1 1.5 1 0 0-0.5 4 0 1 0 0.5-1-0.5-1.5-4-1-1 0.5zM293 14l2 1.5 1-0.5-2-2.5-1 0.5zM62.5 14l1.5 0.5 1.5-0.5 0-1-0.5-1-1-0.5-1 0.5-1 1zM161.5 14l1 0 1-1-0.5-3-1-0.5-3 0-0.5 1.5 0.5 1zM199 11l2 3 2-1.5 1 1 2 0.5 1-1-0.5-2 0.5-2 0-1-2-1.5-3 0-1 0.5-2 3zM165.5 12l0.5 0.5 1 0 1.5-1.5 1-2-0.5-1.5-1-0.5-1 0-1 1-0.5 1zM99.5 11l0.5 0.5 2-1.5-0.5-1-0.5-0.5-1 0.5-0.5 1zM280 11l3 0.5 0.5-0.5 0-1-0.5-2-3-2-2 1 0 1zM137.5 10l1.5 0.5 0.5-0.5 0.5-1-1-1z"/>
<path fill="#f5e99d" d="M118.5 142l1.5 1.5 1 0 0.5-0.5-0.5-2.5-1-0.5-1 1zM106.5 137l1.5 0.5 2-2.5 1.5-11 2-2 0-1-1-2 1-6-1.5-3-0.5-2-1-2-4-4-3-5 0.5-3-1.5-2 0-2 1-1 2-4-1-2-1.5-1-1 0.5-1.5 1.5-0.5 5 0.5 7 2 3 0.5 4 5 4.5 2 4.5-1 1 0.5 3-0.5 3-2 4-0.5 2 1.5 2 0.5 2-2 4zM115.5 131l1.5 2 0.5-2-0.5-1-1-0.5zM324.5 129l1.5 1 1-1-2-2 0-2.5 0 2.5zM352.5 128l1.5 0.5 1-0.5 0-1-1-1-1 0-0.5 1zM198.5 126l1.5 1 2-0.5 0.5-0.5 0.5-2-1-0.5-3 1-0.5 0.5zM119.5 122l2.5 0.5 3-1.5-3-2.5-1-0.5-2 2 0 1zM324.5 120l2.5 0 1-0.5 2 0 1-0.5-2-2-1 1.5-3 0zM322.5 116l1.5 0-1-1.5-1-1-0.5 0.5 0 1zM199 113l2 0 0.5-1-1.5-1-1.5 1zM121.5 108l2.5 0 0.5-1 0-1-1.5-1-3 1-2 0 2 0.5zM223 107l0 1.5 1 0 1-1.5zM312.5 107l2 1 0-1-0.5-1zM208.5 106l0.5 0.5 1-0.5 1-1-2-0.5zM215 106l3 0 1-2-1-3 1.5-2-1 0-1.5 1.5-2 0-0.5 0.5-0.5 2-1 1zM213 98l2-0.5 1.5-1.5 2.5-10 1-0.5 3 2.5 1-2-1.5-4 0-1-1.5-0.5-1.5-2.5 0-2 1-2-0.5-3-1-1-4 1-3 3 1 1 4-1.5 1 0.5-1.5 2 0 1 1 5-2.5 6-0.5 4-2 4zM289 98l1 0 1-1-1-0.5-1 0-0.5 0.5zM313.5 96l3.5 1.5 1 0 5-1.5 2-1-0.5-1-1.5-0.5-7-1-2.5 1.5-0.5 1zM292 95l2-1 0-1-2-1-1.5 1 0.5 1zM284 94l1 0 0-3.5-1-0.5-1 1-3-1-1 1 1 1.5 1 0.5 2-0.5zM127 92l1 0.5 2-0.5 2-1 0-1-2-3.5-3.5 2.5zM192 92l1 1 1-0.5 1.5-1.5-0.5-1-1 0zM209 87l1 0 1-2 0-1-1-1-2 0-2.5 1zM291.5 87l2.5 0 0-1-2 0zM170.5 86l2.5 0.5 1-0.5 0.5-1-0.5-1zM107 85l2 1 1-1-1-1.5-1 0zM112.5 83l3.5 1.5 2-1.5-0.5-3 0.5-1-2 0.5-2 0-1 0.5-0.5 1zM228 82.5l2 2 1-0.5 1.5-3 0-2-1.5-2.5-2 0.5-2.5 0 0 2-3.5 2 1.5 1zM189 80l1 0.5 0.5-0.5 0.5-1-1-0.5zM277.5 80l1.5 1 1-0.5 1-1.5-1-1-3-1-0.5 1zM175 78l3-0.5 0.5-0.5-0.5-2-1-1 2-1 0-1-0.5-1-1.5-2-2 1-0.5-1 0.5-1.5 2 1 2-2.5 0-1-1-1-2 0.5-1 1-3-0.5-2 3-1.5 1 0.5 1.5 2-0.5 2.5 2zM81 72.5l7 3 1-0.5-1-1-2.5-1-3.5-3-1-2-3-1-0.5-1-2-2 0-1-1-3-1.5-1-1 1 1 3 1.5 1-0.5 2.5-1.5 1.5 0.5 2 1 1 1 0 0.5-1 0-2 0.5 0 3 2zM231 74l1 1 0-2.5-1 0zM91 70.5l1 3 1 0 1.5-0.5 0.5-2.5 1.5-0.5-0.5-1-6.5 0zM166.5 73l1 0 0.5-1-1-0.5-1 0-0.5 0.5zM262 73l0.5-1-1-1 1.5-4-2-1-1 0.5 0 2.5 1 3zM102 72l1 1 1-1 0.5-2-1-3-0.5-1-1 0-2.5 3zM269 69.5l4 2 0.5-0.5 0-2-1.5-2-2-0.5-0.5-0.5 0-2 2.5-0.5 3.5 0.5 1.5 1 1-0.5 0.5-1.5 3.5-0.5 1-1.5-0.5-1-0.5-1-1-0.5-6 1-9 0.5-6.5-3-4.5-3-2-2 2-1 2 1.5 3 0.5 3.5-2 1-2 2-2-1.5-1.5-4 0-1.5-0.5 2-2 0-3-1.5-2-1 0-2 1.5-2 0-1 1.5 1 1 2 0 1 1 1 2-0.5 1-4.5 1-5 2.5-1 0.5 0 1 0.5 1 1.5 1 0.5 2 4.5 3 0.5 1 0 2 0.5 1 2-1.5 4 2 5.5 1.5 0.5 1 0 2 0.5 2zM300 68l2-2 1 0.5 0-0.5-0.5-1 0-3-0.5-1-1 1 0.5 3-0.5 0.5-2 0.5-2-0.5-0.5 0.5-0.5 1 1 0 1-0.5zM248.5 66l1 0 0.5-1-1-1-1.5 1zM79 64l1-0.5 0.5-3.5 2.5-2 0-1-2 0-1.5 1 0.5 3zM178.5 61l0.5 0.5 1-0.5 0.5-1-0.5-1.5-1-0.5-1-2-1.5 0-5 2 0.5 0.5 3-1 3 1 1 0.5zM229 61l4 0 3-1 3 0.5 1.5-0.5 1.5-2 1-0.5 2 0.5 0-1.5-2-2.5-1-2.5-1-0.5-2 1-2-2.5-3 1.5-1 0.5-1-0.5-1-1 0.5-2-0.5-2 0-2-1-1-1 0-1 1 0.5 2-1.5 1-3-2-2-0.5-4 1-2.5 1.5-0.5 2 1 1 2-0.5 0 1.5 1 1.5 1 0.5 2-0.5 2 1 2 0 1.5 0.5 0.5 1-2 1.5-0.5 1.5zM291.5 61l1.5 0.5 1.5-0.5 0.5-1-2-2-1 0-0.5 1zM180 54l1-0.5 0.5-1.5 0.5-3-1-1 0 2-1.5 3zM200.5 54l0.5 1 1-0.5 0-2-1 0.5zM72 53l0.5 0 0.5-1-1-1-8-6.5-4-5.5-1-1-0.5 0-0.5 3-0.5 0 2.5 0.5 2.5 3.5zM174.5 52l0.5 0.5 1 0.5 1-2 0-1-1 0-1 1zM188.5 50l3.5 2 1-1 0-1.5 1-0.5 0-3 2-1 2 0.5 1-1.5-0.5-1-1.5-1-3 0.5-7-3-2 1-2 0.5-2.5 2 0 1 4.5 0.5 3 2 4.5 0.5 0.5 1-1 0.5-2 0-1.5 0.5zM207.5 49l1.5 1.5 1-0.5 0.5-1-2.5-1.5-0.5 0.5zM278 50l1 0.5 1.5-0.5-0.5-2-1.5-1-0.5-1-0.5 2zM76.5 47l2.5 0.5 6-2 0-1.5-1-1 0-2-3-1-0.5 1 0.5 1 2 2-0.5 1-1.5 0.5-2 0-2-1.5-1 0-0.5 1zM93.5 47l0.5 0.5 1-0.5 0.5-1-0.5-1-1.5 1zM109.5 47l1 0 0.5-1-2 0zM236 43l1 4.5 1-0.5 0.5-4-1.5-0.5zM289.5 47l1.5 0 0.5-2-0.5 0-1 1zM102 43l2 1 1-1 0-2-2-2-1 1-0.5 2zM266 42l1-0.5 0.5-0.5-0.5-1-1-0.5-0.5 0.5 0 1zM277 42l1-0.5 3 0.5 0.5-1-0.5-1-1-0.5-3 1.5zM289 41l2 0.5 0.5-0.5 0-1-1.5-1.5-1 0.5-0.5 1zM299.5 41l0.5 0.5 0.5-0.5 0-1-0.5-1-1 1zM88 40l1 1 1-0.5 1-1.5-1-1-1 0zM92 37l2 3.5 1-3.5-1-1-2 0zM203 40l1-0.5 0-1.5-1 0-0.5 1zM194 39l2 0 1-1-1-2.5-1-0.5-1-0.5-0.5 0.5-0.5 1 0 2zM305 36l0 3.5 3-3 0-0.5-0.5-1-2 0zM210 36l3-1 2 1.5 0.5-1.5-0.5-1-2 0-2-1 0-0.5-1 0.5-0.5 1zM232 36l1 1 1.5-1-0.5-1-1-1-1 0.5zM236.5 36l1.5 1 1-1 0-0.5-1-0.5zM15.5 35l3.5 1 1-1-1-2-1-1-1 0.5zM50.5 35l1.5 0 0-1-1-0.5-1 0.5zM54.5 34l2.5 2 0.5-2-0.5-1-2-1.5-0.5 1.5zM222 32l1 0.5 1-1 0.5-1.5-1.5-2.5-2-1 0-2.5 2 1 2-0.5 0.5-2.5-0.5-0.5-3 0.5-1 2-3 1-0.5 1 0.5 2 3 1.5zM227 29l2 3.5 1-3.5 0-1-1-1-2-1zM189.5 31l1.5 0.5 0-0.5 0-1.5-1-0.5-1.5 1zM210 30l0 2 1 0 1.5-1 0.5-1-1-1-1 0zM347 31l1-0.5 2 1 1.5-0.5 0.5-3-0.5-1-2.5-1-1.5 0-0.5 2-1.5 2 0.5 1zM14.5 30l2.5 0.5 1-0.5-0.5-1-0.5 0-3 0zM31 29l1 0.5 0.5-0.5 0.5-1-1-1-1.5 0zM252.5 29l1.5 0 0-1-3-2-1 1 1 1zM191 27l2 0.5 1-0.5 0.5-1-0.5-1.5-1-0.5-3 1 0 1zM9 26l1-1 0.5-1-0.5-0.5-1-0.5-1.5 1 0 1zM128 26l1.5-1-0.5-0.5-2 0.5zM358 26l1 1 1 0 0-2-2 0zM135.5 25l1.5 0.5 1-1.5 0-2-1-0.5-1 0-1.5 0.5 0 1zM143 23l1 1.5 2-0.5 3-2.5 1.5-2.5-0.5-0.5-1 0.5-2 1.5-2-0.5-2 0zM200 24l1 0.5 2-0.5 1-2 0-1-2-1-1 1-1 1-0.5 1zM238.5 24l1.5 1 1-1 0.5-1-2.5-0.5-0.5 0.5zM245 23l2 0 1-1-1-1.5-1-0.5-1 0-1 1-0.5 1zM85 22l1.5 0 0-1-0.5-2-1 0.5-0.5 0.5-0.5 1zM359 21l1 0.5 0-2.5-1 0.5zM108 20l1 0.5 1.5-1.5-1.5-1-2 0zM57.5 18l1.5 1.5 1.5-0.5 0-2-2.5-0.5-1 0.5zM316 19l1 0.5 2-1.5 0-1.5-2 0-0.5 0.5zM115.5 16l1.5 0 1.5-2 0.5-1-2-1.5-1 0-0.5 0.5 0 3zM137.5 15l1.5 1 0.5-1-1.5-0.5zM160.5 12l1.5 0 0-1-1-0.5-1 0.5zM232.5 11l1.5 0.5 2-0.5-3-1.5-0.5 0.5zM203 10l1 0.5 0.5-1.5-0.5-0.5-1 0-0.5 0.5zM238.5 10l0.5 0.5 1 0 2-1.5-0.5-1-1.5-0.5-1 1zM122 6l2 3.5 0.5-0.5 0-2-0.5-1-1-0.5z"/>
<path fill="#f3da8f" d="M107.5 137l1 0 1-2 2-10-0.5-1 0.5-1 0.5-6 1-4-1.5-5-1.5-2-2.5-3-1.5-1-2.5-5 0-1-0.5-1 0.5-1-1.5-4 1-1 2-5-2-1.5-1.5 1.5-0.5 3.5-0.5 1.5 0 1 0 1 0 1 0 2 0.5 1-0.5 1 2.5 4 0 1 1 2 4.5 4 2 5-0.5 1 0 4-0.5 1 0 1-1 4 0 6-0.5 2-1 1 0 3zM214 96l1 0.5 1-1 2.5-9.5 1.5-4-1-4 0-2-1-1-0.5 1 1 7-3 5 0 3-1 3zM315.5 96l2.5 0.5 4-0.5 2-1-1-1-7-0.5-1.5 0.5 0 1zM229.5 82l0.5 1.5 1-0.5 0.5-2-0.5-0.5zM87 75l1.5 0-1.5-1.5-2 0-0.5 0.5zM84 73l0-1-3-2-1-1.5-3-1.5 0.5-1-1.5-1-1-0.5 0 2 1.5 0.5 1.5 2 1.5 1 0.5 1.5 2 1zM92 72l1 1 0.5-1 0.5-1-1-1-0.5 1zM270 69l2.5 1-0.5-1.5-2 0zM171.5 68l0.5 0.5 1 0 0-2-1 0zM73.5 63l0.5 0.5 1 0 0.5-0.5-1.5-3-1-0.5-0.5 0.5zM265 63l3 0.5 4-0.5 4 0.5 6-2 0.5-1.5-1.5-1.5-6 1.5-9.5 0-6.5-3-7.5-5 2.5-1 3.5-1 2.5 0 1.5 0 0.5 0.5 1 0 3-3.5-1-1-7 0.5-4 1-5 2.5-0.5 1 2 2 0 1 0.5 1 6 4.5zM230 59l3 1 3-2 2 1.5 1-0.5 0.5-1-0.5-0.5-3-1.5 0-2 1-1 0-1.5-1-0.5-2 1.5-1 0-2.5-1.5-1.5-3.5-3 0-3-1.5-2 0-1 1-0.5 4 0.5 1 7 0.5 3 1.5 0.5 1-1.5 2zM185.5 44l2.5 2 3 0 2-0.5 2-1.5 1.5 0-2.5-0.5-3-1.5-4-1-1 1-0.5 1zM135.5 24l1.5 0.5 0.5-1.5-1.5-0.5-0.5 0.5z"/>
<path fill="#f1ca81" d="M107 135l1 2 1.5-2 0.5-3-0.5-1 1-1-0.5-1 1-4-0.5-1 1-1 0-3 0-1 0.5-4 0-1 0.5-1-1.5-4 0-1-1-2-2.5-2-0.5-1-1.5-1 0-1-1-1-1.5-3-0.5 1 1 2-0.5 1 1.5 1 0 1 4.5 4-0.5 1 1 1 1.5 3-1 1 0.5 1 0 3-1 1 0.5 1-0.5 1-1 3 0.5 1-0.5 1 0.5 4-0.5 1 0 1-1 1zM101 96l1 1 1 0 0-1-0.5-1 0.5-1-1-4-1 0-0.5 1 1 1-0.5 2 0.5 1zM316.5 96l2.5 0 4-1-3-1-4 0-1 1zM100.5 89l0.5 1 1 0 1-1 1.5-5-0.5-0.5-1-0.5-1.5 1-0.5 4zM216 89l0 1 1-1 0.5-1-0.5-1.5zM80 71l3 1.5 0.5-0.5-2.5-1.5zM263 62l3 1 5-0.5 5 0.5 5-1.5 1-0.5 0-1-1-1-6 1.5-9 0-7-3-7-5-1 1 0 0.5 0.5 1 5.5 4zM221 51l6 1 2-1 0-1-1-1.5-5-1-2 1-0.5 1.5zM249 51l1 1 6-2 7-0.5 3-2.5-1-0.5-6 0-4 1-5.5 2.5zM187.5 45l1.5 0.5 2 0 2.5-1.5-2.5-1.5-3-0.5-1 0.5-0.5 0.5 0 1z"/>
<path fill="#efbb73" d="M108 136l1-1 0.5-3-0.5-1 1-1-1-1-0.5 1 0.5 1-1.5 1 0 3zM108.5 125l0.5 4 1-1 1-3-0.5-1 0.5-1 0.5-3-0.5-1-1 0.5-0.5 0.5-0.5 3 0.5 1zM110 118l1 1 0.5-1 0-1 0.5-2-1-1 1.5-1-0.5-0.5-1-0.5-0.5 1 0.5 1-0.5 1 0 2zM110 109l1 3 0.5-1-0.5-1.5-1-0.5 1-1-1-1-1 1zM107.5 106l1.5 1 0.5-1-1.5-1-1 0zM104.5 103l2.5 2 0.5-1-0.5-1-2-1 0.5-1-1.5-1 0-1-1-1.5-0.5 0.5 1.5 2-0.5 1 1.5 1zM101.5 96l0.5 1 1-1-1-1 0.5-1-0.5-2-1 2 1 1zM316 95l2 0.5 3-0.5-4-0.5zM101 89l1 0.5 0.5-0.5 0-1 1-2 0-1 0.5-1-1-1-1 1 0 1-0.5 1 0 2zM263.5 62l2.5 0.5 5 0 5 0 5-1 1-1.5-1-1-6 1.5-5 0.5-5-0.5-6-3-7-4.5-1 1 6 4.5zM224.5 51l2.5 0 1-1-1-1-4-0.5-1 0.5 0 1zM249 51l1 0.5 6-2 4-0.5 2 0 1 0 2.5-2-0.5-0.5-3 0-6 1-6 2.5zM187 44l2 1 3-1-1-1-2-0.5-1.5 0.5z"/>
<path fill="#edac65" d="M107.5 135l0.5 0.5 0.5-0.5 1-3-0.5-1-1 1zM109 128l1 0 0-2 0.5-1-0.5-1 1-1-0.5-2 0.5-0.5 0-1-1.5 0.5 0.5 1-0.5 2 0.5 1-1 1 1 1-1 1zM101 89l1 0.5 0.5-0.5 0-1 1-2-0.5-1 1-1-1-0.5-1 0.5 0.5 1-1 1 0.5 2zM264 62l4 0.5 3-0.5 0-1 0 1 5 0.5 5-1.5 0.5-1-0.5-0.5-4 1-4 0-2 0.5-1 0.5-5-1-9-4.5-3-2-1-0.5-0.5 0.5 5.5 4.5zM249.5 51l1.5 0 7-2 5-0.5 2-1.5-3-0.5-6 1.5z"/>
<path fill="#ec9c5c" d="M264.5 62l4 0-7.5-3-2 0zM273 62l3 0 3-1-2-0.5-4.5 0.5zM256 48l1 0.5 5 0 1.5-0.5 0.5-1-2 0z"/></g>
<use href="#bord" fill="none" stroke="#000" stroke-width="0.45" vector-effect="non-scaling-stroke"/>
<use href="#land" fill="none" stroke="#000" stroke-width="0.6" vector-effect="non-scaling-stroke"/>
<use href="#lakes" fill="#fff" stroke="#000" stroke-width="0.6" vector-effect="non-scaling-stroke"/>
<path d="M75,40 130,40 105,58.8 110,65 90,65 75.5,56.2 75,40M90,65 110,65 125,78 105,78 96.6,87.8 75.5,74 90,65M108,78 125,78 130.7,82.4 130.7,90 147.5,90 147.5,110 124.5,130 110,130 113.6,110 108,105 108,78M170.5,45 221,45 221,60.2 170.5,60.2 170.5,45M170.5,60.2 161,60.2 161,82 189.5,89.4 196.5,74.5 223.5,74.5M215.5,60.2 233,60.2 242.3,65.2 239.8,67.5 238.7,69.5 237.7,71 236.5,72 235,73 232.2,74.4 229,76 225.8,77.1 215.5,60.2M242.3,65.2 242.3,60.2 280,61M242.3,65.2 244.5,64.8 247.4,65.2 248.2,66.3 249.2,67.8 250.8,69.2 252.7,69 252.8,71 253.5,74 254.5,76 255.5,78.3 256.5,81 257.5,81.9 258.2,81.2 259,80.8 259.8,79.7 260.1,76.5 260.3,74.5 262.3,73.3 264.8,71 266.3,70 267,68.7 268.5,68.3 270.4,68 271.8,67.6 272.3,69 274.4,71.5 274.3,74 275,74M275,99.5 275,60.8 280,61 282.8,55.3 300,45 335,45 314,64.5 314,84.5 335.5,99.5 275,99.5M292,100.3 337.5,100.3 337.5,140 292,126 292,100.3" fill="none" stroke="#000" stroke-width="1.3" stroke-linejoin="miter" vector-effect="non-scaling-stroke"/>
</g>
<text x="91.7" y="295.3" font-size="5.2" font-weight="bold" text-anchor="middle" fill="#000">EUS</text>
<text x="92.7" y="310.8" font-size="5.2" font-weight="bold" text-anchor="middle" fill="#000">CAM</text>
<text x="112.0" y="330.9" font-size="5.2" font-weight="bold" text-anchor="middle" fill="#000">ESA</text>
<text x="155.0" y="304.1" font-size="5.2" font-weight="bold" text-anchor="middle" fill="#000">MNAF</text>
<text x="180.6" y="306.6" font-size="5.2" font-weight="bold" text-anchor="middle" fill="#000">ARP</text>
<text x="225.8" y="310.6" font-size="5.2" font-weight="bold" text-anchor="middle" fill="#000">ESEA</text>
<text x="240.5" y="339.7" font-size="5.2" font-weight="bold" text-anchor="middle" fill="#000">AU</text>
<rect x="24.70" y="259.40" width="246.10" height="102.00" fill="none" stroke="#5a5a5a" stroke-width="0.8"/>
<text x="145.4" y="252.8" font-size="6.33" text-anchor="middle" fill="#1a1a1a">Moist Heat Bias</text>
<text x="24.8" y="252.9" font-size="6.9" font-weight="bold" fill="#1a1a1a">e</text>
<path d="M24.70 266.20h-2" stroke="#333" stroke-width="0.5"/>
<text x="21.5" y="268.1" font-size="5.3" text-anchor="end" fill="#1a1a1a">80</text>
<path d="M24.70 279.80h-2" stroke="#333" stroke-width="0.5"/>
<text x="21.5" y="281.7" font-size="5.3" text-anchor="end" fill="#1a1a1a">60</text>
<path d="M24.70 293.40h-2" stroke="#333" stroke-width="0.5"/>
<text x="21.5" y="295.3" font-size="5.3" text-anchor="end" fill="#1a1a1a">40</text>
<path d="M24.70 307.00h-2" stroke="#333" stroke-width="0.5"/>
<text x="21.5" y="308.9" font-size="5.3" text-anchor="end" fill="#1a1a1a">20</text>
<path d="M24.70 320.60h-2" stroke="#333" stroke-width="0.5"/>
<text x="21.5" y="322.5" font-size="5.3" text-anchor="end" fill="#1a1a1a">0</text>
<path d="M24.70 334.20h-2" stroke="#333" stroke-width="0.5"/>
<text x="21.5" y="336.1" font-size="5.3" text-anchor="end" fill="#1a1a1a">−20</text>
<path d="M24.70 347.80h-2" stroke="#333" stroke-width="0.5"/>
<text x="21.5" y="349.7" font-size="5.3" text-anchor="end" fill="#1a1a1a">−40</text>
<path d="M24.70 361.40h-2" stroke="#333" stroke-width="0.5"/>
<text x="21.5" y="363.3" font-size="5.3" text-anchor="end" fill="#1a1a1a">−60</text>
<path d="M45.21 361.40v2" stroke="#333" stroke-width="0.5"/>
<text x="45.7" y="369.4" font-size="5.5" text-anchor="middle" fill="#1a1a1a">−150</text>
<path d="M79.39 361.40v2" stroke="#333" stroke-width="0.5"/>
<text x="79.9" y="369.4" font-size="5.5" text-anchor="middle" fill="#1a1a1a">−100</text>
<path d="M113.57 361.40v2" stroke="#333" stroke-width="0.5"/>
<text x="114.1" y="369.4" font-size="5.5" text-anchor="middle" fill="#1a1a1a">−50</text>
<path d="M147.75 361.40v2" stroke="#333" stroke-width="0.5"/>
<text x="148.2" y="369.4" font-size="5.5" text-anchor="middle" fill="#1a1a1a">0</text>
<path d="M181.93 361.40v2" stroke="#333" stroke-width="0.5"/>
<text x="182.4" y="369.4" font-size="5.5" text-anchor="middle" fill="#1a1a1a">50</text>
<path d="M216.11 361.40v2" stroke="#333" stroke-width="0.5"/>
<text x="216.6" y="369.4" font-size="5.5" text-anchor="middle" fill="#1a1a1a">100</text>
<path d="M250.29 361.40v2" stroke="#333" stroke-width="0.5"/>
<text x="250.8" y="369.4" font-size="5.5" text-anchor="middle" fill="#1a1a1a">150</text>
<g transform="translate(355.40,14.20) scale(0.70444,0.70600)">
<g clip-path="url(#lc)" fill-rule="evenodd"><rect width="360" height="150" fill="#4885b7"/>
<path fill="#5c9dc6" d="M0 150l360 0 0-150-360 0z"/>
<path fill="#7cb4d2" d="M0 150l360 0 0-150-360 0z"/>
<path fill="#9dcadf" d="M0 150l360 0 0-150-360 0z"/>
<path fill="#b7d9e8" d="M0 150l360 0 0-150-360 0zM78 68.5l-0.5-0.5 2-7-0.5-3-1.5-2 0-1 1.5-0.5 1 0 1.5 2.5 1.5 0.5 1 0 3-1.5 0.5 0 0.5 1.5-0.5 1.5-2.5 0.5-1 1.5 0 1 1 3-1 2 0 0.5-2-1-3 2zM85 74.5l-1-1.5 0-1 4-3 1-0.5 0.5 1.5-0.5 2.5-2 1.5z"/>
<path fill="#cee6ef" d="M0 150l360 0 0-127-1.5-1 1.5-0.5 0-21.5-360 0zM11 24.5l0-2 1-1 1 0 0.5 0.5-0.5 1.5-1 1zM54 43.5l-2-2.5 0-1 1 0 2 2 0 1zM93 78l-10-1.5-3-1.5-1-1-1-2-2.5-2-2-3 0-2 2-1 1.5-4-1-4 0-2 4-2 2-2.5 1-0.5 1 0.5 1 1 4 1.5 1.5 5 0 2-2.5 2-0.5 2-1 2 0.5 1 1 0.5 3 0 1 0.5 2.5 2 1 4-0.5 4.5zM106 103l-4-5-0.5-1 0.5-1.5 1 0 1 0.5 2.5 6zM113 103l-1-1 0-2-2-3 0-1 4 0.5 1 1.5 0.5 2-1.5 2.5zM119 94l0.5-1 0-3 0.5-0.5 2 0.5 1 1 0 2-2 2zM122 101l-1.5-1 0.5-3 1 0.5 0.5 1.5 0 1zM128 113.5l-1-1.5 0.5-1 2.5 0 1-1 0.5-2 1-1 1.5 0 1 1 0.5 3-0.5 0.5-3 0-2 2zM138 112.5l-0.5-0.5 1-1 2.5-1.5 0 0.5-0.5 1zM142 108l-1-1 1-2 0.5 1zM168 81.5l-0.5-1.5 0.5-1 1-0.5 1 2.5-1 1zM176 78l-3-1 0-1 2-0.5 1 0.5 0.5 1zM186 85l-3-1.5-3-0.5-0.5-1 0-1 2.5-1.5 3-2.5 2 1 2 2 1-1 2-1 3 1 4-1 1.5 0 0 4-0.5 1-2 1-3 0-1-1 0.5-2-0.5-1-3 1.5-2 0-2 3.5zM198 95.5l-0.5-0.5 0.5-0.5 1 0 1 0.5-1 1zM204 104.5l-1-3.5 1-0.5 3 1 2 0 1 0.5-4 2.5zM215 114.5l-1.5-2.5-2.5-0.5-1-0.5 0-4 1-1.5 2 2.5 3.5 2 0.5 1 0 2-1 1zM225 116l-1-0.5-1-1.5 1-2-1.5-1 0.5-2.5 1 1 0 2.5 1 2zM226 47.5l-2-4.5-2-1.5-2-1-3 0.5-3-1.5-1 1-1-0.5 0.5-1 4.5-4.5 1-0.5 2 1.5 2 3 2 1 1 0.5 6-0.5 3 1.5 0.5 1-0.5 1-2 1-3-0.5-1 1.5 0 2-1 1zM242 31.5l-0.5-2.5 0.5-1.5 1-0.5 1.5 2 0 1-1.5 1.5zM255 33.5l-1-0.5 0-1 1.5-2 0.5-3 2-1 2 1.5 2-2.5 0-3 0.5-1 1.5-1 2.5 0 0 1-0.5 3 1 1 4 1 0.5 1-1 1-1.5 1-3-0.5-4 2.5-2 0.5-4 2zM258 77.5l-1-1.5 2-1 1 0 0 2-1 1zM265 71.5l-1-0.5 0-1-0.5-3 0.5-1.5 1 0 0.5 0.5 1.5 4-0.5 1zM275 69.5l-0.5-1.5 0.5-1 1 0 2 0.5 1-0.5 2.5 2-1.5 0.5-2-1-2 1zM287 82l-0.5 0 0-1 1-3-4-5-1-4 1.5-0.5 2 1.5 3 1 1 1 0.5 3 1 1 0 1-2.5 4zM293 46.5l0-1.5 1-2 2 0.5 1 1.5-1 1-2 0.5zM301 35l-2-1 0-1 3-3 2-1 0.5 3-2 3zM304 93l-1 0-0.5-1 0-1 1.5-1.5 5-1.5 2.5 2-0.5 1-1 1.5-2 0-2-0.5zM343 32.5l-2-1.5-0.5-1-0.5-5 1-0.5 3 0.5 2-1 2-0.5 2 0.5-0.5 3-0.5 1-3 0zM356 133l-0.5-1 1.5-2 1 1-0.5 1zM82 18l-2-1 0-1 1-1.5 1 0 1.5 0.5 0 1-0.5 1.5zM85 47.5l-1.5-1.5-0.5-2 1-0.5 4 0.5 0 1-0.5 1-1.5 1.5zM120 86l0-1 0-1.5 1 0.5 0 1zM135 100l-2-2-3-1-1.5-2-3-2 0-1 1.5-0.5 3 0.5 2 0 0.5 1 1.5 1 2-1 0-1.5 1.5 3.5-1.5 4.5zM140 27.5l0-0.5 1-1 2.5 0zM196 41l0-1 1-2 1-1 1.5 0 0.5 1-1 2zM204 94l-2 0 0-1 1-2 1.5 1 0.5 1zM208 93l-0.5 0-0.5-1 1-0.5 1 0 0 0.5zM216 106l-0.5-1-0.5-2-1.5-2 0.5-1 3-4 1-0.5 0.5 0.5 0 1-1 1-0.5 1 0.5 1 2 2-2.5 4zM215 28.5l-1-1.5 0-1 1-0.5 1 0 0 1.5zM229 26l-1 0-1-1 0-2 1 0 1 1 0.5 1zM233 27l0.5-1 2 0-1.5 1zM271 21.5l-1.5-1.5-0.5-1 1-2.5 2 1 1 1.5-0.5 2zM279 65.5l-1-1.5 0-2 2 1 0 1zM281 9l-2-0.5-0.5-0.5 1.5-0.5 2 0.5 0 1zM283 25.5l-1-0.5-0.5-1 0.5-1.5 2 0 1 0.5 0.5 2zM296 20.5l-1-1.5 1-1 2 0.5 2-0.5 1 0 1.5 1-0.5 1.5-1 0.5-2-0.5-2 0.5zM304 29l-3-4 0-2 4 2 1 2-0.5 1zM87 13l-3-2-0.5-1 1.5-1 4 3 0 1zM208 36.5l0-1 2-3.5 1-0.5 1 0 0 1.5-1 1.5-2 2zM279 30.5l-1-1.5 1-0.5 1 0.5 0 1z"/>
<path fill="#e4f0f5" d="M0 150l360 0 0-22.5-1 0.5-0.5 1 1.5 2 0 1-3 3-2 0-1-0.5-1-1.5 1-5-2.5-1-1.5-1 0-1 1-1 2-1.5 1-0.5 4 2 2 2 0-16-2 1.5-1 0-2.5-2.5-0.5-1 1-2 2-1 1-0.5 2 0.5 0-75.5-4 2-4 0.5-5 2.5-4 4.5-4 2.5-1 0-4-3.5 0-1 2-0.5 3 1.5 1 0 1.5-1 0-1-2.5-3.5-0.5-2.5-0.5-5 1-1.5 1-0.5 3 0.5 3-2 8 0.5 3-2 3 0 0-20-360 0 0 21.5 1-0.5 1-1.5 1 0 1 1.5 1 3 2 1.5 1-0.5 2-5 2-1 2 0 2 3 0 1-2 2 0 1.5 2-0.5 1.5 1 1 2-1 3 0.5 1.5 2 0.5 0.5 1-2.5 3-1 0-1-2-2-2 2-3-2-3.5-2 2-1-1-3 0.5-3-0.5-3 0-2-1zM36 30l-1.5-1-0.5-1-0.5-1 1.5-1.5 2 3.5 0 1zM103 142l-1.5-2 0.5-1 2 0 0.5 1 0 1-0.5 1.5zM105 128l-0.5-1 0.5-1 1 0 0.5 1zM113 148.5l-3-1.5 0-3 1-1.5 3 0 2 0 1-2.5 2-2 1 0 2 0 2 2 0.5 1 0 1-3.5 3-1 0.5-1 0-2-2-1 0.5-0.5 3-1.5 1.5zM205 128.5l-4-1.5-0.5-1 0.5-1 3 1 2-1.5 1 0 2 1.5-0.5 1-1.5 1zM233 108l-3.5-4 0-2-1-2 1.5 0 1 0.5 2.5 2.5 1 2 0 1zM289 102l-3-1-10-1.5-5-1-5-2-11-6-9-6-3-1-6 0.5-3-2-2 0.5-1 0-3-2.5-1.5-5 1.5-1.5 1 0 1 0.5 0 1 1 1 2 1 2 2.5 6-0.5 3-1.5 2-2.5 1-4 0-1.5-1-3 1-0.5 3-0.5 2-1.5 0.5-1-3.5-3-4-4.5-3.5-0.5-1-1-0.5-1.5 1-0.5 2 0.5 3 2 4-0.5 3 3 2-0.5 3 0.5 5-0.5 1 0.5 0 1-1 1.5-3 0.5-1.5 1 0 1 1.5 1 3-1.5 2 1 6 0.5 3 1 0.5 0 0.5-1-0.5-2 0.5-2.5 3 0 2 2 2 0.5 1-0.5 2-2 2-1 0.5 0.5-0.5 1-1.5 2 0 1 2 6 3.5 2.5 1 0.5 1.5-1 3.5-0.5 1.5-1.5 0.5-1-2-3 0-2 0-1-4-6 0-1 1-1 2-0.5 3-3 1 0 3.5 2.5 0.5 1-0.5 4-2 2 0 1 2.5 2 0 2.5 1 2.5-1 1.5-2-1.5-1.5 1-1 2-0.5 3 0.5 1 1 1 0 1-2.5 3-3 2-1 2-4 4-1 2 0.5 6 0.5 1 1 0 1 3.5 1 0 2-2 2 1-1-2.5 3-5-0.5-3 2.5-4.5 1-0.5 1 1 0 1 1 1 2-1 0-2 1.5-2 0-1-3-2-1.5-3 1-1.5 1-1 1 0.5 0 2 3 3 1 1.5 8 2.5 5 2 3.5 2 2 3-0.5 1-3 0.5-3 1-5-1-1 0-2 2-2.5 1.5-1.5 3 0.5 1-0.5 0.5-2-0.5-2-2-2.5 0-0.5-1-2-0.5-3 1.5 1 2 1 0 2-1.5 0.5 0.5-3.5 4-3-0.5-1 1-2 1zM294 114l-2-0.5-1-0.5-0.5-1 0-1 1.5-1.5 3-1.5 1 0.5 0.5 0.5 0 3-0.5 1.5zM301 125.5l0-1.5 1-1 2 0 2 1-1 1.5zM314 127.5l-2-1.5-1.5-3-3-2-0.5-2 1-1 1-0.5 1 0.5 1 2.5 2.5 0.5 2 5-0.5 1.5zM318 120.5l-3-0.5 0-1 2-1 1 0 0.5 1zM320 115.5l-4-2-0.5-0.5-0.5-1 1-1 1 0 1 0.5 2.5 2.5 0.5 1zM323 109.5l-1-1-0.5-1.5 1.5-2.5 1 0 1 1.5 0 1zM328 127l-0.5-1 1.5-1.5 0.5 0.5 0 2-0.5 0.5zM331 123l-1.5-4 1.5-1.5 3.5-0.5 0.5-3.5 1.5 1.5 0.5 1-1 3-2 2.5zM345 115.5l-4-3.5 0-1 3-3 1 2 2.5 2 0.5 1 0 1-1 1.5zM116 138.5l-2-4.5 0.5-2 0-2 2.5-1 2-0.5 3 2 1 0 1 0.5-4 1.5-1 2.5zM280 45l-1.5-1-1-2 0.5-1.5 2-0.5 1 0 0.5 2 0 2zM287 50l-0.5-1 3-2 1.5-2 1-3 1-0.5 1-0.5 1 0 3 2 1 0 0-2 1 0 2 0 3 0 1 1 0.5 4-0.5 0.5-1 0-3-1.5-2 0-2 2-3 1-2 1.5-5 1zM309 54.5l-2-2.5-0.5-1 1.5-3.5 3 1 1 1.5-2.5 3zM311 62l-1.5-2 1-2-1-3 4.5-1 1 1-0.5 4-2.5 2.5zM316 41l1-1.5 1 0 0.5 1.5-0.5 0.5zM323 15.5l-3-3-1.5-0.5 0.5-0.5 1-0.5 4 2 3-1 3 0 1 1-3 2-4 0zM324 33l-0.5-1 0-2 0.5-1 1 0 1 1 0 1-1 1.5zM305 105l-1-1 0-1 1-0.5 0.5 1.5zM314 101.5l-2-1.5-0.5-1 0.5-0.5 1-0.5 2 1 0.5 1-0.5 1zM332 112l-1.5-1-0.5-1.5 1 0 2.5 2.5zM336 101l-2-2 0-2-1 0.5 0-1.5 1 1 2 0 0.5 1 0.5 2 0 0.5zM342 101l-0.5-2 0.5-1.5 1.5 1.5 0 1zM120 125l-2-2-0.5-3-2.5-1-1-2-2-2 1-3.5 2.5-1.5 0.5-1 0.5-2-0.5-1-1-0.5-3-0.5-2-2.5-1 0-3 4.5-1-0.5-1-2.5-2-2.5-1-1-0.5 2.5 2.5 4 0 1-1 1-1 0.5-2-0.5-3.5-4-2.5-5-0.5-5 0.5-6-1-1.5-14-4-5-3-3-3.5-1.5-3-0.5-3 1.5-2 0.5-1-1-0.5-2 1-1-0.5-3.5-5-1-2 0-1 1.5-3-0.5-4-1.5-0.5-2 1-1 0-1.5-1.5 0-2-1.5-0.5-1.5 0.5-0.5 2-1 0.5-4-1-5-3-3.5-4.5-2-5-0.5-3 0.5-2 5.5 0 3 2 1-1 0.5-3 1.5-0.5 2 1 2.5-1.5-0.5-6 0.5-1 1.5-1 2-4-0.5-4 0.5-1 1-0.5 2 1 1.5 3.5-1.5 5-3 2-1 1 0 1 1 1 2 0.5 2 2 2-0.5 1-1 0-5 1.5-2 1.5-0.5 2.5 0.5 2.5 3 2-0.5 0.5 1.5-0.5 2.5-1 1-3-2-1 0-0.5 0.5 1 3 2.5 0 1 3-1 0.5-3-0.5-1 0.5-2 2-2 0.5 0 4 1-1 1 0 1 0.5 0.5 1.5-0.5 2-2 1 2.5 5-1.5 2 0 1 1 0 1-0.5 1 0.5 1 1.5 2 0.5 1 1 1 1.5 0-1.5-1.5-2-0.5-2 1-1 3-2.5 3 0.5 1.5-2 0-5 3.5-1 4 1 1.5 1 0.5 2-2 3-0.5 1 3.5 1.5 1 2 2 0 4 1 2-1.5 1-0.5 0.5 0.5 0.5 2-1 2-2-1-1 1-0.5 1 0.5 0.5 2.5 0.5 0.5 1-0.5 1-1.5 1.5-4 0.5 0 1 1 1 4 1 0.5 1-2 2 0 1 2.5 2 0 2 1 1.5 1 0 2-0.5 2 1-4 2.5-0.5 1.5 0 1 2 2-0.5 3-1 1-2-2-3-9-0.5 1 0 2-1 1-3 1-0.5 1 1 2 1 1 2 0 2 2-2.5 5 0 2-0.5 2 0 1 1 1 1-0.5 2-3.5 1-3 3-3.5 4-1.5 1.5-1 0-2-1.5-2 1-2 0-2.5 2-1 2 0.5 3 2.5 1.5-0.5-0.5-1-3-1 1-0.5 7 0.5 11 2 6 0.5 21-1 2-2 1 0.5 1.5 2 0.5 2-1.5 1 0.5 1 1 1 1-1 0-2 2-1.5 2-0.5 3-3.5 2-1 4 0.5 1 1 0 2 1 0.5 4-1.5 2 0.5 2 1 4-1 1.5 1.5 1.5 0.5 2-0.5 3-2.5 1 0 1 2 4 1 1 1 2-1.5 6 0.5 3-2 3 0 1.5 0.5-1.5 2-3 2 1 4-1 2 0.5 3-1 3 0 1 0.5 1 2 1 0.5 1 0 1-0.5 1-0.5 1 2.5 0 4 2-0.5 1 1.5 3-2 1-1 1 0 1 2 3 0 2 3 3-0.5 1-2.5 2.5-6 3-5 2-4 0.5 0-1 1.5-3-0.5-0.5-3 0-2-1-3 0-1.5-0.5-0.5-1 2.5-3 0-2 1.5-1 1-2 0-2-1-1.5-2 1.5-2-0.5-1 0.5-1 1 0.5 2 2 2-0.5 1-2.5-1-1-2-1.5-1-2 0-3.5 3 0.5 1 2 2 0 1-1 0.5-2-0.5-1-1 0.5-2-0.5-1-2.5-3-1-2-0.5-3-3.5-8 0-5 0.5-2.5 2 6.5 4 3.5 1 0 1.5-2.5 2.5-0.5 0.5-0.5 0-4 1.5-2 0.5-3-1-1-3.5-0.5-3-1-1 0-2 2-1 0.5-3-2-5 0-2.5-2-2.5-0.5-4 1-4-0.5-3 2-2 1-13-0.5-3.5 0.5-1 1 0 1 1 4-2 6-0.5 1-2 0.5-1 2-3 0.5-3.5 2 0.5 1 6 1 1-1 0-2 2-1.5 2-2.5 2-0.5 2 0 0 0.5-1 2-1 3-0.5 4-1 3-4.5 4.5-2 1-1 0-2-2-3 2-3 0.5-2-0.5-3 1.5-1.5-1-0.5-2 0.5-1 3-2 0.5-2-1.5-2-1.5-0.5-1 0-2.5 3.5 0.5 6-1 2 1 1 3 0 1 0.5 0.5 1.5 0 1-1.5 1.5zM299 41l-2.5-2 0.5-1 1-0.5 1.5 2.5zM303 38l-2-1-3-0.5-2-2.5-4 1-1-1-1.5-4 0-2 4.5-5 0.5-1-1.5-1-2 0 0-1 2.5-4 3.5-3 6 1 1.5 1 1.5 2.5 2-1 1.5 0.5-0.5 4-3 0-0.5 0 0 1 1.5 1.5 2 3.5 2 1.5 1 0 2-1 4 1 0.5 0.5-1.5 3 1 1 3 0.5 1 0.5-1 3-3 1.5-2.5-4.5-5.5-1.5-4 2-1 2.5-1 1zM312 46l-0.5-1 1-3 2.5-0.5 0.5 0.5-2 3-0.5 1zM332 29.5l-2-1.5 0-1 1-1 2 0 1 0 3.5 3-1.5 1-2-1zM44 31l-1 0-1.5-3-0.5-5-2-0.5-3 2.5-1 0-1-3.5-1-0.5-2 1-1-1.5-1 0-2 1-4.5 3.5-0.5 2 1 2-1 0-1.5-4 1-3-0.5-1.5-2 0-0.5-0.5 0-3 0.5-0.5 1 0 1 3 2-1 2-2.5 1-0.5 6 0.5 2 1 4 0 3 1.5 1 3 1-0.5 0-3 1-1 3 0.5 1 2.5 0 7 0 1zM65 14l-1.5-1 0.5-1 1-0.5 2 0.5 0.5 1zM73 22l-2-0.5-1-0.5 0-1 0.5-2-2-3 0.5-0.5 3-1.5 1 0 0 1-1.5 4 2.5 3 0 0.5zM86 22.5l-6-2-3-3.5 0-1 1-1 4-3-1-1 0.5-2 2.5-2.5 1-0.5 1 0.5 3 2.5 3 1.5 1.5-1.5-0.5-1.5-1.5-1.5 0.5-1 1-0.5 2-0.5 3 0.5 0.5 0.5-2 4 0.5 2-0.5 1-3.5 1-2 2.5-3 0-1.5 0.5 2 2 0 1-1.5 3zM88 28l0-0.5 1-0.5 1 1-1 0.5zM92 44l0-2-2-4-0.5-2 0.5-1 4-0.5 0.5 0.5 0.5 1-1.5 3 0 1 1 3-1.5 2zM98 48l-1.5-2 0.5-2 1 0 1 1.5 0.5 1.5-0.5 1.5zM102 33l-1-1 0-1 1-1 1-0.5 1 0.5 1 1 0 1.5-1 0.5zM105 58l-0.5-1 0.5-0.5 1-1 1 0.5-1 1.5zM111 71l-1 0-0.5-1-1-2 0.5-1 1 0.5 1.5 1.5 0.5 1zM117 48l1-4 1-1 6-0.5 2-1.5 2 1-0.5 1-2 1 1.5 1 0 1-1 1-2 0.5-3-1-4 2zM136 33l-5-1.5-1.5-1.5 1.5 0 1 1 3-0.5 1 1 1 0.5 1-1-0.5-1 2-2 0-1 1.5-1.5 3 0 1-1 1 0 1-1 3 0.5 1-1.5 4.5 0.5-1.5 1.5-1 0.5-4 0-4 2.5-3.5 1.5-3.5 4zM178 45l-1.5-1 0-1 1-1 0.5-2.5 1-0.5 1 0 0.5 3 2 2 0.5 1-1 1-1 0zM182 54.5l-1-1.5 0-1.5 1 0 1.5 1.5 0.5 1zM193 58l-2.5-2 0.5-1 2 0.5 1.5 1.5zM202 57.5l-2.5-0.5 0.5-2-0.5-2 1.5-0.5 1.5 1.5 0.5 3zM213 54.5l-0.5-0.5 2.5-3-2-2-1-0.5-1 0-1.5 1.5-1.5 2.5-2 0.5-1.5-1-1-2-3.5-2.5-1 0.5-1.5 4-1.5 1-1 0-1-0.5-0.5-1.5 2-4-0.5-2-2-1.5-1 0-0.5 2.5-0.5 1-2-1 0-1-0.5-2 0.5-1 3 0.5 0.5-2.5-0.5-0.5-2-0.5-5 1.5-1.5-0.5-1-1 0.5-1 3-3 2.5-2 2-5 1.5-0.5 2 0.5 0.5 3-1 3 0.5 3.5 7-5.5 0.5-3 2.5-3 3 1 1-1 0-2-1-2 1.5-2 0.5-1.5 1 0 1 0.5 0 3 0.5 1 1.5 0.5 2-1 1-1.5 1-0.5 2 1.5 1 0.5 2-1.5 2 0.5 2-1.5 2 0.5 3 2 1 1.5 2 0 2-0.5 1.5 0.5 0 2-0.5 2 1 2-2 4 1 1.5 1-0.5 0-1 1.5-2-0.5-3 2.5-4-4-7 0.5-3 2-3 2-6.5 1 0 1.5 1.5 1.5 4 1.5 2-1.5 1-2 0-2 0.5-0.5 0.5 0 1 1.5 1 2.5 0 0.5 1-1 2 0.5 1 2.5 1 2 3 1 0.5 1-0.5 1-6 2-2 2-1 1 0 4 2 4 0.5 1-1.5-0.5-3 0.5-1 1-1 1 0 1 2 3.5 2 1 3-1 5 0.5 1 1 0 2-1 1-1 0.5-1 0-3 2.5-2 0.5 0-2.5-1.5-2 1-1 0-1.5-1.5 0-1 0.5-1 3.5-1 1-1-4-2-0.5-1 1-1 3-1.5 2 0 3 1 1.5 1.5-0.5 1.5 1-1 2 1.5 3 0 1.5 1 0.5 4-1 1-3 1-1 1.5-1 0-0.5-0.5-1-3-0.5-0.5-1 0-2 2.5 2 3 2 2 2 4-1 1-3-0.5-2 0.5 0 2.5 1 3.5-3 1-3-0.5-1-0.5-3-3.5-1 0.5 0 2.5 2 1 0.5 1.5 0.5 2-1 3 1 4-0.5 1-3.5 3-2 0.5-2-3.5-4 1.5-4 0.5-3 1-2-1.5-2.5-0.5-0.5-1 3 0.5 6-3 1-2.5 0.5-2-3.5-3-3 1-1-0.5-2-2-3 0-2-1.5-1 0.5-0.5 2.5-3.5 0-3 2 0 2 0 1 1 1.5 2 1 1-0.5-1-2 1-1 4-1 1 1 2.5 3 0.5 2-3 1.5-1 1.5-1.5 0 0-1 1-2-1.5-1-2 1.5-4 0-2.5 0.5-2.5 2.5-3 1.5-1 1 3 2.5 0 1-1 0.5-2-2 0-2-4.5-1-1.5-1-1-1.5-1 0.5 0 1 0 5-4.5 1zM334 22.5l-4-0.5-1.5-2 0.5-2 2-1.5 7-0.5 1.5 1-2 3-2.5 2zM93 25.5l-2.5-1.5-0.5-1 3-1.5 1-1 1.5 0.5-1.5 1zM97 23l-0.5-1 0.5-4 2.5-3-0.5-3 0.5-1 3.5-4-1-1.5-1.5-0.5 0.5-1 2 0 2 0.5 0 0.5-0.5 2 0.5 1 1 0 4 0 2-3.5 4 0 2 0.5-1 1.5-1 0-1-0.5-1 0.5 0 1.5-2 0.5-1 1-2-0.5-1 1.5-1 0-2 1.5 1 1.5-2 0.5-0.5 1 1.5 2 0 1-3 0.5-0.5 0.5 1 2-0.5 0.5-3 1.5zM111 23l-4-0.5-2-1.5 1-2 4-0.5 1 0.5 0.5 3zM120 6l2-2 2-0.5 6 0 1.5 0.5 0.5 1-1 1-2 0.5-6 0zM127 27l-1.5-1-0.5-1 1 0 1 1zM142 5l0-1 1-0.5 3-0.5 0.5 1 0 1zM178 31l-2-1-2-0.5-0.5-0.5 1.5-1 1 0.5 3 1 1.5 1.5zM183 34l-1 0-1.5-2 0.5-0.5 2-1zM194 12l0.5-3 2.5-3 4 0 2 1.5 2 0 0.5 0.5 0 1-1 1-4.5 1-3 0zM195 27l-0.5-2 0-5 1.5-1 2 2 4 2 0.5 1-0.5 0.5-3 0.5-3 2zM231 20.5l-1.5-1.5 0-2 1.5-1.5 2 0 1 0.5 1.5 3-1.5 1zM208.5 116l3.5 1.5 1-1.5 0-1-1-1.5-2 0-1 0.5-1 1zM127.5 108l1.5 0 1-2.5 0.5-0.5 0-1-1.5-3-2-1-0.5-1 1-1 0.5-1-1-1-2-1-1.5 1 0 1 1 2 0 3 1.5 5zM117.5 102l1.5 0-1-2 1-2 0-1-2-1-0.5 0-0.5 1 2 3zM109 101l1-1-1-1-1 0 0 1zM198.5 99l1.5 0.5 2-0.5 1.5-1-0.5-1-1-0.5-2 0.5-2 1zM280 97l2 0.5 1-1 0.5-1.5-0.5-3 2-5-0.5-1-1.5-0.5-3 0.5-3-1.5-1 0-1 1.5 1 2 1 0 2-0.5 0.5 0.5 0 1-1 3-0.5 2 1 2zM110 93.5l3 1 1.5-0.5-0.5-2-1-1-5-1-2.5 1-1 1 1 1 1.5 1zM128 89l1.5 0 0.5-1 0-0.5-1.5 0.5zM210.5 88l1.5 0.5 2-0.5 0.5-1 0-1-1.5-2-3 1-0.5 2zM263 84l1-1 0-1-1-0.5-1 1.5zM119.5 80l1.5 1 0.5-1-1.5-1.5zM277.5 79l0.5 0.5 3.5-3.5-3.5-1.5-1 0-0.5 1.5zM251 68l1 2.5 1.5-0.5-0.5-2-1-1-1 0zM255 67l1 0.5 1-0.5 0.5-1 0-1-2.5-2-1.5 1zM67 59l0.5 0 0-2-0.5-1.5-1 0-0.5 1.5zM59 47l1 0 2-0.5 2.5-1.5-0.5-4-1 0-1 1-3.5 2-1 1 0.5 1zM205 45l1 0.5 1.5-1.5 0.5-1-1-1-1-0.5-1.5 0.5zM202 40l1 0.5 0.5-1.5-1.5 0zM267.5 38l1.5 3 1 0 1.5-2 0.5-1-1-2.5-1-0.5-2.5 2zM223 37l1 0-1-2-0.5 1zM228.5 34l0.5 1.5 3.5-1.5 0-1-0.5-1-1-0.5-1 0.5zM218.5 31l3.5 3.5 4-2 0.5-0.5 1.5-3-1-1-5 0.5 1-2.5 0-1-1-1-1 0-2 1-1.5 4zM208 29l0 1.5 1 0 0.5-1.5-0.5-0.5zM297.5 28l1 0 0.5-1-1-1-0.5 1z"/>
<path fill="#f6f4f3" d="M107.5 144l1.5-1 0-3 0.5-2 0-1-2-3 0-1 0.5-2-1-1-1.5 1-1.5 5 1 0.5 1.5 2.5 0.5 3zM114 125.5l3 1 1-0.5-1-1-2-0.5-2-4-0.5-2.5-2.5-2 1.5-5 2-3-3.5-2.5-1 0-1 2.5 0.5 2 0 1-1.5 2 0.5 2 1 1-0.5 3 0 6 1 1zM317 126l1 0 0-1-1-2-0.5 0-0.5 1zM323 123l1 0.5 3.5-1.5 0-1-1.5-3-1-0.5-1 0.5-1 1-2-0.5-1 0.5 1 1 2-0.5zM294 122l0-1 0-1.5-1-2-0.5 0.5 0.5 3zM303.5 121l1.5 1 1-1 0-3-1-1-1 1zM298.5 117l1 0 1-1-0.5-1.5-1-0.5-1 0.5-0.5 1.5zM313.5 117l1.5 0 1.5-1-1-1-3.5-2-1-2-1-0.5-1 1.5 0.5 1 0.5 1zM328 116l3 0 1.5-1-0.5-1-2-0.5-2 1-0.5 0.5zM195 113l1 1 1-1-1-1zM301 111.5l2 2 1 0.5 2-1 0.5-1-0.5-2.5-3-3-4 1-1 1.5 1 3zM120.5 111l0.5 0.5 1 0 1.5-0.5 0-1-1.5-0.5-1 0.5zM328 101l1 0 1-1 0.5-6-2.5 0-3-1.5-3 0.5-4-0.5-2 0.5-1 1 0.5 2 2.5 3 1 0.5 3-2 2 0 1.5 0.5 0.5 2zM191 96l1.5-1 0.5-1-1-5 0-2-1-1-1 0-2 2-1 3 2 3.5zM280.5 94l1 0-0.5-3-0.5 2zM223.5 93l2.5 0.5 2-1 2-2.5 0.5-3-1-4-4.5-5-3.5 2 0 1 1 3-1 4 0.5 1.5 2-0.5 0.5 1-1 2zM291.5 93l3.5 0 1-0.5 1-1.5 0.5-2-1-2-1.5-1-2-0.5-2.5 2.5 0 3zM172.5 87l2 0-1-2-1.5-0.5-0.5 0.5 0 1zM166 76l1 0.5 1-0.5 0-1-2-0.5-0.5 0.5zM205 75l3-1 2 1.5 2 0 2-1 3 0 3-1 4 0.5 6-3.5 3 0.5 2 2 1 1 1 0 1.5-1 1-2-0.5-1.5-2-1.5 0.5-1 1.5-0.5 1 2 1 0 2.5-2.5 0-1-1.5-1-3 0.5 0-1 2-1 2-2.5 2-1 0-1-1-1-3-0.5-3.5-2.5 0.5-4-1-1.5-1 0-2.5 1.5 1.5 3 2 2-1 2.5-1 1-2-0.5-2 1-2 2.5-1.5-2.5 2-2 0.5-2-2-2.5-2-1-1 0-2 5.5 3.5 1 0 1-2.5 0.5-1 0-0.5-0.5-0.5-1-3-2.5-4 0-4 2.5-0.5 4-0.5 1.5-4-0.5-1-0.5-3 0-5-2.5-5-0.5-4-1.5-2.5 0-1.5 1.5-1 0.5-4-2 0-1 1-2-1-5-2-3-2-1.5-3-0.5-1 1 0 1 3.5 4 1 4-0.5 1-2 1-1 0-1-1-1 0.5-1.5 1.5-0.5 1 1.5 2-0.5 0.5-2 0.5-2-0.5-1.5 0.5-3.5 2-1 2 1.5 5 0.5 1 1 0.5 2 0.5 1 0 2-4 4-1 0-1-1.5-1 0-1 1.5-0.5 3 1 1.5 1.5 2.5 1 2.5 3 2.5 1.5 4-0.5 5 1 4 2 1 0 1-2 2-0.5 2-0.5zM199 70l0-1 1-0.5 1.5 0.5-0.5 1.5-1 0zM107 73l1 0 0.5-1-1.5-1.5-1 0-1 0.5-0.5 1zM288 64l1 0 5-1.5 0-2-1.5-2.5-1.5-0.5-3.5 3.5-0.5 1zM269 61l2 0 1.5-2 0-2-0.5-3 0-2-1-1.5-3 0.5-2-2.5-1 0-5 0-4 2-1-0.5-2-1.5-3-1-1 0.5-2 1.5-2 0.5-0.5 1 1.5 1.5 1 0.5 4-1 3 2.5 4 1 6-1 3 1 2 0 0.5 0.5-2 2-0.5 1 0.5 1zM280.5 59l1.5 0 1-1 1-2 2.5-2 0-1-1.5-1-2-4-4 0.5-2-2-2 0.5-1 1 0 1 2 3 0.5 4 0.5 0.5 2 0zM206 56l0 2.5 1-1.5 0-1.5zM288 54l2 0.5 1-1.5-0.5-1-1.5 0-2 1zM104 51l0 2.5 1 0 2.5-3.5-0.5-2 1-2 3 0 0.5-1-1-3 3-4-1-2-0.5-1-5-1.5-6 1.5-0.5 1 1.5 2 1 0 2-1 2 0.5 1 0.5 0 1-0.5 1-1.5 1-1-0.5-3-1.5-2 1.5-0.5 1.5 3 7zM93.5 49l1.5 0.5 1 0 0-0.5-1-1-1 0zM282 47l1 1 1.5-1 1-1-1.5-2-1 0.5-1 1.5zM70.5 44l2.5 2.5 1 0 1-1.5 0-1-2-1.5-2-0.5-0.5 1zM320 44l1 0.5 2-0.5 0.5-1-0.5-1.5-1-0.5-2 2zM253.5 43l1.5 0 1.5-1 1-1-0.5-1-4-1 0 3zM115 42l1 0 0.5-2-0.5-0.5-1 0.5zM283 38l1 2.5 1 0.5 1.5-2 0-1-1-1-0.5-2 2 0 1 0.5 1-1.5-1.5-5-2.5-1-1 0-0.5 1 2 5-0.5 0.5-2 0.5-1 1zM70 39l1 0 0.5-1 0-1-1.5-1-1 0.5-0.5 0.5 0 1zM313 38l1 1 1-1 0-1-1-1.5-2-0.5 0 1zM277 37l1 1 1-1-0.5-1-0.5-0.5-1 0.5zM77 34l1 0.5 3.5-3.5-0.5-1-4-1.5-0.5 0.5-0.5 2zM114.5 34l1.5 0.5 1-0.5 0.5-2-1.5-1.5-2-3-2-1-4 0.5-2.5 1 0.5 1 1 1.5 4 0.5 3 2zM27.5 32l0.5 0 5-1-1-1.5-2.5-1.5-0.5-1 0-2-1-0.5-2.5 1.5-0.5 1 0.5 1 2 2zM327.5 32l2 0 0-1-0.5-1-1 0zM136 31l1.5 0-0.5-1 2-2 0-1 2-2 3 0 3-2 3 0.5 1-1.5 5 0.5 1-1 1 0 1.5-1.5 0-2 4-4 0-2 3.5-1.5 1-1 1 0 0.5-1.5-0.5-0.5-5 0-1-1-9-0.5-1-0.5-21 0-1 1-11 0-1 1-4 0-1 1-2 0.5-1 1-2-0.5-3.5 2.5 1.5 1.5 1 0 1 1 3 0 1 1 4 0 4 0 3.5 3.5 0 1 1.5 0.5 0.5 0.5-0.5 0.5-1.5 0.5 0 1 3 3 0.5 1.5 2 2 1 0 1 1 3-0.5zM320 31l1 0.5 0.5-0.5 0.5-1-1-1-1 1zM197.5 30l0.5 0.5 0.5-0.5 1-3-1 0-1 1zM185 28l2 1.5 1-1 0-1-1-0.5-2 0zM99 27l2 1.5 1-0.5 0.5-1-0.5-1-1-0.5-2 0zM163.5 27l0.5 0.5 1 0 0.5-0.5 0.5-1-2-0.5zM325.5 27l1.5 0 0-2 1-2-1.5-3 0.5-3-1-0.5-1.5 0.5-1.5 3-2 1 3.5 2 0.5 1 0 2zM315 26l2 0.5 1-0.5 1-1-1-2-1-1-1-2 1-1.5 3 1 0-2.5-1-2-1 0-2 2-3 0-2 2 0 1.5 0.5 1.5 2 1 0.5 1-0.5 1zM77.5 25l0.5 0.5 3 0.5 1.5-1 0-1-1.5-1-3-0.5-1 1zM114.5 25l1.5 0 3-1-1-1-3-0.5-1 1.5zM159 25l1.5 0 2.5-3-3.5 0-0.5 1zM340 21l2 0.5 1-0.5 0.5-1-0.5-1-2 0-0.5 1zM52.5 19l1.5 0.5 1-0.5 0.5-1-0.5-1.5-1-0.5-1 1-1 1zM201.5 13l1.5 0.5 2.5-1.5-2.5 0zM235.5 8l1.5 3 1 0 1.5-3-0.5-1-3 0z"/>
<path fill="#f6e7df" d="M316.5 95l2.5 2.5 1 0 5-2.5-1-1-6-0.5-1.5 0.5zM189 93l2 1 0.5-1 0-2-1.5-2.5-1 0.5-1 2zM293 92l2-0.5 1.5-1.5-0.5-2-1-1.5-1 0-1.5 0.5-1.5 2 0.5 2 0.5 1zM224.5 87l2.5 3 1.5-2 0-4-0.5-1-3-1.5-0.5 4.5zM210.5 74l1.5 0 2-2 3 0 0-1.5-1-0.5-2 1-1 0-2-3-6 3 0 1 1 0.5 3 0zM221.5 72l1.5 0.5 1 0 1.5-1.5 0.5-1.5 5-0.5 1.5-1 0-1-3.5-2-3-4-4 0-3 0.5-2-1.5-0.5-1 0-2-1.5-0.5-1.5 1.5 0 2 1.5 0.5 2 1.5-0.5 3 0.5 1 2 0.5 1 3.5zM184 70l1 1 6-1-0.5-1-2.5-2-1-4.5-1-0.5-2 0-4-1.5-0.5 0.5 0 1 1.5 2.5 3 1 1.5 1.5 0.5 1zM194.5 66l0.5 2.5 1 0 1-1 4-1 1-0.5-0.5-1-2.5-1-2 1.5-1 0.5-2-3-1-0.5-1 0.5 0 1 1 1zM233.5 65l0.5 0.5 1 0 1-0.5 0-1-2-1-1 1zM172.5 60l0.5 1 1 0 1-1 0.5-1-0.5-1-2 1zM261 53l4 0 0.5-1 0-1-1.5-1-3.5 0-1 1 0.5 1zM279 52l2 1 1-1 0-1-1-0.5-1 0-0.5 0.5zM101.5 44l1.5 0.5 0.5-0.5-0.5-2-1-0.5-1 0.5zM112 30l1 0 0-1-1-0.5-1.5 0.5z"/>
<path fill="#f3d2c3" d="M318.5 96l1.5 0 1.5-1-2.5-1-1 0.5-0.5 0.5zM292.5 90l0.5 1 2-0.5 0.5-1.5-0.5-1-1-0.5-1 0-1 1.5zM223 71l0.5 0 0.5-1-1-1-1 1z"/></g>
<path d="M107,11.7 113,9.7 120,8 135,7 148,6.5 160,8 168,8.5 162,10.5 162,14 160,16 158,18 158,20 154,21.5 148,22 143,24.3 140,25 138,27.5 136.5,30 134,29.5 130,28 128,25 126,22.5 129,20.5 126,19.5 125,17.5 122,14.5 114,14 109,13Z" fill="#fff"/>
<use href="#bord" fill="none" stroke="#000" stroke-width="0.45" vector-effect="non-scaling-stroke"/>
<use href="#land" fill="none" stroke="#000" stroke-width="0.6" vector-effect="non-scaling-stroke"/>
<use href="#lakes" fill="#fff" stroke="#000" stroke-width="0.6" vector-effect="non-scaling-stroke"/>
</g>
<rect x="355.40" y="14.20" width="253.60" height="105.90" fill="none" stroke="#5a5a5a" stroke-width="0.8"/>
<text x="485.6" y="7.9" font-size="6.52" text-anchor="middle" fill="#1a1a1a">SM-MH Correlation CMIP6</text>
<text x="355.5" y="8.0" font-size="6.9" font-weight="bold" fill="#1a1a1a">b</text>
<g transform="translate(357.00,135.40) scale(0.70306,0.70600)">
<g clip-path="url(#lc)" fill-rule="evenodd"><rect width="360" height="150" fill="#4885b7"/>
<path fill="#5c9dc6" d="M0 150l360 0 0-150-360 0z"/>
<path fill="#7cb4d2" d="M0 150l360 0 0-150-360 0z"/>
<path fill="#9dcadf" d="M0 150l360 0 0-150-360 0zM200 96l-1.5-3 0-2-1-2 0.5 0 1 0 0.5 1 3 2-0.5 3-1 1z"/>
<path fill="#b7d9e8" d="M0 150l360 0 0-150-360 0zM82 60l-0.5-1-0.5-2-1.5-2 1.5-2.5 2-1.5 1 1 0 3 1 2-1 2zM114 96l-1 0-0.5-1-1-2-1-2 0.5-3 1-1.5 1 0 0.5 0.5 1 4 0.5 1 1 0.5 1-0.5 1-1.5 1 0 1 1.5-1 2zM192 82l-1 0-1-1 0.5-1 1.5-0.5 1 0 0 1.5zM198 98.5l-1-4.5-1.5-3 0-4 0.5-0.5 3 0.5 5 0.5 3 2.5 1 2-0.5 1-1.5 2-2 0.5-4 3-1 0.5zM216 104.5l-1-1.5 0-1 1-0.5 1 0.5 0 1zM253 75.5l0-1.5 1-0.5 1 1.5-1 1zM313 42l-0.5-1 0.5-0.5 1.5 0.5 0 1-0.5 0.5zM289 75.5l-5-2.5 1-5 1-0.5 1.5 1.5 2 5 0 1z"/>
<path fill="#cee6ef" d="M0 150l360 0 0-123.5-0.5-0.5 0.5-1 0-25-360 0zM9 24l-0.5-1 0.5-0.5 1 0 0.5 0.5 0 1zM37 30l-1.5-1 0.5-2.5 1 0 4 1.5 0.5 1-2 1zM46 35.5l-1.5-2.5 0.5-2-2.5-2 1.5-1 1.5 0 0 1-0.5 2 1 0.5 1.5 1.5 0 1-0.5 1zM62 34.5l-0.5-0.5 0-1 0.5-1 1 1 0 1zM66 31.5l-0.5-0.5 0.5-1 1 0.5 0.5 0.5-0.5 0.5zM87 76l-1 0-3.5-4 0.5-1 2-1 0.5-1-1-3-0.5-0.5-3 4-1-1.5-0.5-2-0.5-1-1.5 1-0.5 2-2-1 1-3-1-2 0-1 3-0.5 1-2-1-1-3 1-1 0-2-1.5 0-1 2-2 3.5-1 0.5-1-2-1-0.5-1 0.5-1 1-1 1-0.5 1 0.5 1 1.5 4-1.5 1 0 1.5 1 0 1-0.5 4 0.5 3-2 5 2.5 2 1.5 3-1 2 0.5 3 0 3zM93 76l-2 0-0.5-1 0.5-1 0.5-3 1.5-1 2-0.5 0.5 0.5-0.5 1-1 2 0 2.5zM97 60.5l-0.5-0.5 0-2 0.5-0.5 1 0 0.5 0.5 0.5 2-1 1zM101 71l-2-1-0.5-1 1.5-0.5 1 0.5 1 1zM104 139.5l-1-1.5 1-1.5 2-1 0.5 0.5 1 1-0.5 1-2 1.5zM120 143l1-1 1-0.5-1 2zM134 95l-1-1 0.5-1 0.5-1.5 1-1 3 0 1.5 0.5 1 1-0.5 1-3 1.5zM141 97.5l-0.5-0.5 1.5-2 1 1-0.5 1zM160 28l-1.5-1 0.5-1 1 0 1.5 1 0.5 1zM164 80.5l-0.5-0.5 0-1 2 0 0 1zM190 83l-1.5-1-0.5-3 0.5-1 2.5-1 2-1.5 1-0.5 1 1 0 5-0.5 2-1.5 0.5zM192 99l-1-2 1-0.5 1 0.5 0 1zM197 100.5l-1-1.5-0.5-4-1.5-2-0.5-1 0-5 0.5-2 1-1 4 2 3 0 4-1 3-2 0.5 1-1 2 0 2 1 2 1.5 2 0 1.5-2.5 1.5-1.5 3.5-1 0-2-1-1.5 0.5-1.5 2-3 0.5zM200 110l-0.5-1 0-1 0.5-1 1 0 1 1 0.5 1-1 1zM205 107.5l-1-0.5 0-2 0.5-1 1.5 0 1 1zM208 112.5l-0.5-0.5 0.5-2 1 0 0.5 1-0.5 1zM211 109l-0.5-2 0-1 1.5-1 1.5-4 3.5-2 2 3-0.5 3-2.5 1.5-3 0-0.5 2.5-0.5 1zM212 115.5l-0.5-1.5 1.5-1.5 2 0 1 1.5-2 2zM240 20.5l0-1.5 1-0.5 0 2.5zM245 33l-1.5-2 0.5-1 2-0.5 1 0.5 0 1-1 2zM249 43.5l-2.5-4.5 0-1 0.5-0.5 2 0.5 0.5 1 0 4zM254 79l-2.5-4-0.5-2 0.5-1 2-2 0.5-2 0.5-1 2.5-1.5 3 1.5 0 1-0.5 1-3.5 3 0 1 1 1.5 1 0 4-2.5 1 0 1.5 1-1 2-3.5 2-1 0.5-2-0.5-1 3zM265 42.5l-2-1.5 0-2 2-3.5 1-0.5 0 1-0.5 2 0 3zM266 63l1-2 1 0 0 1-0.5 1zM273 15.5l-0.5-0.5 0-1 1.5 0 0.5 0-0.5 1zM275 31l-0.5-2-1.5-2 1-0.5 1 0.5 2 3-1 1zM280 81.5l-1-1.5 1-1.5 3 2 0 0.5-1 1zM286 82.5l-1-1.5-2-1 0-3-0.5-1-4.5-1.5-0.5-0.5-0.5-3 1-0.5 3 1 1-0.5 0.5-1 0-2 0.5-1 4-2 2-2 1 1 0 1-1.5 2 0 1 3.5 8 0 1-1.5 3-1.5 1.5-2 1zM294 44.5l0-1 1-1.5-0.5-2 0.5-1 1.5 1 0 1-1.5 3zM298 125.5l-0.5-0.5 0.5-1 1.5 1zM304 85.5l-0.5-0.5 1.5-1 1-2.5 1 0 0 2-1 1zM305 91l-0.5-1 0.5-1 1 1zM310 37l-0.5-1 0.5-1 1 0 0.5 1 0 1-0.5 0.5zM318 55l-2-0.5-0.5-1.5 1.5-1.5 1 0 1 1.5 0 1zM321 125l-1.5-1 2.5-2.5 1 0 1 1 1.5 2.5-1.5 0.5zM329 17l-3-1.5-2.5-2.5 0.5-0.5 1-0.5 1 0 1 1 1 1.5 2 1 0 1zM336 31l-1-1 0-1 2-2 1-2.5 1-0.5 0.5 1-0.5 2-1.5 3zM77 21l-1-1 0-1 2 0 0.5 1-0.5 1zM88 19l-1-0.5-1.5-2.5-2.5-1 3-1 3 1 1 1 0 1.5-1 1.5zM200 49l-2-1 0-3-1.5-4 0-5 0.5-1 2 1 2 6.5 1 1 3 0.5 1 1-0.5 2-0.5 0.5zM215 84l-1.5-1 0.5-1 1 0 1 1zM216 26l-2-1-2-0.5-0.5-0.5 0-1 0.5-0.5 2 1 1-0.5 1 0.5 1 1.5zM241 12.5l-1-1.5 1-1 1 0 0.5 1-0.5 1.5zM259 45l-2 0 0-1 1-1 1 1zM262 19l-0.5-1 0.5-0.5 1-0.5 1.5 0 0.5 1-1 1-1 0.5zM279 20l-1-0.5-0.5-1.5 2.5-1 3-3.5 1-0.5 0.5 1-0.5 4.5-3 0.5zM287 13l-1 0-1-1 1-0.5 3.5 0.5zM290 32l0-1 1 0 1 1-1 1zM299 96l-0.5-1 1.5-0.5 1.5 0.5 0 1-1.5 0.5zM304 50.5l-1-1.5 0-1.5 1.5 1.5zM316 46.5l-1-2-3.5-1.5-0.5-3 0-1 1-0.5 3.5 1.5 3 2 0.5 1-0.5 2-1.5 1.5zM320 49l-0.5-1 1-4 1.5-0.5 2 0.5 1 1 0 1-3 1.5zM106 98l-1-3 1-1 2.5-1 0-3-2-2 0.5-2 4-2.5 1-1.5 0-2-2-2 1 0 2 0.5 2 0.5 1.5 1 1 2-1.5 1-0.5 1 0.5 1 5 5 1 0.5 2-1 1 0 1 1.5 0 2-1 1-4 0.5-3 2-5 1-3-3.5-2 3.5zM203 35.5l-0.5-1.5 0-2 0.5-1 1-0.5 1 0.5 0 2-1 2.5zM215 21.5l-2-1.5 0.5-1 2.5 0 1.5 1-1.5 2zM300 91l-0.5-1 1.5-0.5 0.5 0.5-0.5 1zM107 78.5l-0.5-0.5 0.5-1 1.5 0-0.5 1zM112 43l-1-0.5 0-1.5 1 0 1 1zM123 86.5l-1.5-2.5 1-1 2.5-0.5 2 1.5-1 2.5-1 0.5zM107 71.5l-1-1.5 0.5-1 2 0-0.5 2z"/>
<path fill="#e4f0f5" d="M0 150l360 0 0-40.5-2 1-2-1.5-0.5-2 0.5-0.5 1-0.5 3 0.5 0-77.5-1-0.5-1.5-2.5 1-2 1.5-1 0-23-360 0 0 23 2 1 0.5 2-0.5 2-2 0zM8 25l-1-2 0-1.5 2-1.5 4-1.5 1 0 0.5 1.5-2 3 0 2-1.5 1zM17 38.5l-1-0.5 0.5-1 2.5-0.5 2.5 0.5-1.5 1zM23 30l-1-1-0.5-1-0.5-1 1-1 2 0.5 2 1.5 0 1-1 1zM51 53l-4-1.5-3-1.5-3-3-2-3-2-4-0.5-6-2.5-2-0.5-2 1-5-0.5-2-1-1-1 0-3 1-1-0.5-2 1.5-1.5 0-0.5-1 4-6.5 2-0.5 2 0.5 1 0.5 3 1 1 2 6.5 1 0.5 1 0 0.5-2.5 2.5 0.5 1 1 0 2-0.5 1 0.5 1 1.5 0.5 3.5 1.5 2 2 1 2.5-9-0.5-3 0.5-1 0.5-0.5 1.5 0.5 1.5 3 1 0 1-1 0.5-4-0.5-1.5-3.5-2.5-0.5-1 1-1.5 1-0.5 2 0 1 3 2 3.5 2 0 2-1 1.5 2.5 0 1-0.5 1-1 1-1 0-2-1-1 0.5-0.5 0.5 0 3 0.5 0.5 8 2.5 4.5-3 1-3 0-1-1.5-4-1.5-1-0.5-1 0.5-1 1.5-0.5 3 1.5 3 0.5 0-2.5 2-1.5 0-2.5 1-1 3-0.5 0-1.5 1-1 2 0 2-0.5 1 0.5 0.5 2-1.5 4 0.5 4 0 5-1.5 1-5 1.5-1-1.5-1 0 0 1 1 1.5 5 2 1 1 1 0 2-1.5 1.5-1 1-1 2.5-0.5-0.5 1.5-2 1 0.5 2-1 0.5-5-0.5-3 2-3 0.5-1.5-1.5 0.5-2-1-0.5-1 0.5 0.5 2-0.5 2 0.5 2-1.5 1.5-2 3-2 1-1 1-3-0.5-2-2 0-3-1 0-0.5 3-0.5 0.5-2 0.5-1.5 5-3 1-0.5 1 0.5 2-1 2-1.5 1.5-1 0-1-1.5 0-3-1-0.5-1 0.5-2 1-0.5 1 0 1 2 1 0.5 1-2 2zM62 62.5l-1-1.5 1-0.5 1 1.5 0 0.5zM110 147.5l-4-0.5-1-1-1-1 0-3-3-3 0-2 1-2 3-1.5 2 0 0.5 0.5 2.5 4.5 4 2.5 2.5 4 0 1-1.5 1.5-2-1zM119 145.5l-1-1.5 0-1 1.5-2 0.5-2 1-1 1 0.5 2.5 2.5 0 2-3.5 3zM135 113l-1.5-3-3-2-1-2 1.5-2 2 0 0.5-2 1.5-0.5 2-1.5 1 1 0.5 1-1 1 0 1 0.5 0.5 1 2.5-3 6.5zM143 109l-0.5-1 0.5-1 1-0.5 0.5 1.5-0.5 0.5zM209 126l0.5-1 1.5-2 0-2.5 3-1 1-1.5-1-0.5-2-0.5-2-2.5-1 0-1.5 0.5 0 1 0 2-0.5 0.5-2.5-1.5-1-1 0-1 1.5-3 0-1.5-3 1.5-3 0-1-1-1-2.5-1 0-2 1.5-1 2.5-1 0.5-3-2-2-3-0.5-3-3-7-1-4 0.5-5-0.5-1-2.5-2.5-4-1-1-1-1-1.5-1-3-1 1-5 1-2 2.5-3 2-2 0.5-13-0.5-3 1-0.5 0.5 0 2 2.5 4-0.5 2 0 2-0.5 1-4 2-3-1-1 0.5-2-2-3-0.5-1 1-1.5 3-4 1-1.5 2-3 2-1-0.5-0.5-1.5 1-2-0.5-1-3 0-1 1.5-1 0-3-1.5-4 0-3 2.5-4-0.5-1 1 0.5 1 2 3-0.5 1.5-2 0.5-2-1.5-2.5-2.5-2.5-5-1.5-5 0.5-6-0.5-2-1-1-7.5-1.5-6-2-4-2.5-3.5-4-1-2-1-4 0-1 1.5-0.5 1-1.5-0.5-2-1.5-3 1-1.5 2-0.5 1-1-4-2-2-2-1 0 4-1 1.5-2 2.5-2 2-3 3-2.5 2 0.5 2 0.5 6-0.5 3 3 0 1-1.5 2-1.5 6-2 3 1 1 3-0.5 4 1 0.5-0.5 1-6 2.5-1 1.5-1-2.5-4 0-1 1-1 2 0 1.5 2-1 4 3 1-2.5 3.5 0 2.5-1 1.5-1 1-2 0.5 1 1.5 4 1.5 1 0.5 0.5-0.5-0.5-3 1-0.5 4 2.5 3 1 1.5 2 0 1-2.5 1.5-2 2.5 5 2 0.5-1-0.5-1 1 0 23 3 23-0.5 2 1 5-0.5 3-1 2 0.5 2 0 2 0.5 3 2 1 0 2-1.5 0.5 0.5 0.5 2 1 1 1 0.5 1-0.5 0.5-4 0.5-0.5 2.5-0.5 1.5-1 1-4.5 2 2.5 6 1.5 1 1.5 0.5 3 0.5 1 1 0.5 5-0.5 1 0 2 1.5 4-2.5 7-2 0.5 0 0 2-2.5 3-4.5 7 0 2 1 2-0.5 3 2 0.5 2 3.5 1 0.5 2-1.5 3 1 2 4 1 1 2 0.5 2 1.5 0.5 1-0.5 4-1 1.5-3 0.5 1.5 1 0 1-2.5 3-1 0-0.5-1-1.5-1.5-1 0-0.5 0.5 0.5 1.5 2 1.5-3 2.5-6 2.5zM287 102l-13-2.5-7-2-13-7-8-5.5-3-1-7 0-2-2-2 0-1-1-0.5-4 1.5-1 1 0 0 1 2 2.5 6-1 3-1 1.5-1.5 0.5-2 1-3.5 0-4.5 0.5-2 4-3 2.5-0.5 3-1 2 0.5 0.5 1 0.5 2 1 0.5 2-0.5 1-0.5 2-3 1-0.5 1 0.5 3 1.5 0.5 3 2.5 2.5 2 1 4-0.5 1-0.5 1-1.5-0.5-1 0.5-0.5 2 0.5 2-0.5 1-0.5 1-2.5 1-1 2 0 6 2.5 1 1 0 1-1.5 2-0.5 2 1 1 3 0 1-1 1.5 1 0 3-1 2 0.5 3-1 1.5-1 1-2-2-1 0.5-1 2 0 2-4 2.5-4.5 4.5-0.5 2 3.5 3-1 2 1 2-1.5 2.5-1 1zM325 129l-1-2-1-0.5-8 0-2-0.5-2-1-2 0-2 0.5-3-1-4 3.5-3 0-4-2.5-2-1.5 0-3 1-1.5 1 0.5 2 1.5 2 0 1 0.5 1 0 1 0 1-1 3-2 3-0.5 4 2 1.5-1.5 0-4-2-2-0.5-2-2 0-1-1 1.5-3 0.5-1-2-1.5-1 1-1 2.5-1 0.5-1 0-1-0.5 0-1 1-2 1-1 2 0.5 1-1 0-1.5-3-2-1.5 1-0.5 1-3-0.5-2 0-3 1-1.5-0.5 0-1 1.5-4 0.5-2 1-1 2.5-1 0.5-3 2-3 0-2 3-2 1.5-3 0-3 1-0.5 2 0.5 2 2.5 9 2 5.5 2.5 3 2 2 3-0.5 1-5 0.5-0.5 1.5-1.5 1-5.5-2-1-2-1.5-1-1-0.5-2 0.5-2-1.5-1 1 0 0.5 1 1.5 3 1.5 2 0.5 1 0.5-2 2-2 1-0.5 2 0.5 0.5 6 0.5 1.5 1-0.5 1.5-1 1-1 0-1-2-1 0-0.5 1.5 0.5 1 1 0.5 1-0.5 1 1 2 2 0.5 2-0.5 0.5-5 0.5-1.5 2 0 1 1.5 3 2 0.5 2 1 2 0.5-1 1.5-1 0-1.5 0.5 0.5 1 2-0.5 1 0.5 3 0 2 3 1 0.5 0.5-0.5 0.5-1-0.5-1-2.5-2-0.5-2-3-1-0.5-4 0.5-2 0.5-0.5 2 1.5 1-0.5 1-3.5 1-1 2-0.5 0.5 0.5-1 2 0.5 3-2.5 2 2 2-1.5 1 0.5 1 3 2 0 1-0.5 2 5 5 0 1-2 2.5-1 0-1-1.5-1 0-3 1.5zM336 121.5l-0.5-1.5 0.5-1.5 1 0.5 0 1zM338 101l-0.5-1 1-2-0.5-3 1-0.5 2 1.5-1 2 0.5 3-0.5 0.5zM345 115.5l-0.5-0.5-0.5-1 2.5 0 0.5 1-1 0.5zM348 113.5l-2-1.5-2 0-1-1-0.5-1 0-1 1.5-1.5 2-0.5 1 1 3 3-0.5 2zM21 22l-2.5-2 0-1 0.5-0.5 2 0 1 0.5 0 3zM49 20.5l-4.5-2.5 0-1 1.5-0.5 6-1 0 1.5-1 3zM95 16l-2-1 0-1 1-2 1 0 3.5 2 0.5 1-1.5 1zM108 113l-0.5-1-0.5-2.5-1.5-2.5 0.5-1 4 0 1 5-1 1zM114 136l-1-2 1-2 1 0 2.5 1 0.5 1 0 1-1 1-2 1zM120 126l-1.5-1-0.5-1.5-2-0.5-1-1 0.5-1 0.5-1.5 1 0 1 1 1 0 2.5-1.5-0.5-4 4-2.5 3 2.5 0 1 0 3 2 1 0.5 1 0 1-0.5 1-4-1-0.5-1 0.5-1-3-0.5-0.5 0.5 0 1 1.5 2 0 2-2 1.5zM121 131.5l0-1.5 2-1 2-3 1.5 0 1 1-3.5 3.5-2 1zM84 44l-1 0-0.5-1 1-2 1.5-0.5 1 0 2.5 2.5-0.5 0.5-1 0zM106 51.5l-1-1.5 1-2 0.5-2-1.5-1-1-1.5-0.5-3.5-1.5-0.5-1 0.5-2 2-1-0.5 0-2.5 2-2 1-2 1-0.5 2.5 0.5 0.5 1 0 1-1 2 4 4 2-3.5 1-0.5 3 1 0.5 1 0 1-1.5 3 2 1 1 0 2-1.5 3.5-1.5 1-1-1.5-0.5-2-3.5-3 0.5-0.5-1.5 0-1 1-1 3.5-1 1-1 2 0.5 2 2.5-3 1 2 3.5 3 1.5 1 0 1-0.5 0.5 0.5 0 2-2.5 2.5-2 0.5-2-1-1.5 0-3.5 2-6 1.5-2 1.5-3 1zM162 30.5l-4-1-4-3.5-4-1-3 0.5 0-0.5 0.5-1 2.5 0 1-1 1-0.5 4 0 1-0.5 1 1 4 0 2-2 4 1.5 2 1.5-0.5 2-2.5 3zM169 52.5l-1-1.5-0.5-1 0.5-4 1-2 1-0.5 1 0 1.5 3.5 0 1-1.5 4zM176 45l-0.5-1 0.5-1 1-0.5 1 0.5 0.5 1zM185 29l-1-2 0-1 1-1.5 2-0.5 0.5 2-1 2-0.5 1zM201 57l-0.5-1 0-2-5-6 0-1 1-2-0.5-2-1-1-1-0.5-3 0.5-3 2-1.5-1 0-1 1-4 0-3 2-7 0-3 1.5 0.5 1.5 1.5 0 1-0.5 3 1 0.5 3 0 1 0.5 1.5 2 1.5 0.5 1-0.5 0.5-3 1-2 0.5-1-1-2 0-1.5 3.5-3.5-1-2 0.5-2 1-0.5 1 1 0 1.5-0.5 2 1.5 1 1 0 0.5-1 0.5-5 7 1 6 2.5 0 2.5-2 1-2 0 0 1 0 1.5 2.5 1.5 2 3 0 1-1.5 1-2 0-2.5-1 0-2-1-1-4.5 0-1.5-1-4.5-1-2 2 0.5 1 1.5 2 0 3 0.5 1 0.5 0.5 2-1.5 2-4 1-1.5 0.5 1.5 0 3 2.5 3 0 1-2 1-6 1-1 1-0.5 1 2.5 3-0.5 4-1.5 1.5-3 0.5-1 1-0.5 2 1.5 2 0 1-1 1zM218 37l-0.5-1 0.5-0.5 1-0.5 1 1 0 1-1 0.5zM220 55l-1.5-1 0-2 0.5-0.5 2 0.5 1 1 0 1-1 1zM224 46l-5-4-0.5-1 0.5-1 5 2.5 1.5 2.5 0 1-0.5 0.5zM229 19.5l-0.5-0.5 1.5-2.5 2-0.5 1 0.5 0 0.5-1 1zM245 51l-3-2.5-4-1.5-3 0-2-0.5-3 1 0-2.5 1-3 1-1 4-1.5 3 0 4 2 3.5 4.5 0 1zM248 45.5l-1-1-1-3.5-1-2-1-0.5-3 0.5-1-1 0.5-2 0.5-1 2 0.5 1.5-0.5-0.5-1-2-2-1-2.5-2-1.5-1 0.5-3 3-1 0-1-1.5 0-4 0-1-1-1 0-1 5-2.5 1.5-2.5 2-2 0-1-1.5-1.5-2 0-1 0.5-1-1-4-1.5-2.5-2.5 0.5-1 1-0.5 2 0.5 2-0.5 3 1 0.5-0.5 0-1 0.5-1.5 2-0.5 1 0.5 0.5 0.5 0.5 1 2 1 1 1 0.5 2-1.5 3 1 1.5 2 0.5 0.5 1-1.5 2-2-0.5-1 1 0 1.5 6 6.5 3 0 1 3.5-1 0.5-3-0.5-1.5 2 0 2 2.5 1.5 2.5 6.5 0 2-2.5 0.5zM294 114.5l-0.5-1.5-2.5-1 0-1 2-2.5 2 0 1.5 0.5-1 3 0 2-0.5 1zM298 121l-1-1 0.5-1 0.5-0.5 1 0 0.5 1.5-0.5 0.5zM311 61l-3-2-2-3-6-3.5-2.5 2.5-0.5 3-1 0-1-3 1.5-1 0.5-2 1-1.5 1-0.5 1 0.5 0-2-3-2.5-1 0-3 2-1-0.5-1-3-2-1.5-1-3.5-3-1-3.5-3.5 1.5-1.5 4-1.5-2-0.5-3-1.5-1 0-1 1-1.5 5 0 1 3 2 1 2-1.5 2-1 3.5-1-0.5-1-1.5-1-1-3.5-0.5-1-3-2.5-1-1-1.5-1 0-1 1.5 0.5 3-1.5 3.5-1 1-1-0.5-2-3-1 0-0.5 2 0.5 2-1 1-2-1.5-4-0.5-1-1 2-1.5 1.5-3.5-1.5-4 0.5-2 1.5-1.5 1 0 3 2.5 1 0 0-1-1-2 0-2.5 1-0.5 2 1 1-1-3-3.5-1 0-1 1-1 0-2-1.5-4.5-1 0.5-2 1-1 3-1.5 0.5-0.5 0-1-1.5-2-5 0-1-1 1-1 5 0 5 0.5 1-1.5 1 0 2 1 1.5 0 0.5-2 1-1 2-0.5 3 0.5-0.5-1 1.5-2.5 5-2 1 0 1 1.5 3 2 7 0.5 1 0.5 1 1 0 2.5 0.5 0.5 3.5 0.5 1 0.5 1 1 0.5 1-0.5 3-1 0-2-1.5-2-1-2-3-2-0.5-3 0.5-1 0.5-0.5 1 1 6-0.5 0.5-1 0-2-2.5-1 0-1 0.5-0.5 1.5 0 4 2.5 3 1 0.5 3-1.5 2 0 5.5 4 0.5 1-2.5 2 0 1 5.5 1.5 2 1.5 2-1.5 2-0.5 2.5 5-0.5 2-1 2 1 2 1 5 1 1 3 0.5 1-2 2-1.5-1.5-2 1.5-2 0-1-1-0.5-3 1-0.5-0.5-1-1 1-2-0.5-4-2-2-2-0.5-3.5-2.5 4-3 0-1-1-3 0.5-1.5 7 0.5 2 1-1 0.5-1.5-0.5-0.5-1-1 0.5-1.5 1.5-0.5 2 1 1.5 2 0.5 1 1 3 5 2 0.5 1-0.5 0-1 1 0 0 1 4 3.5 3-1 1.5 0.5 0.5 1 0 5-3.5 1-4 4 0 5-0.5 1.5-1 0.5-2 0-3 1-2 1.5zM324 99l-1 0-0.5-1 0.5-0.5 1.5 0.5zM333 114.5l-4-1.5-1-3 0.5-1 1.5-1 1.5 1 3 4-0.5 1zM336 32.5l-3-2-2 0 0.5-1.5 1-1 2.5-1.5 1-2.5 1-1 4-1.5 1 0 0.5 0.5-1 5-3 4zM349 33.5l-2-4.5 0-2.5 1 0 1 1.5 0.5 2 2.5 1 0 1zM121 110.5l-0.5-1.5 0.5-1 1 2zM104 7l-2 0-1-1-0.5-1 0.5-0.5 2 0 2 1.5zM111 9l-0.5 0 0-1 1.5-3 0.5 1 0.5 2zM114 21.5l-0.5-0.5 0-1 1.5-0.5 0.5 1.5zM119 6.5l0-1.5 2-1 10 0 1 0 0.5 1-0.5 0-1 1zM124 23l-1-4 1-0.5 0 1.5 2.5 1-0.5 0.5-1 0-1 0.5zM162.5 6l-6 0 0-1 0.5-1 1 0 2 0 2 1.5zM170 41.5l-2.5-2.5-0.5-2 3.5-2-1.5-1 0-1 1-1.5 2-1.5 1 0.5 0 3.5-2 2 1.5 2-2 2zM189 10.5l-0.5-0.5 0.5-1 2-2 2-0.5 1 0.5 1 1-1 2zM224 28.5l0.5-1.5 1.5-0.5 0.5 0.5-0.5 1-1 0.5zM225 41l0-1.5 1-1.5 3 0-2 3-1 0.5zM304 18l0-1 3-2.5 1.5 0.5 1.5 1-2 0.5-3 2zM316 34l-0.5-1 1-3-1.5-2 0.5-1 2.5-1.5 2 0 1 1.5 2.5 1 1.5 2 0 1-1 1-5 0.5zM329 103.5l-1-2.5-1.5-1-0.5-1 3-2.5 1 0 1.5 0.5-0.5 2 0.5 2-0.5 1.5zM333 93.5l-1-0.5-0.5-1 0.5-1 1 0.5 0.5 0.5 0.5 1zM335 18.5l-0.5-0.5 0.5-1.5 2 0 0.5 0.5-1 1zM323 23.5l-4-1.5-3-0.5-1-0.5 0-4-1-1-3 0 1-0.5 2 0 3-2 0 3.5 0.5 1 2.5 0.5 2-1 1.5-1.5-1-2-2-2 0.5-1 4-1 3 1 1 0.5 0.5 1.5 2 1 0.5 1-1 4-1 1-4-2-0.5 1-0.5 2-1 2zM224 112l1 0 1-1 0.5-2-1-2 0-3-0.5-1-1 0-1-2-1-0.5-0.5 3.5 2 5zM216 111l1 1 2-3 0-1-1-1-2.5 1-0.5 1zM194.5 105l3.5 0.5 1-1.5 0-1.5-4-1.5-1 0.5-1 2.5zM208.5 102l1.5 0.5 1 0 3-5-3-1-1 0-2 4.5zM121 97.5l0 2.5 1 0 1.5-1 0.5-1-1-1-1 0zM97.5 98l1.5 0 0-2-1.5 1zM185.5 94l2.5 3.5 1 0 3-3.5 0.5-1 0.5-4-1-4-1-0.5-2 0-5 2.5 0 1 1 1zM278.5 95l2.5 2.5 3-1.5 3 0 0.5-1-2.5-4 0.5-3-0.5-2-4-2-1 0.5-0.5 1.5-2 2-0.5 2zM128 92l1 1 3-1 0.5-1-0.5-1-3 0-1 1zM102 90l1-0.5 0.5-2.5-0.5-0.5-2-0.5-1.5 1-0.5 1zM211 87l1 1 2.5-1-0.5-1-1-0.5-1.5 0.5zM259 86l1 0.5 1 0 3-3.5-2-6-1 0.5-2 2-1.5 3.5zM94.5 84l1.5 1 1 0 2-1.5 2-0.5 2-1 3 1 0.5-1-0.5-1-2-1.5-2 0.5-3 0-2 1.5-2 1-0.5 0.5zM200 84l1 1 1 0 1-1-1-1.5zM94.5 79l0.5 1 3 0 0.5-1 0-3 0-1-1.5-1-1 1 0 2zM117.5 79l1.5 0.5 0.5-0.5-1.5-2.5-1 0-0.5 0.5zM102 74l1 0.5 1 0 2-1.5-2-2.5-1 0.5-1.5 2zM75.5 73l3.5 0 0.5-1-0.5-1-3 0-1.5-2-1.5 0 1.5 3zM290.5 68l1.5 2.5 1-0.5 1-1-2-2-1 0zM262.5 69l1.5 1 1-0.5 2.5-2.5 0-1-3.5-1-1.5 2zM310.5 57l0.5 0.5 1-0.5 1.5-1-2.5-0.5zM47.5 38l6.5 6.5 1-0.5 1.5-2 0.5-1-0.5-4-0.5-0.5-2-0.5-3-2-2.5 2zM277 40l1-1 0-1-1.5 1zM37.5 33l0.5 0.5 4 0 0-1.5-1 0-1 0.5-0.5-0.5-1.5 0zM56 33l1 0.5 2-1.5-1-3 1.5-2-0.5-1.5-1 0-0.5 1.5 0 2-2.5 3zM270.5 30l1 0 0.5-1-1-1.5-1 0-0.5 0.5 0 1zM76.5 28l0.5 0.5 1.5-1.5 0-1-0.5-1-1 0-1 1zM264.5 24l1.5 0.5 1-0.5-1-1-1 0zM270 24l4 0.5 2 0 1-0.5 0.5-2-2.5-3.5-2 1-2 0-1.5 0.5 0 3zM83 18l1 1.5 1-0.5 0-1-1-0.5zM276.5 15l1.5 1 1-0.5 0.5-0.5 0.5-1-2-1.5-1 0.5z"/>
<path fill="#f6f4f3" d="M110 135l1 1.5 0.5-0.5-0.5-1.5zM351 136l1 0 1.5-2 0-1-2.5-1.5-1 0.5-1 2zM324.5 134l1.5 1 1-1-1-2.5-2-1-0.5 0.5 0 1zM355.5 132l0.5 0.5 1 0 2.5-2.5 0-2-0.5-1-2-1.5-4 2.5zM105.5 131l4.5 0.5 0.5-2.5 0.5-1 3 0.5 1 0 1-1.5 0-1.5-2-1.5 0.5-5 0.5-1.5 1-0.5 3 0 0-1-1-3-0.5 0 0.5-0.5 1-1.5 0-1-1-4-1-1-3.5 0 3 3 0 5-3.5-0.5-5.5 2.5-0.5 1-1 7-1.5 5 0.5 2zM320.5 129l1.5 1 0.5-1 0.5-1-1-0.5-1 0-1 0.5zM198 125l1 0 2-2 1-0.5 3 1.5 3-2-4-3.5-3 0.5-1-1-1.5-2-3.5-2-1 1 0 1 2.5 5 0.5 3zM332 122l1 0.5 0-0.5 0.5-1-0.5-0.5-1 0.5zM130.5 118l1.5 0.5 1-0.5 1-3-2-4-4-4-0.5 1 0 4 2.5 3zM294 118l1 1 1-1 0-1-1.5 0zM307.5 117l2.5 1 1-1-0.5-2-1.5-1-2-0.5-2-1.5-4-2.5-1 0-2.5 2.5 0.5 3.5 3-2 2 0 2 1zM315.5 111l2 0 0.5-1-1-0.5-1 0-1 0.5zM126.5 104l0.5 2 1-0.5 0.5-1.5-0.5-0.5-1-0.5zM140 105l1 1 1-0.5 0.5-1.5-0.5-1-1.5 0-0.5 1zM320 104l1 0 0.5-1-0.5-1.5-1.5 1.5zM315 95.5l5 2 3-1 3 0.5 2-1 0.5-1-1-1-2.5-1-3 0.5-5-0.5-2 1-0.5 1zM220 93l1 2.5 7-2.5 1.5-2 1-2 1-4-0.5-2-3-4.5-1-0.5-3 1-3 3-1 3.5-3 3.5 0 2zM189 94l1 0 1-0.5 1-3.5-1-3-1-0.5-1 0.5-0.5 1-0.5 2 0 2zM279 92l1 0.5 2-1 1-2.5 0-1.5-2-0.5-3 2 0 1zM290.5 92l3.5 1 3-1 0.5-3 1.5-2 0-1.5-1-0.5-2 0.5-3-0.5-5 5 0.5 1zM169 85l3 1 1 0 0.5-1-1.5-3-2-0.5-2 0.5-0.5 1 0.5 1zM261 82l0.5-1-0.5-1.5-0.5 1.5zM211 79l1 0 2-1 3-2 3 0 3-2 4 1.5 2 0 3.5-3.5 0-3 0.5-0.5 3 2.5 1 0 2-0.5 4-3.5 1.5-1 1.5-2 2.5-3 1-4-1.5-0.5-2 0.5-1-0.5-2-4.5-1-1.5-2-1-2-0.5-1 0.5-3.5 2.5-0.5 1-0.5 0 0.5-3-1-1-4 2-3 0-1.5-1-1.5-3-1-1-1 0 0 3 3.5 3 0 2-1.5 2-3 0.5-1-0.5-2-3-1 0.5-1.5 0.5 1 3-0.5 1-1 1-1-0.5-1-1 0-1.5 1.5-2-0.5-1-1-2-1-0.5-1.5 1.5-2 4-1.5 1.5-1 0.5-3 0-2-1-3-0.5-3-2.5-0.5-2 2.5-2-2-3 0-1 0.5-1-0.5-1-1 0-2 1-2 3.5-1.5 0.5 0 2-1 1 0 1-1.5 2-0.5 2-1.5 1.5-2-0.5-0.5-1 0.5-3-0.5-1-3.5 0.5-1 0.5 0 1 0 2 2 3-1 1.5-1 0.5-3 0-2.5 3-1.5 0.5-1.5-1.5 0.5-1 1.5-1 0.5-1 0-1-1-0.5-1 0-8.5 3.5-1.5 1-1 2 1 2 3 2.5 2 3.5 2 1.5 2-0.5 1-2.5 1 0 2 1.5 2 1 4-0.5 3 0.5 3 0 2-2.5 5 1 1-1 0.5-2.5 0.5-1 2-0.5 1 0.5 1 2 3 1.5 2.5 0.5 1.5 1 0.5 3 1 1 5.5 0zM219 71l-0.5-1 0.5-0.5 1.5 0.5 0 1zM274.5 65l1.5-0.5 0.5-0.5 0-1-1.5-1-1 0-0.5 1 0 1zM64 61l1 1 1 0 1-2 0-1-2-1-1 0-1 1zM263 61l1-0.5 1-1.5 1-1 2 0 6 2.5 2-0.5 5-0.5 0.5-1.5-1-4 0.5-1 3-1 1-1-0.5-2-1.5-2-2.5 1-1.5 0-2.5-2-2.5-1-4 0.5-2-0.5-2 3-3-0.5-2 2-1 0-3-2-3 0.5-2 0-3 1-1 1 0.5 1 1.5 3 0.5 2 3.5 2 3 0 2 0zM92 60l1 0.5 0-0.5 0.5-2-0.5-1-1 0-1 1zM300 58l2 0.5 0.5-0.5-1.5-2.5-1 0-1 0.5 0 1zM64.5 53l1.5 0.5 0.5-0.5 0-3 0.5-1 1-0.5 3 0.5 4.5-3 0.5-1 0-1-1-0.5-3-0.5-1-0.5-1.5 0.5 0 2-0.5 1-3-1.5-2 0.5-3 6zM94.5 52l1.5 1.5 1-0.5-1-1-1-0.5zM288 52l2 1 1.5-1-1.5-1.5-1-0.5-1 1zM93 51l1 0.5 0.5-2.5 1.5-2 0-6-2-3-3-1-1-1 0-1 2 0 2 1.5 1 0 1.5-0.5 0.5-1 0-1-1-1-4-1-2 1 0 2-1 0.5-1.5 1.5 0.5 1 1.5 1 0.5 1 1 6 2.5 4zM100 46l1 0.5 1-0.5 0.5-1-0.5-2-1 0-1.5 2zM182.5 44l1.5-0.5 0-0.5 2-8.5-3 2-3 0-1 0-0.5-0.5 0-1 1-2-0.5-0.5-1-1.5-2-1-1 1 0 2 0.5 2 1.5 2 0 1-1.5 3 3.5 0.5zM228 44l1-1 0.5-1-0.5-1-1.5 2zM212.5 40l2.5 3.5 1-0.5-1-3-1-0.5zM53 42l1 0 1-1 0-1-1-1.5-2-1-1 0.5 0.5 2 0 1zM79 42l1 0.5 1-1 0.5-1.5-0.5-0.5-1 0-1 0.5zM252.5 39l1.5 0.5 0.5-0.5-1.5-2-0.5 1zM337 39l1 0.5 1 0 2-1 1-1.5 0-1.5-2-3-2 0.5-1 1-0.5 4zM235.5 37l1.5 1 1-0.5 0.5-1.5-1.5-1-1 0.5zM21 35l2.5-1 1-2-3.5-2-1.5-3-0.5-3-1.5-2-1 0-0.5 1 1 1-0.5 1-0.5 1-2 1-1 1 0.5 1 3 3 0.5 2zM107 35l5 1 1-3 4-3 0-2 1.5-3-0.5-2.5-1-0.5-4.5 4-1.5 0.5-1.5-1.5 0-1 1.5-1 0.5-1-0.5-2-1 0-2 0.5-3 2.5-0.5 2-3 3 2.5 2-0.5 2 0 1zM249 34l3 1.5 1 0 0-1.5-3-1.5-1 0zM344 33l0 1.5 1.5-2.5 0-6 0.5-1.5 1-0.5 2 1 2 3.5 1 0 1-1.5-1-4-2-3.5-1-0.5-2 1-1.5 3-1.5 1-1 4-2.5 3 0 1 0.5 0.5 2 0zM48 29l1 2.5 1-0.5 0.5-3 1.5-2 0-1-1-1.5zM135 30.5l1 1 1.5-0.5 0-1 2-2 0-1 1.5-1.5 3 0 3-2 3 0 1-1 5-0.5 1-0.5 2-0.5 0.5-1 0-2 4-4 0-2 1.5-1.5 2 0 1-1 1 0 0.5-1.5-4.5-1.5-1 0.5-1-0.5-6 0-3-0.5-1-0.5-11 0-4-0.5-2 0.5-4 0-1 1-11 0-1 1-4 0-1 1-2 0-1 1-2 0-1 1-1 0-1.5 1.5 1.5 1.5 1 0 1 1 3 0 1 1 8 0 4 3.5-0.5 1 1.5 0 1 1-1 1-1.5 0 0 1 3 3 0.5 1.5 2 2 1 0 1 1zM294 30.5l6 1.5 1.5-1 1.5-2-1-1.5-1-0.5-2 1.5-2 0-1.5-0.5-1.5-2.5-1 0-1.5 0.5-0.5 1 1.5 2zM255.5 30l1 0 1-1-0.5-1.5-2-1-1 0 0 1.5zM310.5 30l2.5 0.5 0.5-0.5-2.5-1.5-1 0.5zM194.5 29l1.5 1 1-0.5 3-1.5 0.5-2-1.5-2 4-2.5 0.5-1.5-0.5-2-1 0-5 0.5-4 3-0.5 1.5 1.5 2zM325 27l1-0.5 1-1 2-0.5-3-0.5-1 0.5-0.5 1zM69 25l0 0.5 1-1 2 1 0.5-0.5 0-1-0.5-2 1-2-1-1.5-1.5 0.5 0 2zM310 24l6 1.5 2-1.5-1-1-2 0-1-1-1-2.5-1-0.5-2 0-1 1-0.5 2zM331.5 24l1.5 0 0-2-1 0-1.5 1zM272 23l1.5 0 0.5-1-2-0.5-0.5 0.5zM250 22l1 0 1.5-2-0.5-1.5-2-1-1 0.5-1 1 0 1 0.5 1zM0 18.5l0 3 2 0 1-0.5 0-1-1-1zM288.5 21l0.5 0.5 1 0.5 4 0 1.5-1-0.5-1-3-1-2 0.5zM336.5 21l1.5 0.5 1-0.5 1-1-0.5-1-1.5-0.5-1.5 1.5zM358.5 21l1.5 0.5 0-2-1 0-1 0.5zM94.5 20l0.5 0.5 3-0.5 1.5-1-0.5-1-2 1-3 0zM104 20l1 0.5 2-1 1-1.5-1-1.5-4-2-1 0.5-1 2 1.5 1zM55 19l2 0.5 0.5-0.5-0.5-1-2-1-1 1zM235 19l1 0 2-3-3 1-0.5 1zM287.5 17l2.5 0.5 0.5-0.5 0-1-1.5-0.5-2 0.5zM319 16l1 1 1-1 0-1-1 0zM194.5 14l2 0 3.5-1.5 1.5-1.5 0-2-1-1-1.5 0-2 1-2 4-1 0-2-1-0.5 0 0.5 1 2 0zM99 12l1 0.5 1-0.5 0.5-1-1.5-0.5-1 0.5zM204 12l1-1 0.5-2-0.5-0.5-1.5 0.5-1 1z"/>
<path fill="#f6e7df" d="M357.5 130l0.5 0 0-2.5-1 0.5-0.5 1zM107.5 123l3.5 1 1 0 0.5-2-0.5-2-4 1.5zM111.5 117l0.5 1 1-1.5 0-1-1 0zM319 96l2 0 1-0.5 3 0.5 1-0.5 0-0.5-2-1-2 1-5-0.5 0 0.5zM189 92l1 0.5 0.5-0.5 0.5-1 0-1.5-1-0.5-1 1zM219 90.5l4 2 3-1 2-1.5 1-1.5 1-4.5-0.5-1-2.5-2.5-1 0-2 0-2.5 2.5-0.5 3.5-2 1.5-0.5 1zM291.5 91l2.5 0.5 1.5-0.5 1-3-0.5-1-2 0-2 0.5-1.5 2.5zM169.5 84l1.5 0.5 1-0.5-1-1-1-0.5-1 0.5zM212.5 77l1.5-0.5 1-2.5 1-0.5 2 0.5 2 0-1-1-2-1-1-1.5-1 0-1 1.5-1 0-1.5-1 0-1 2-3 0.5-2-0.5-1-2.5-2 0-2-2-1.5-1 0.5-1 3-1 0.5-1-0.5-2-2.5-5-1-1 0.5 0 2-0.5 1-1.5 1-1.5-1-0.5-1.5-1 0-0.5 0.5 0.5 1-1 1-1 0.5-3-6-1 0-2 1.5-1 1 0 2.5-5 0-5 0.5-2 3 0 2-1 0.5-4.5-2.5-1.5-1.5-1 0.5-1.5 3 0.5 3 6-0.5 3 3 1 0 4-1.5 4 0.5 0.5-1.5-0.5-1 1-1.5 3 0.5 3-1 1-1 0-3 1-0.5 0.5 0.5 0.5 2 1 1 2 0 2-2 4 1.5 1 1.5-0.5 3 2 1 1.5 0 3-1.5 1 0 2 3.5 2.5 1zM224.5 72l3.5 1 1-0.5 1-1.5 1-3 1.5-2 0.5-2 1-0.5 3 0.5 2-1 3 0 0.5-2 0.5-3-1-5-0.5-1-2.5-1-2 1-1.5 2 0 1 0.5 1 2-0.5 2 0.5-0.5 1-2.5 0.5-5 4-2 0-3-1-3 0-1-2.5-1-0.5-2.5 0.5-2.5 2-1 0-1 0-0.5 1 1.5 2 0 3-0.5 2 0.5 1.5 2-1.5 2 0 3 1.5zM236 69l1 0.5 1-0.5 0-1-1-1-1-0.5-1 0.5 0 1zM240.5 66l0.5 0.5 2-1 0.5-1.5-0.5-1-1 0-1 1zM244.5 62l1.5 0 1-1 0.5-1-0.5-1-1.5 1zM192 57l1 1.5 1-0.5-0.5-1-0.5-0.5zM230 58l2 0.5 1-1.5-2-0.5-1 0.5zM262 58l1 0.5 2-1.5 4 0 4-5 2.5-2 0-1-1.5-2-1-0.5-4 1-1 0.5-1 1.5-1 0-2-0.5-1 0.5-1 1.5 2 2 0.5 2-0.5 1.5-2 0.5zM190 56l2 0-1-2.5-1-1.5-1 0.5-0.5 0.5 0.5 2zM252.5 55l2.5 1.5 3-0.5 1-1 0-2 1.5-1 0-1-4.5-2-3.5 1-1.5 2zM277 53l1 0 3-3-3-0.5-1.5 0.5zM93 43l1-1 0-1-1-1-1 1 0 1zM107 31l1 1 0.5-1 1-3-0.5-1-1-0.5-1 0.5zM112 30l1 0 1.5-1 1-2-0.5-0.5-2.5 1.5-1 1zM196 28l1 0 1-1-1-0.5-1 0zM196 22l1 0.5 2-1 2-0.5 0.5-1-0.5-0.5-4 0.5z"/>
<path fill="#f3d2c3" d="M221.5 90l1.5 0.5 1 0 3.5-2.5 0.5-1 0-3-1-1.5-2-0.5-2 1-1 1 0.5 4-1 1zM293 90l1 0 0.5-1-0.5-0.5-1 0.5zM175.5 70l0.5 0.5 1-0.5 1-2 0-1-1-2-2-0.5-1 0.5 0 1zM203 70l3-1.5 3 1 2-1.5 0.5-2-0.5-1-3-1.5-3.5-0.5-1.5-2-1-1-1 0-1 1 0 1.5-1 1.5zM218 66l9 4 1-0.5 3-3.5 0.5-1-0.5-1.5-1-0.5-4 0-3 1-4 0-1 1zM253.5 54l1.5 1 1.5-1-1-3-0.5-0.5-1 0.5-1 2zM270 51l1 0.5 1-1 1-0.5 0-1-1-0.5-1 0.5z"/>
<path fill="#f0bba3" d="M223.5 87l1.5 1 1-0.5 0.5-2.5-0.5-1.5-2 0-1 1 0 1.5zM203 67l1 0.5 2-1.5-1-1-1 0-1.5 1z"/></g>
<path d="M107,11.7 113,9.7 120,8 135,7 148,6.5 160,8 168,8.5 162,10.5 162,14 160,16 158,18 158,20 154,21.5 148,22 143,24.3 140,25 138,27.5 136.5,30 134,29.5 130,28 128,25 126,22.5 129,20.5 126,19.5 125,17.5 122,14.5 114,14 109,13Z" fill="#fff"/>
<use href="#bord" fill="none" stroke="#000" stroke-width="0.45" vector-effect="non-scaling-stroke"/>
<use href="#land" fill="none" stroke="#000" stroke-width="0.6" vector-effect="non-scaling-stroke"/>
<use href="#lakes" fill="#fff" stroke="#000" stroke-width="0.6" vector-effect="non-scaling-stroke"/>
</g>
<rect x="357.00" y="135.40" width="253.10" height="105.90" fill="none" stroke="#5a5a5a" stroke-width="0.8"/>
<text x="490.4" y="129.1" font-size="6.52" text-anchor="middle" fill="#1a1a1a">SM-MH Correlation ERA5-Land</text>
<text x="357.1" y="129.2" font-size="6.9" font-weight="bold" fill="#1a1a1a">d</text>
<g transform="translate(357.70,258.40) scale(0.69972,0.70133)">
<g clip-path="url(#lc)" fill-rule="evenodd"><rect width="360" height="150" fill="#4885b7"/>
<path fill="#5c9dc6" d="M0 150l360 0 0-150-360 0z"/>
<path fill="#7cb4d2" d="M0 150l360 0 0-150-360 0z"/>
<path fill="#9dcadf" d="M0 150l360 0 0-150-360 0z"/>
<path fill="#b7d9e8" d="M0 150l360 0 0-150-360 0z"/>
<path fill="#cee6ef" d="M0 150l360 0 0-150-360 0zM56 18l-1-2 1-0.5 1 1.5zM119 130l-1 0-2-2 1-0.5 1.5 0.5 0.5 1zM130 97.5l0-1 1-1.5 1-0.5 0.5 0.5-1.5 2zM209 115.5l-1.5-1.5 0.5-1 1 0 0.5 1 0 1zM298 56.5l-0.5-1.5 0.5-1.5 2 0.5 0.5 1-1 1zM354 24l-0.5 0-0.5-1 1-1 2-1 2-0.5 0.5 0.5-2.5 2z"/>
<path fill="#e4f0f5" d="M0 150l360 0 0-128.5-1.5 0.5-2.5 2.5-3 1-4-1.5 0.5-2-1-2 0.5-1 1.5 0 1.5 2 6-1.5 2 0 0-19.5-360 0 0 19.5 1 0.5 0 1 1.5 2-0.5 1.5-2 0zM49 22.5l-1-1.5 1-0.5 1 0.5 0 1zM57 20.5l-1.5-1.5-1.5-2 1-2 1-1 1 0 1 2-0.5 4zM59 40.5l-0.5-0.5 1.5-2.5 1 0 0.5 0.5-0.5 2zM64 44.5l-2-1.5 0-1.5 1-0.5 2 0.5 2-0.5 2.5 0-1.5 3-1 0.5zM73 60.5l-2-2-3.5-0.5 0.5-2 1-0.5 2 2 3 0 2 0.5-1 2-1 1zM78 64l-1-1 0-1 1-0.5 1 1.5 0 0.5zM79 74l0.5-1 1.5 0 0 1zM85 21.5l-1-1.5 1-1 2.5 2-0.5 0.5zM90 78l-1.5-1 0.5-1 1-0.5 1 2.5zM97 79l-1-1 0-1 1-1 1 0 0.5 1 0 2-0.5 0.5zM99 57l-0.5-1 0.5-0.5 2 0.5 2-1 1 1-1 0.5-2 0-0.5 0.5zM105 33.5l-1.5-1.5 0.5-1 2 0 1.5 1 0 1zM112.5 144l-1.5 0-0.5-1 0.5-1 1 0.5 0.5 0.5zM114 138l-2.5-2-0.5-2-2-3-2-1-0.5-1 0.5-0.5 2 0 2-1 0.5 0.5 1.5 5 2 3 0 1.5zM118 131l-3-3 0.5-1 2.5 0 2 1 0.5 1-0.5 1zM124 119l-0.5-1 0.5-0.5 1-0.5 1 0 0.5 1-1 1zM128 102l-1-1 0-1 3-6 2-1 2 0 1 1-0.5 1-4.5 6-1 1zM133 109.5l-0.5-1.5 0.5-1.5 1-0.5 1.5 1 0.5 1-0.5 1-1.5 1zM170 50l-0.5-2 0.5-1 1 0.5 0 1.5zM177 46l-3-1 2.5-2 0.5-3-1-1-4 0 0-1 1-2 1 0.5 1 0 2-1.5 1 1 2 0 0.5 1-0.5 3 0.5 2-0.5 1.5zM178 62.5l0-2.5 2.5 0-1.5 2zM189 62l-3-2.5-4.5 0.5-0.5-1 2-0.5 5 0.5 1.5 1 0.5 1zM191 44l-0.5-2 0.5-1 1-1 1 1 0 2-1 1.5zM193 65l-1.5-1 0-1 1.5-1-0.5-2 0.5-1 2-1 1 1-0.5 1-2.5 2 1 1 3 1 0.5 1-1.5 1zM196 120l-1-1 0-1.5 1 0 1 0.5 0 1zM203 53l0-1 1 0 1.5 1zM209 116l-2.5-1 0-1 0.5-1.5 2 0 1 0.5 1 2-0.5 1zM227 62l-0.5-1 0.5-1.5 0.5 0.5 0.5 1 0 1zM230 79l-1.5-1 0.5-2 1-0.5 1 1 0.5 1.5-0.5 0.5zM236 72.5l-1.5-1.5 0-1 0.5-1.5 1 0 1 0.5 1 2-1 1zM249 17l0-1 2 0 0 1zM262 82l-1.5-1 0.5-1 1.5 1zM263 73l-1-1 2.5 0 0 1-0.5 0.5zM273 65l-0.5-1 0-3-1-1-2.5 0-1-0.5-0.5-1.5 0-1 0.5-0.5 1 0 1 0 3 2 1 0.5 1 1-1 2 1 2-1 1.5zM276 76l-0.5-1 0.5-1 1 0.5 0 0.5 0 1zM281 72.5l-3-1.5 1-1 1-0.5 2 2.5zM289 51.5l-1-0.5-0.5-1 0.5-1.5 2-1 1 0 0.5 0.5 0.5 2zM291 58l-0.5-1 0.5-1 1 1zM300 121l-2.5-2 0.5-1 4 1 1 1 0 1-1 1zM304 124.5l0-0.5 0.5-1 3 0-1 1zM310 55.5l-1-0.5 0-1 1-1 1 1-0.5 1zM317 46l-1.5-1 0.5-1 2-2 0.5 2 0 1zM318 53.5l-0.5-1.5 1.5-0.5 0.5 0.5-0.5 1zM325 121l-3-3-1.5-3 0-1 1.5 1 2 0.5 1 2 2.5 1.5-1.5 2zM332 121l-1.5-2 1.5-1-1-1-3 1-0.5-2-1.5-2 1-1.5 1.5 0.5 4.5 3 0.5 1 0 2 1.5 1-1 1.5zM66 51l-0.5-1 1.5-1.5 1-3 3 0 1.5-1.5 0-1-2.5-2 2-2 2-0.5 2-1 3.5-0.5 5.5 7-0.5 1-3.5 1.5-0.5-0.5-0.5-2-1-1-1-3-2-0.5-1 0.5-1 2 1 2 2.5 3-0.5 3-0.5 1-1.5 1-1 0-2-2.5-1 0-1 0-2 1.5zM78 57l0-1 1-0.5 1 0.5-0.5 1zM81 54l-1-1 0-1 1-1 1 0 1 2-1 1zM85 17l-0.5-1 0-1 1.5-1 0.5 1zM98 55l-2-1 0-3 1-0.5 1 1.5zM107 124l0-1 2.5 0-0.5 1.5zM112 101l0-1 3-2 1 0 1 1-1 1.5-1 0.5-2-0.5zM192 12.5l-1-1.5 1-0.5 1 1.5zM194 54.5l-0.5-0.5 0-1 0.5 0 1 1zM207 65l-1-0.5-1-1.5 0-2 1-1 2 4zM209 71l-1-1 0-2 1-1 1-0.5 1 1.5 0 2-1 1zM230 63.5l-1-0.5 2-3 1 0 0 1.5zM261 63l-0.5-1 1-1 1.5-3 0.5-1-1.5-3 1-1 1.5 1 1.5 4-2.5 4-0.5 1.5-1 0.5zM275.5 38l-2 0 0-1 1.5-0.5 0.5 0.5zM279 53.5l0-1 1-0.5 1.5 0 0.5 1-2 1zM302 64l-4.5 0-0.5-1 2-0.5 2-2.5 1-0.5 1 0.5 0.5 1 0 1zM299 111l0-1 1-0.5 2-0.5 1 0.5 0.5 0.5 0 1-0.5 0.5-2-0.5zM320 17.5l-1-0.5-0.5-1 0.5-1 2-0.5 0 1.5zM322 107l-1-1 0.5-1 2.5-1.5 1 0 0.5 1.5-0.5 1-1 1-1 0.5zM71 23l-0.5-2-0.5-0.5-1 0-2.5 1.5-3 0-1-1 1-3 1.5 0 2 0.5 3-1.5 2 0 1 0.5 0 4.5-0.5 1zM86 14l-1.5-3 4.5-0.5 0.5 0.5-0.5 1-2 1.5zM97 42.5l-1-0.5 0-1 1.5-2-1-1-2-1-0.5-1 2-1.5 1 0 2 2 1 0 1 0 2-2 1 0.5 0.5 3-0.5 1.5-1 0.5-2-0.5-1 1-1 1.5zM272 17.5l0-1.5 1-1 1 0.5 0 1.5zM281 17l-0.5-1 0.5-0.5 1-0.5 1 2-1 0.5zM298 57l-1-0.5-0.5-1.5 0.5-2.5 1-1 3.5 1.5 1 1 0 1-0.5 2.5-2-0.5zM299 96l0-0.5 1 0 1.5 0.5-1.5 1zM115 47l0-1 1-0.5 1.5 0.5 0 1-0.5 0.5zM298 19.5l-1-0.5 1-3 1.5 2-0.5 1z"/>
<path fill="#f6f4f3" d="M0 150l360 0 0-20.5-1 0.5-1-0.5-0.5-1.5 0.5-0.5 2 0.5 0-106-1.5 1-0.5 2 1.5 1 0 1-1.5 1.5-1 0.5-1-0.5 0-1.5-1-0.5-3 0.5-2-1-2-1-1-1 0.5-2 0-3 0.5-0.5 2-0.5 4 1.5 4-1 2 0 0-18.5-360 0 0 18.5 1.5 0.5 2 4-1 2-0.5 0.5-2 0zM15 30.5l-1.5-1.5 0-1 0.5-0.5 2 0.5 1.5 1-0.5 2zM19 22l-2-1 2-2.5 0.5 0.5 0.5 3zM22 35l-1-1 0-1 1-1 1 0 1 2-0.5 1zM30 26l-3-0.5-0.5-0.5 0.5-1 1-1 1 0.5 1.5 1.5zM37 32l-5-0.5-1-0.5-0.5-1 1.5-1.5 2 1 3 0.5 0.5 1zM43 31.5l-1.5-1.5 0.5-2-0.5-2 0.5-1 2-1 0.5 1 0 1-1 2 1.5 3-1 1zM50 33l0-1 1-0.5 2 0 1 1.5-3 1zM79 75l-1.5-1 0.5-1 3-1.5 1.5 0.5 0 1-0.5 2.5zM92 80l-2-0.5-5.5-3.5 2.5-1.5 4 0 1 0.5 0 1 0.5 3zM100 84l-3-1-1-1 0-1-1.5-3 1-2 1.5-1 1 0 1 1 1 3-0.5 2 1 3zM102 74.5l-1-1.5 2-3 0.5-3 0.5-1 1 0.5 1.5 1.5-2 3 0 2-0.5 1-1 1zM109 146l-2.5-1-3-4-0.5-2 1-1.5 1-0.5 1 0.5 1.5 1.5 1 5 0.5 0 0.5-2 2.5-2 2.5 4 0 1-0.5 1-2-0.5zM123 119.5l-0.5-1.5 1.5-1.5 3 0 1 0.5-2 2.5-2 0.5zM134 113l-1.5-1-2-6-6-4 0-1 0-1 2.5-2 3-5 3-1.5 3 1.5 1 1-2 2-1 2-2.5 2 0 2 0.5 1 2 0 2 0.5 6 0 1 0.5 0 1-1 1.5-1-0.5-1 0-1.5 1 0 2 1 1-0.5 1-3-1-1 1zM144 102l-1 0-1.5-3 2-2-0.5-3 0-1 1 0 1.5 2 0.5 1-0.5 2 1 1 0 1zM154 6.5l-0.5-0.5 0.5-1 4 0 2 1-2 0.5zM159 28l-3.5-2-0.5-1 1-1 1 0 1-1.5 1 0 1 0.5 2-1.5 2.5 0.5-2.5 3-0.5 2zM193 105.5l-2-1.5 2 0 1 1zM197 122l-1 0-1.5-2-1-3 2.5-1 1-1.5 2-0.5 0 1-0.5 1zM205 99l-1-1 0.5-1 0.5-0.5 1 0.5 0.5 2zM208 124l-1-2 0.5-1 1.5-0.5 1 0.5 0 1-1 2zM222 101.5l-3-2.5 0.5-1 1.5-1.5 1 1.5 0.5 3zM224 109l0.5-1 1.5-1.5 1 0 0.5 1.5-1 1-1.5 0.5zM230 105l-3-1-0.5-1 0.5-1 2-1.5 1 1 0 2.5 1 1zM236 73.5l-2-1.5-0.5-2 1-2 1.5-1 1 0.5 0.5 0.5 1.5 3-1 1.5-1 1zM241 34.5l-2-2-2-0.5 0-1 2-2.5 3 1 1-0.5 2-3 1 0.5 2 3 0.5 2.5-0.5 1-2-1.5-2 0.5-2 2.5zM248 66.5l-3.5-2.5 0-1 1.5-1 1 0 1 1 1 3zM251 70.5l-1-1.5 1-1 1 1 0 1zM255 74l-0.5-1 0.5-1 2-1 1-1.5 6 1.5 2 1 0 1-2 1.5-3-1.5-3 1.5zM260 85l-3-2 2-1-1-3 1-1 3 1 1.5 2-2 4zM270 71l-0.5-1 1.5-0.5 1.5 0.5 0 1-0.5 0.5zM285 81.5l-3-2-1.5-3.5 0-2-1-1-1.5 0 0 3-1 1.5-1 0-1.5-2.5 0.5-1.5 1.5-2.5 1-3 1.5-1 1 0 2 1 0 2 2 3.5 2 0.5 1 1-1 3 0 3.5zM292 114l0-1 2-1.5 1.5 0.5 0.5 1-1 1.5-1 0.5zM301 126l-0.5-1 0-1-2.5-0.5-0.5-0.5 0-2-1.5-2 0.5-1 1.5-2 3 2 2 0 1 1 0 2 1 0.5 1 0 2-1 3 2.5 0 0.5-8 3zM326 135.5l-1-0.5-4-5-0.5-2-2.5-2 0-1 1-2 2-0.5 1-1.5 0-1-0.5-1-2.5-2.5-1-0.5-1 1-1 0-1.5-1 0.5-0.5 3-0.5 2-3 1 0 2 1.5 1 0 2-2 1-0.5 4 1 1 2 2.5 2 2 4-3 4-1 3-3.5 1-3 0.5-1.5 1.5-0.5 1 0.5 1 1.5 2 1 0 0 1zM340 101.5l-1-0.5 0.5-2 1.5-1 1 0.5 0.5 0.5 0 1-1.5 1.5zM344 113l-1-1 0.5-1 1.5 0 0.5 1 0 1-0.5 0.5zM349 136.5l-1.5-1.5-0.5-1 1-1.5 1-0.5 2 2 1.5 1 0 1-0.5 0.5-1 0.5zM51 27l-1.5-3-3.5-3-2 1-2-0.5-3 0-1.5-1.5-3-1-1-1 0.5-0.5 8 1.5 3-0.5 2 0.5 4 0.5 0.5 0.5-0.5 2 0 1.5 3.5 1.5-2.5 2zM79 67l-5-3.5-4-0.5-0.5-3-1.5 0.5-3 2-1-1-0.5-1.5 2.5-3 0.5-2-0.5-0.5-2 0-1-1 0-1.5 0.5-3-1-3-2.5-3-2-0.5-1 0-2 2.5-1 2.5-1-0.5-1-5-0.5-3 0.5-1 1-0.5 1 0.5 0 1-0.5 1 0.5 1 1.5 0 2.5-1.5 2-3.5 3 1 2.5-3 1.5-0.5 0.5 1.5-1 3 0 1 2.5 0.5 3-2.5 0.5-1-1-2 0.5-2 1 0.5 2 3 3 0 2.5-1.5-1-3 2.5-2 1.5 0 0.5 1 0 2 2 2.5 2 0.5 1 0.5 1 0.5 1-1.5 3 0 2-1.5 1 0 2 2.5 1 0 1 0 1-1.5 0.5-1 0-2 0.5-0.5 2-0.5 4 1.5 1 0 3-1.5 0.5-1 1.5-4 3-2 1 0 0.5 1 0 1-2.5 3 0 3-1 1-1 0-1 1-0.5 1 1.5 2-1 2-1 0-2-0.5-2-3-1-0.5-2 0.5-1 0.5 0.5 4-0.5 1-2 1-2 0.5-1 1-3 1.5-1 1-1 2.5-1 0.5-2 0-0.5-1 1.5-3 0.5-5-3.5-2 0-0.5-3 1.5-2-3-3.5 0 0 2 1.5 2 1 0.5 3-1.5 2.5 5-0.5 0.5-2 0.5-2 2.5-2.5 0.5-1 1 2 4 0.5 2-3 4-2.5 1 2.5 5 1 0.5 2-1 0.5 1.5-0.5 1-1 1-1-0.5zM88 59.5l-1-0.5-0.5-2 1.5-1 1 0 3 1 1 1-0.5 1zM99 59l-2-3-1.5-1-0.5-1 0-3.5 1-2 1 0 1 0.5 1.5 5 1.5 0.5 2-1 1 0 1 2.5-1 1.5-2 0.5zM106 52l-0.5 0 0-1 1.5-3 1 0 0.5 2zM103 86l-0.5-1 1.5-0.5 0.5 0.5-0.5 1.5zM113 139.5l-2-2.5-2.5-5-3.5-2 1-2 2.5-1 0-1-2.5-0.5-1-0.5 0.5-2 1.5-1 3-0.5 0.5 1.5 0 2 0.5 1 2 1.5 3-1 3 0 1.5 0.5 0.5 2 0 1.5-3 1.5-2-1.5-2-1 0.5 3.5 1.5 3 0 2-1 1zM170 63.5l-1-1.5 1-1 2-1 1 0.5 1 2.5zM210 117l-3-0.5-1 0.5-0.5-1 0.5-4 1-0.5 3-0.5 1 1 1 4-1 1zM229 79.5l-1.5-1.5 0-1 0.5-4 1-1 1.5 1 0.5 1 1 4 0 1-1 0.5zM234 9l-1 0 0-1 1-1 0.5 1zM239 16l-1-1 1-1 1.5 1-0.5 1zM241 25l-0.5-1 1.5-2-0.5-1 0.5-1 3 2.5 0.5 1.5-0.5 2zM247 55l1-2.5 1 0 0.5 0.5-0.5 1.5zM252 50.5l-1-1.5 0.5-1 0.5-0.5 1.5 0.5-0.5 2zM255 28.5l0-0.5 1-1.5 1 0 1.5 0.5-0.5 1.5-2 0.5zM264 67l-1 0-2-2-2-1-1-1 2-4 2-1.5-1-3.5 1-1.5 1-0.5 2 1 1 2.5 4 0 2 1.5 3 1 1 1-0.5 3 0.5 2-1 2-2 0.5-2-2-1-0.5-1 0.5-2 1.5zM279 54.5l-1.5-1.5 0.5-1 1-1 4 0 1 1-1 2.5zM283 68l-1-1 2-1 0.5 1-0.5 1zM291 61.5l0-1.5-1.5-3 0.5-1.5 1-0.5 1 0.5 1 1.5 0 1-2 2zM294 100.5l-0.5-0.5 0.5-2 1-1 1 0.5 0.5 1.5-1.5 1.5zM304 116.5l-0.5-2.5-1.5-1-4 0-1-1 0.5-2 1.5-2 4-0.5 1 1 1 3.5 0.5 3-0.5 1.5zM310 90l-2.5-1-0.5-1 1-1 3 1.5 2 0 0.5 0.5-1 1zM318.5 105l-1.5 0-1-1 0-1 1-1 1.5 1 0.5 1zM322 108l-2.5-3 2.5-1 2-2 1 0 1.5 2 1 2-3.5 2zM339 21l-0.5-1 2-1 0.5 1-0.5 1-0.5 0.5zM58 27.5l-1.5-2.5 1.5-1.5 1 0.5 0.5 2-0.5 1.5zM62 32l-1.5-1 0-1 3.5-1.5 1 0.5 0 1-1 2zM70 31l-1-1 1-0.5 1 0.5 0.5 1-0.5 0.5zM76 29l-1.5-1 0-3-0.5-0.5-4 0.5-4.5-2-2.5-0.5-2-0.5 1.5-5 3.5-0.5 2-1 6 1 2-0.5 5 1.5 1-0.5 1-2 1-1 0-1-1-2 0.5-1 0.5-0.5 2 0.5 1 0 1-1 0-1.5 1-0.5 4 0 3-0.5 1 1.5-0.5 1-1.5 0.5-1-0.5-1-0.5-1 1-1.5 2.5-2 2-2.5 4 1 1.5 3 1.5 0.5 1 0 1-5.5 0-2-1-2 0.5-1-2-1-0.5-1 0-2 1 1 0.5 1.5 2.5-1.5 5zM89 33.5l-1-1.5 1-1 2-1 1.5 1 0.5 1-1 1-1 0.5zM97 29.5l-1-2.5-2-1 0-1.5 1-1.5 1 1 0.5 2 1.5 2zM100 20.5l-3-2-2 0-2.5-0.5-1.5-2 0-1 1-1 1 0 2 2 2-1.5 3 1.5 1 1 0.5 2zM107 26.5l-0.5-0.5 0.5-1 1-1 0 1.5zM105 82l0-1 1-0.5 1 0.5-1 1.5zM108 114.5l-0.5-1.5 0.5-2 0.5 2zM111 105l-1-0.5-1-5-2-0.5-1.5-2-0.5-2 1-1 1 0 1 0.5 0.5 2.5 0.5 1 1-0.5 1.5-2.5 2.5-1 2 3 2 0 0.5 1-1.5 3-1 1-3 1zM114 118l0-1.5 1 0 1 1.5-1 0.5zM120 90l-0.5-1 0.5-1 1.5 1zM170 51.5l-1.5-1.5 0-2 1.5-2 2-0.5 1.5-2.5 1-2-2.5-0.5-2.5-1.5 1.5-2 0.5-4 0.5-1.5 1 0 1 2.5 1 1 1.5-2-1-2 0.5-0.5 1-0.5 1 0.5 1 2.5 3.5 3-1.5 4 2 3-1 0-4 5-1 0.5-1 0-2-2-1 0-1.5 4.5zM207 87l-1 0-1-2 1-1.5 1 0.5 0.5 1zM208 108l-0.5-1 0-1 1.5-2.5 1-0.5 1.5 0 0.5 1-1 3.5-1 1zM229 65.5l-3-3-0.5-3.5 0.5-0.5 1-0.5 2 0.5 3-0.5 1.5 1-0.5 3-3 3.5zM248 19l-1-2 0.5-1 1.5-1 2 0 3 1 1-0.5 1.5 0.5-0.5 1-2 0.5-3 1zM261 42l-1.5-1 0-1 0.5-1.5 1 0 1.5 1.5-0.5 1.5zM264 47.5l0-2 1-0.5 1.5 1-0.5 1.5-1 0.5zM273 51l0-1.5 1 0.5 0.5 1-0.5 1zM276 45l-3-1 0.5-1 3.5-0.5 0.5 1.5-0.5 1zM283 21l-1.5-2-3-2 2-3 0.5-3.5 3.5 1.5-0.5 2 1 0.5 1 0 1 0 0.5 1.5-0.5 2.5-1 1.5-2 1.5zM284 63.5l-3.5-2.5-0.5-1 2-0.5 3 0.5 1 1 0 1.5-1 1zM294 86l-0.5-2 3-5 1.5-1 1 2.5 3.5 1.5 0.5 1 0 1-3 0-1 1-3-1.5-2 1.5zM299 97.5l-2.5-2.5 0-2 0.5-1 1 0 2 1.5 0.5-0.5-0.5-2 0.5-2 2.5-2 1.5 4 0 2-1 1-1.5 3-2 1zM309 56l-1-1 0.5-2-1-2 0.5-1 1 0 1 1 1.5 3 0 1-0.5 1-1 0.5zM312 23l-0.5-1 0-1 1.5-0.5 1 0.5 0.5 1-0.5 1.5-1 0zM313 59.5l-1-0.5 1-2 1-0.5 1 0.5 0 1zM316 98l-1-2 0.5-2 1.5-0.5 1 0 0.5 1.5-1 2-0.5 2zM327 101l-2-1-2-3 0-1.5 1-0.5 3 2.5 2-0.5 2 1 0 1 0 1-3 1zM58 22.5l-3.5-2.5-1-2 0-2 0-1 2.5-2 1 0 1 0.5 1 2.5-0.5 3 1 3zM90 29.5l-0.5-1.5 0.5-0.5 2 0.5 0 1-1 0.5zM108 79.5l-0.5-2.5 0.5-0.5 1 0 1 0.5 0 1-1 1.5zM116 80l-1 0-2-2 1-1 4 0 1 1 0 1zM115 114l-1-0.5-0.5-1.5 0.5-1.5 1.5 1.5 0 1zM121 45l-1-1 2-3 2-1.5 1.5 1.5-0.5 2-1 1zM207 73l-2-2-2.5 0-1.5-3-0.5-2 1-4 0.5-1.5 1 0.5 0.5-1-0.5-1.5-2 1.5-1.5-1-1-1 3-3-0.5-3.5-1-1-4-1-2 0-1.5 0.5 4 4-1.5 2 2 3-1.5 3 2.5 2 0.5 1-1 1-1.5 0.5-7-1-2-2.5-5-1.5-1.5 0.5-1.5 3-4 1-0.5-1 0-1 0.5-1 1 0 0.5-1 0.5-3 7-2 4 0.5 3 1.5 3-2 0.5-1-2.5-1.5-2 0-2-0.5-0.5-1 1.5-2 1.5-1 0.5-1-1-1-2 0.5-4 1 0-0.5 5-3 0-4 0.5-2-1-2 1.5-2.5 1-0.5-0.5-1 0.5-1 2-2 1 0 0.5 2-3.5 2 0 1 3 4 1 3-1 2 1 2.5 2 0 5 1 2 2 3 1.5 2-0.5 1 0.5-0.5 2-1.5 1.5-4 0-1 0.5-0.5 1 0.5 0.5 1-0.5 1 0.5 2 1 1 3.5 2 2 1 0 2-3.5 1 0 1.5 1.5 0 2 0.5 1 2 1 0 1-1 1-4-1-1 0.5-0.5 3.5-0.5 1-2 0zM209 90l-1 0-0.5-1 0.5-1 1 1zM226 23.5l-2-2.5 1-1.5 1 0 1 2.5 0 1zM273 39.5l-2-1.5 3-2.5 2.5 0.5 0.5 1 0 1-1 1.5zM296 68.5l-0.5-2.5-1-2 0.5-2 1-1 2 0 1 0 1.5-2-0.5-0.5-2-0.5-1.5-1-1-5-0.5-0.5-2 0.5-2-0.5-2 1-1-0.5-1-1-1.5-4 0.5-1 1 0 2 1 2.5-1 1.5-2-0.5-2 3.5-1.5 1 0.5-3 2 0 1 2 2-0.5 2 1 1 5.5 3 1 1 0.5 2 0.5 4 0.5 2-2 5 1 1-0.5 0.5-1 0.5 0-1-1-0.5-2-0.5-2 2.5zM299 73.5l-0.5-0.5 0.5-1 1-1.5 3 0.5 1.5 1-2.5 0zM304 79l-3-0.5-2-1.5 1-1 2.5 0 2.5 2zM317 46.5l-3-0.5-0.5-1 1-1 2.5-3 1-1 1 0.5 0.5 1.5 0 3zM318 54.5l-1-1-0.5-1.5 0.5-1 2-1 1-3 3-1.5 2 0.5 0 1-1 1-3.5 2 0.5 2-0.5 1-1.5 1.5zM330 24l-1-1 1-2 1-0.5 0.5 0.5 0 1-0.5 1.5zM115 48.5l-1.5-1.5-1-2 0.5-1 2 0.5 2-0.5 1.5 1 0 1-0.5 1.5-1 0.5zM186 41l-1-1 0-1 2.5 0 0.5 2zM193 14l-2-0.5-1-2.5 0.5-1 2.5-1.5 1 0 1.5 1.5 0.5 2-1 2zM201 25l-2.5-3 0-1 0.5-1 4 1.5 0.5 0.5-0.5 2-1 1zM211 46.5l-1.5-1.5 0-1 1.5-1 1 0.5 0.5 0.5zM214 50.5l-0.5-1.5 0.5-1 3-1.5 1 0.5-2 3-1 0.5zM274 28.5l-2-2.5-1 0.5-1 0 0-3.5-1-2 1.5-2 0.5-4 1-0.5 2-1 1 1 1 2.5-0.5 1-3 1 0 1 4 6-0.5 2-1 1zM294 37l0-3 1-1 1 3-1 1zM296 24l-0.5-1 0-1-2-1-0.5-1 0-0.5 2-0.5 1-0.5 0.5-2.5-1.5-1.5-2 0.5-0.5-1 0.5-1.5 3 1.5 2 0.5 1 0.5 2.5 3-0.5 2-2 1 0.5 1-0.5 2-1 0.5zM299 28l0.5-1 1.5-1 1.5 1-0.5 1zM304 39l-1-1 0.5-1 0.5-0.5 1 1 0.5 1.5zM309 34.5l-0.5-1.5 0.5-1 1 0 0.5 1-0.5 2zM318 38.5l-0.5-1.5 3.5-4 1.5 0 0.5 2-2 2.5-2 1.5zM202 10.5l-2-1.5-2.5-1 0.5-1 4 0.5 1.5 0.5zM215 23.5l-1-1.5 1-1 1 0.5 0 1.5 0 0.5zM319 19l-2-2-2 0 2-2 5-2.5 3-0.5 1 1-1 1.5-2 1.5-2 2.5-1 0.5zM322 127l1 0.5 4-1.5 3-0.5 1-0.5 0.5-2-1.5-2-1-0.5-3 2-4 0.5-0.5 1zM203.5 66l1.5 0.5 0.5-0.5-1.5-2-1 0-0.5 1zM265 64l1 0 1-1 0-1-1-1-1 1-0.5 1zM71.5 56l1.5 0 3-1 1.5-1 0-1-0.5-0.5-2 1.5-1-0.5-2-1.5-0.5 0-1 2 0 1zM76 44l1 1 1-1-1-2.5-1-0.5-0.5 1z"/>
<path fill="#f6e7df" d="M118.5 141l1.5 2.5 0.5-0.5 0-2-1.5-0.5zM106 135.5l3 2 0-0.5 0-1-1.5-1 0.5-2-1-1-1.5 0-2.5 2 0 2 1 0zM352 133l3 2 1-0.5 2.5-2.5-2.5-3.5-1 0.5-3 3zM326 132l1 0.5 3.5-2.5-0.5-1-4 0.5-0.5 1.5zM123 129l2-0.5 3.5-3.5 0.5-2-2-2.5-3 0.5-0.5 1-1.5 5 0 1zM201 124.5l3 3 2-1 1-1.5-1-1.5-1-0.5-2 0-0.5-1 0-2 2-6 0-1-0.5-1-1 0.5-3 3.5-2 5 0 2 1 1 1 0.5zM112 125l1 1 7.5-1 0.5-1-2.5-2 1.5-5-0.5-4-1.5-1.5-1.5 3.5 0 1 0.5 2-0.5 1-1.5 0.5-1.5-0.5-1-1 0-4-1.5-3 0-1 1-1-0.5-1-2.5-2-0.5-5-3.5-2-1-1-1-3-1-2 1-1.5 2 1 3 0.5 2 1 3-1 2-1.5 2 0 0.5-0.5 0-2 1.5-3-1-2 0.5-2-1-1-1 0-1 1 1.5 2 0.5 0-2.5 1-1-0.5-1-1.5 1.5-2-0.5-1-2-1.5-1 0-2 2.5-1 2-2 2-1 2-2 1.5-4 1.5-1 1-0.5 6 0.5 1.5 2.5 1.5 0 3 1 1 0.5 2 2 2.5 2 1 4 0 1 0.5 0 1-1 1 0 2-1 1.5-3 1.5-0.5 1 0 1 1 1 3.5 0 1 1zM114 90l-3.5-1 0.5-1 1.5-1 1.5 0 1 1 0 1zM353.5 125l1.5 1 0.5-1-0.5-1-1-0.5-0.5 0.5zM314 124l2 0.5 1 0 3-3.5 0.5-1-1-1-1.5-0.5-3-0.5-3-1.5-1 0.5-0.5 1 0 1zM328 124l1 0 0.5-1-0.5-1-1.5 1zM295 122l1 0 0-1.5-1-1-2 0.5 1 0.5zM206 120l3-1 1 0.5 1 1 1-0.5 0.5-1-0.5-1-2 0.5-2-1-1 0.5-1 1zM225 117l1 0.5 0.5-1.5-0.5-4-1 0 0.5 2-1.5 2zM301 117l1 0 0.5-1-0.5-1.5-1-0.5-1 0-0.5 1 0 1zM121.5 116l1.5 0 3.5-1-0.5-1-2 0-2 1zM213.5 116l0.5 0.5 1 0 2.5-2.5 0-3 0.5-1 2.5-2 1.5-2.5 1 0 1 0.5 1-0.5 0-1-2 0-3-2.5-2 0-0.5-1 0-2 0.5-1 2.5-2 1-3 2.5-2 0-3 3-1.5 2 0 1-0.5 4-4 2-6-0.5-1-1-1-0.5-0.5-1 0.5-0.5 2 0.5 3-1 1-2 1-3.5-2-0.5-1 1-5-2.5-6 0.5-0.5 1-0.5 1.5 1 1 3 1 1 1.5 0.5 1 0 0.5-1.5-0.5-2.5 5-1.5 1-1 1-2 0-1-1-1-3-1-3 5 0 2-1 0.5-2-0.5-3.5-4-1.5-4-1.5-1-0.5-1 0.5-1 2.5-1 3 1 2-2.5 2-0.5-0.5 3 0.5 1 2 1 5-0.5 0.5-0.5 0.5-2 3 0.5 0.5-0.5 0.5-2-2-3 0-1 2-2.5 3-1.5 1 0 2 1 4 0.5 2-1 1 0.5-0.5 2-2.5 2-1 2-2.5 3-2.5 2-4 0-1 0.5-3.5 3.5-0.5 1 0.5 1 1.5 1 1-1 4-2.5 2 0.5 1 1 0.5 2 4.5 6.5 2-0.5 2-2.5 3 2 5 1.5 1-0.5 3-2 3-0.5-1-0.5-1-2-1 0-4 2.5-3 0.5-3-2.5-2-1-1-2 1.5-3-0.5-3 0.5-1 1.5-0.5 0-0.5 2.5-6 0-3-0.5-1.5-3-2-1 0-2 0.5-1.5-1 3.5-2 2-2.5 1 0 2.5 2.5 0.5 3 2 0.5 2-0.5 0 3 1 2 1 0 2-0.5 1 0.5 2 1 2 2 2-1 3 0 2-1 0-1-1-1-2-0.5-2 1-1 0-2-1-3-1-1-1-0.5-1.5 0.5-2-2-1.5-0.5-1.5 0.5-1.5 2.5-1.5 0-1-1-2 0.5-3-2-0.5-1-1 0-4.5-1-1.5-1.5-0.5-0.5-2-3-3.5-2 1-2-1-2 2.5-7 2-1 1.5-2 1.5-0.5 2 2.5 3 0.5 5-0.5 1-1 0.5-2-1.5-1 0-3 3-1 0-2-2.5-2-0.5-1-1 0-1 2-3 1-4-0.5-3 0.5-2-0.5-1-2-2-0.5-1 0.5-2 0.5 0 1-2-1-2-1 0-1.5 2-0.5 1.5 1.5 0.5-2.5 2-0.5 1 0.5 1-0.5 1-2.5 0.5-2.5 1.5 0 1 1 2 0 1-4 3-1.5 3-1.5-1-0.5-3-2-0.5-2.5 4.5 0.5 2-0.5 1-0.5 0.5-3.5-0.5-0.5 1 1.5 2-1.5 0.5-3 1-1 0-1.5-3.5 0-1 4.5-3 1-2.5 1 0.5 1 1.5 1.5-0.5 0-3-3.5-3-3 0-1-1.5-1-0.5-2 1-1 2-0.5 2 2.5 1.5 0.5 0.5-0.5 1-2 2 0 1-3-1.5-1.5 1.5-0.5 2 2.5 3 0 1-1.5 1-1 1 0 2 2 1 4-0.5 3-1 6 1 0.5 0.5-1.5 3 0 1 1 0 3-1.5 1 0 1 1.5-0.5 1-2.5 3.5-1 1-1 0-1-1-1 0.5 0 2-2 3-1.5 3 0.5 1 1 1 0.5 0 2.5-2.5 1 0 4 3 1-0.5 1 0.5 1.5 1.5 0.5 1-4 3.5-2 0.5-2-1-1 0-0.5 1 0 3-0.5 0.5-3 0.5-2 1-3-1 0 2-1 1-1 0.5-3-1.5-1-1 1-1 2.5-1-1-3-1.5-2.5-2 0.5-3-0.5-5 0-1-0.5-1.5-2-1.5-0.5-3 4-2 0.5-3-1-3 1-2-1 1-1 0-1.5-1 0-2 1.5-2-0.5-0.5 0.5-1.5 0-0.5-2-0.5-1-1-0.5-2 1.5-1.5 4-0.5 6-1 2.5-2 1.5-0.5 1 0 1 3.5 2 3 0.5 0.5-1.5 3.5-2.5 0.5 4.5 1 2 3 3 1.5 0.5 2 0 1-0.5 3 0.5 3-1 1-0.5 1-2.5 2 0 2 1.5 0.5 1-2.5 2 0 5-1.5 4 0 4 1.5 3 1 1.5 1 0 0.5-1.5 2.5-2.5 4 0 1 1 0.5 1.5-1.5 2.5-2 0-2-1.5-1 0-1 1-1 0 0.5 1 3 4 2.5 2 4.5-2-0.5-1-2-1 0-1 0-0.5 3.5-1.5 0.5-1 2-0.5 1 0.5 1 1.5 1 0.5 1-1 0-2 0.5-1 0.5-2-1-1-4.5-3 2.5-3 1-0.5 1 0.5 2 4 4 2.5 1 1.5 0 1-1 3 0 2 3 1 0.5 1-2.5 3zM220 70.5l0-1.5 1-0.5 1.5 0.5 0.5 1-2 1zM235 42l-1-1 1-1.5 1 0.5 0 1zM240 49l-0.5-2 1-6 0-1-1-1 0-1 1.5-0.5 1 1.5 1 0.5 4-2 2 0 2 0.5 1 2-0.5 1-1.5 0.5-4-0.5 0 2-1 1-3 1zM254 30.5l-1-3.5-1.5-1 0.5-1 1-0.5 2 1 3 0 1 0.5 0.5 2-1 1-3.5 2zM250 61l-1-1 0.5-2 1.5-0.5 1 0.5 1 1-0.5 1zM260 25l0-1 1-0.5 2.5 0.5-0.5 1.5-1 0zM217 42.5l-1.5-0.5 1-2 0.5-0.5 1 0.5 0.5 1-0.5 1zM170 78l-2.5 0-0.5-2.5-2-1.5 0.5-2 1.5-1 1 0 1 2.5 2 0.5 1 1-1 2zM179 85l-0.5-1 1.5-3 0-3 1 0.5 0.5 2.5-1 3-0.5 1zM192 75.5l-0.5-0.5-0.5-1 1-1 1 0.5 0 1.5zM197 96l-0.5-1 0-4-2-2 0.5-4.5 2.5 2.5 0 3 1 2 0 4-0.5 0.5zM208 91l-2-1-2.5-5 0.5-2 3-1 1 1 1 4 1 2 0.5 2-0.5 0.5zM222 44l0-1.5 1-0.5 1 0 0 1-1 1zM258 22l-1-1 1-0.5 1 0.5zM196 82.5l0.5-1.5 0.5-0.5 1 0 1 0.5-1 1.5-1 0zM311 114l2 0.5 4-1 2-2.5 2-0.5 1 0 2 1.5 1.5-3-1.5 0-2 0.5-3-3.5-2 0-2-1-1 0-2 4-1 0.5-2-4.5 1.5-1 0-2 1-1 0-1-0.5 0-1 1-1 1-1-0.5-0.5-0.5 0.5-2-2-1.5-1 0-0.5 1.5 1 3 0 2-1 3 0.5 2 2 4 2-0.5zM128.5 111l1.5 1.5 0.5-0.5 0.5-1 0-1-2-2.5-4-3-3 2.5-4 0-1.5 2 0 1 0.5 1 2-1.5 2 1.5 2 0 2-1 0.5-2 1.5-0.5 1 1.5zM347 110l0 2.5 1 0 0.5-1.5-0.5-0.5zM228 111l1 0 1.5-1 0-1-1.5-1-1 2zM292 111l2.5-1 0.5-0.5 1 0 1-0.5-1-1-3 1.5-1 0.5zM355.5 108l2.5 1.5 2 0.5 0-4.5-2-0.5-1.5 1zM114 104l2 0.5 1-0.5 2-1 0.5-1 0.5-2.5 5-1.5 4-5 4-3-0.5-1-2.5-1.5-0.5-0.5 1-2 0-1-2.5-2.5-1-0.5-1 1 0 2-1.5 2 1 3-0.5 2-1 0.5-2 0-5 2.5-0.5 1 0.5 0.5 1-0.5 1 1 0.5 3-1.5 1.5-1 2zM136.5 102l3.5 0.5 1-0.5-3-2 3.5-3 0.5-2-2-4.5-5-1.5-0.5 1 0.5 1 1 1 2 0 0.5 1-0.5 1-2.5 2-0.5 1 0 2.5-1 0.5 0.5 1zM319 99l3 3.5 1-1.5 0-2-3-3-1 1zM291 100l1 0 1-2 0-1-1 0-1.5 1 0 1zM337 99l1 0 1-1.5 1.5-0.5 0-1-2.5-0.5-1.5 0.5-1 1 0.5 1zM312 95l1 0 0-3-1-0.5-2.5 0.5zM328.5 94l1.5 2 1 0 1-3-1-0.5-1 0zM290 91l3 4 1 0 1-1.5 0.5-2.5 2-2-1.5-4-0.5 1 0 1-1.5 1-1-0.5-1-1.5-1-0.5-2 1-2 1.5-0.5 0-0.5-1-0.5-3-1-1-4-1 0-4-1.5-1.5-5.5 7.5 0 1 0.5 1.5 1 0 1 0 1 0.5 0.5 4 0.5 1 2 0.5 2 1.5 2-2 2 0.5zM325 93l1 1.5 1 0.5 0.5-1-1.5-1.5zM318.5 92l1.5 0 0-1.5-1 0-1.5 0.5zM305 84l1 1 2.5-2 0-1-1.5-2-1 0-1.5 1zM102 83l1.5 0-0.5-1.5-1-1-0.5 0.5zM287.5 80l0.5 1 2-1 0.5-1-1.5-2.5-1 0-0.5 0.5zM103.5 79l0.5 0.5 2 0 0.5-1.5-0.5-1-1 0zM255.5 79l0.5 0.5 3-3 2 0.5 1 0 0.5-2-0.5-0.5-1-0.5-2 2-3.5 0-1 1zM253 76l0.5-1-0.5-3-1 0-0.5 1zM92 72.5l2 3.5 1-0.5 2.5-1.5 0-1-5-7-1.5-0.5-1 0-1.5 1.5-0.5 2 0.5 2 0 2 1.5 0.5zM83.5 74l0.5 0.5 1 0 1-1.5-0.5-3-0.5-1-4-1-3 0-5-4-4 0.5-1 0.5-1 1-0.5 1 0.5 1 2 1.5 3-2.5 1 1-0.5 2 1.5 0.5 1 3 1 0 4-3 2-0.5 2 2zM106.5 72l4.5 1 1 0 1-1 0-1-1-1.5-3-1-1 0-1.5 1.5-0.5 1zM283 70l2 2.5 2 0 1-0.5 0.5-2 0.5-1 1 0 1 1.5 1 0.5 2.5-2-0.5-2-1.5-3-0.5-0.5-2-0.5-1-1 0.5-2-1-2 0-1 1.5-3 2 0 1.5 3 0 2 0.5 1 2-1-1-5.5-3 0-1-1-2 1-3-1.5-1 1-1 2.5-1 0.5-2-0.5-1 0.5-0.5 1-0.5 1 1 0.5 6 0.5 1 1 0.5 3-2 2 0 1 1.5 3-1 0.5-2 0zM99.5 70l0.5 0.5 1 0 1.5-2.5-0.5-2-0.5-1 0.5-3-1-2.5-1 1-1 2.5-0.5 4zM273 68l2 2.5 0.5-0.5-0.5-2zM86 63l2 0.5 4-1 3 1 1-0.5 1.5-3-0.5-3-2-1-0.5 1 0 3-0.5 0.5-5 1-2-0.5-1 0.5zM199 63l1-1 0-1-1-0.5-1 0.5 0 1zM81 62l1 1 1-0.5 1-1.5 1-1 0-1.5-1-1-3 2.5zM165.5 61l1.5 1.5 1-0.5 2-2.5 2-0.5 2 1 1 2 1-0.5 0-3.5-3-4-2.5-1-2 0 1 2-3.5 5zM317 58l1 0.5 1 0 1.5-1.5 1.5-2-1-1-2 1-2 0.5-0.5-0.5-0.5-3-1.5-2 1-1 0-1-2.5-1.5-4-3.5-1 0-1 1-1 0 1-2-0.5-1-5.5-2-1 0.5-3.5 3.5 0 1 1.5 1.5 4-0.5 0 1-2 2-0.5 1 1.5 1 2 0.5 1.5 3.5 2.5 3.5 1 0 0.5-0.5-1-2 0-2-1.5-3 1-0.5 2-0.5 2.5 2 1.5 4.5 3 0zM177 57l2 0.5 3-1.5 1-1-0.5-1-2-1 0-1 1.5-1 0.5-3 2.5-1 3-2 0-1-0.5-1-1.5 0-2 1.5-2 0.5-1 2-3 2.5-3 0.5-0.5 1-1 2 2.5 2zM59 56l1 0.5 1.5-0.5 0-5-0.5-1-1.5 1-1.5 3zM185.5 56l3.5 1 0.5-1-3.5-1-1 0zM272 56l2 1 3-0.5 0-1.5-1-0.5-2 0.5-1.5-1-1.5-3-0.5 2 1 1 0 1zM86 54l3-0.5 4 1 1-1.5 0-1-1-2-1 0-2 1-1-1 1-2 0-2-2-0.5-1 0-1 1.5 0 2-1.5 2zM196 52l1 0.5 0.5-0.5-0.5-1-1-0.5-0.5 0.5zM103 51l1 0 2-3 0-2-2-2.5-1-0.5-1 0.5-1 2.5-0.5-1-1.5-1-1.5 1-0.5 1 0.5 1 2.5 2 1-0.5 1 0.5zM247.5 51l2.5 0.5 0.5-0.5-0.5-3.5-1 0-3 2.5zM55 50l1 0.5 1.5-0.5 0-2 1.5-2 0-1-1-1-1 0-1 1zM205 50l1 0.5 4-0.5 0.5 0 0.5-1-2-2.5-1 0-1 1-1 0-0.5-2.5-1.5-1-1 1 1 4zM110 45l2-2.5 3 1 2-1.5 2.5 0 0.5-1-1-2 1.5-2 0-3-0.5-0.5-1-0.5-4 5.5-1 0.5-3 0.5-0.5 1.5-0.5 1-2-0.5-2-1-1 0.5 0 1 2 0.5zM285 44.5l5 1 1-0.5 0.5-1-1-3 2-1 0.5-1-1-1-2-0.5 0-1.5 2 0 0.5-1 0-2 0.5-1 3.5-2 0-4-1.5-1-2-0.5-1.5-1.5 0-1 0.5-3 1-1 2 0 0.5-1-0.5-1.5-2 1-1.5-0.5 0-4-0.5-1-2 0-1.5 1 2 4-3.5 6-2 0.5-1 0-2-1-1 0-3 0.5-1 1 0.5 1 0.5 0.5 1.5 0.5 0.5 1-1 0.5-2 4.5 0.5 2 1.5 1 0.5 1-0.5 5 3 1.5 3-0.5 1 1zM312.5 42l1.5 0.5 2-1.5 0.5-2-0.5-2 2.5-3-0.5-0.5-1 1-2 0-2-2.5-1 0.5-0.5 1.5 0.5 3-0.5 3zM90 41l1 1 0.5-2-0.5-1-1 0.5zM322 39l4.5 2 0.5-1-0.5-4 0-1 1-1-2 0 0.5 1-2 0.5-2 2.5zM333.5 39l3.5 2.5 2-0.5 1-1 1-1.5 2-0.5 2-2 0.5-1 0-1-1.5-1-0.5-2 0.5-1 2-2 2 4.5 1 1 4-1.5 0.5-1-0.5-1-2 0-1-0.5-0.5-0.5-1-2-2.5-0.5-1.5-2.5 1-2-0.5-1-1 1-0.5 2-2.5 1-1 0-1-2-2.5-3 0.5-1 2-1 1-1-1-1-2-0.5-7 0-3 1-2 2.5-1 0.5-2 0-2.5 1.5 0 4-0.5 1-2 1.5-2 0-1 0.5-1.5 2 0.5 1 2 0.5 1-0.5 1-2 1-0.5 2 2.5 1 0.5 3 0 3-1.5 1 1 1 3 3 1.5zM336 31.5l-1-3 1 0 1 0 2 1.5-1 1zM340 38l-2-0.5-1-1.5 1-2 2-0.5 1 0.5 0 4zM334 26l-4 0-2.5-3 2-3 0.5-0.5 1-0.5 1.5 1 0 4 0.5 1.5zM56 39l1 0 1-1 0.5-3-2.5 0-1.5 1zM45.5 38l1.5 1 2-0.5 2-1.5 0-1-2.5-3 0-2 1-2 0-1-0.5-3-2-1.5-1 0-1.5 4.5 1.5 3 0 4-1.5 1zM68 38l1 0 1.5-2 0-2-0.5-1.5-1 0-0.5 0.5zM106 36l1 2.5 2-0.5 0.5-1-0.5-1-1-1-1.5 0zM193 36.5l2 2 1-0.5 1-1.5 0.5-2.5-0.5-1-1 0-1 1.5-2 0.5-0.5 1zM297.5 38l2.5 0.5 0.5-0.5 0-1-1.5-2.5-1-0.5-0.5 0 0.5 2zM307 38l1-0.5 0.5-0.5-1.5-2 0-1 0.5-2 0.5-1 1.5-1 0-1-0.5-2 2-0.5 1-1.5-1-2-1-2 1.5-1 2.5-1 0-3-1-0.5-3 0-2-1-2-0.5-1 0.5 0 2.5-2 2-0.5 3-1.5 1-1 1 1 1 2.5 1 1.5 2 0 1-1 1-4-0.5-1.5 0.5-1 1 1.5 1 0.5 2 5.5 1zM184 37l2 0.5 1-0.5 2-4 2.5-2 2.5-3.5 2 0 3 1.5 1-1 0.5-1 0-1-3-3-0.5-3-2-1-1.5 1 0 1 1 2-3.5 3-1.5 0-1.5-2-2 0.5-2 1.5-1 2-0.5 2 2 4-0.5 2zM168.5 36l0.5 0.5 1 0 0.5-1.5-0.5-1.5-1 0.5zM60 35l2 1 1 0 1-2-4-1.5-1 1.5zM40 33l2 0-1.5-3 0-4 1.5-3-1-0.5-3 2-1 1.5 1.5 6zM74.5 31l0.5 1.5 1 0 0-1.5-1-0.5zM19 31l1 1 0.5-1 0.5-1.5 1 0 3 1.5 2-1 2-2-0.5-1-0.5-0.5-2 0-0.5-1.5 0-1 1.5-2.5 1-0.5 2 0.5 1.5-1.5 0.5-2-0.5-1-2.5-0.5-1 1-1 2-1 0.5-2-1.5-2 0.5-1 1 1 3-0.5 1-1.5 1-2-2-2-0.5-0.5-0.5 1.5-3-1-1.5-1 0-2 1-2 2.5-3 0-3 2-2 3.5-0.5 0.5 2.5 1 2-2.5 1-0.5 3 1.5 3 0 5 1.5 0.5 1zM53 30l3 2 2.5-1-1-2-1.5-2.5-1 0-1.5 1.5zM85 29l1 3 1.5-2 0.5-5-1-1-3 0.5-0.5 1.5-0.5 1zM72 29l1 0 0.5-1 0-2-0.5-0.5-5 0.5 0.5 1zM101.5 29l0.5 0 3-1-0.5-1 0.5-1 2-3 1-0.5 1 0.5 0.5 1-1 3-1 2 1.5 1 3-1 1-1 0.5-3 4-3 0.5-1-0.5-1-2.5-1.5-3-1-4 2-2-1.5-3 0.5-3 3.5-1-0.5-2-1.5-1 0-1 1 2.5 2 0.5 1.5 2 1.5zM126 27l3 2.5 0.5-0.5-2-2 0-1-2.5-2.5-0.5 0.5zM61 28l1.5 0 1.5-2.5 2-0.5-0.5-1-2.5 0-2 1-0.5 2zM139.5 27l0.5 0.5 1-0.5 2-0.5 0.5-0.5-2.5-0.5zM164 25l0 2 1 0 1-1 0.5-2-0.5-0.5-1 0zM218.5 24l3.5 1 2-1-1-2.5-1-1-2-1-4-0.5-2-1.5-6-0.5-1.5 1 1.5 2 5 1 3-2 1.5 4zM33.5 23l0.5 0.5 2-0.5 1-1-0.5-1-1.5-0.5-1 0.5zM316 23l1-3-0.5-1-0.5 0-1 1 1 1zM91 20.5l1 2 1 0 1.5-1.5-0.5-1-2-1-2-2.5-1-0.5-2 2 0.5 1zM123.5 21l0.5 1 2-0.5 0.5-0.5-0.5-0.5-1 0-0.5-0.5 0.5-1-4-4-9 0.5-0.5 0.5 3.5 2 6 0zM202 20l1 0 0.5-1 0-1-2.5-1-1.5 1 0.5 1zM267 18l1 0.5 1 0 1-2.5-2-3-1-0.5-1 2.5zM241.5 17l0.5 1 1 0 1-1.5 0.5-0.5-1-2 1.5-1 0.5-1 0-1-0.5-3-2-2-2-0.5-2 0-2.5 1.5 2 2 1 3 3 3zM61.5 16l3.5-0.5 0.5-0.5 0-1-1.5-1-2 0-2 0.5 0 1.5zM277 16l1 0 1-1 0.5-2-1-3-1.5-1-1 0.5-1.5 1.5-0.5 1 2 1zM70 15l4 0 1.5-2-0.5-1-1-1-1 0-4.5 1 0 2zM197 15l3 0.5 2.5-1.5 0.5-1-3-1.5-1-1.5-1 0-0.5 1 1 1-1.5 2zM300.5 15l1.5 1 1.5-1 0-1-1.5-0.5-2 0.5zM99 14l3 0.5 4-1 0.5-0.5-1-1 1.5-1.5 1 0 1-1 2 0.5 1-1 2-0.5 1-1 2-0.5-2-1.5-2-1-5 1.5-4 0-4-1-2 0.5-0.5 0.5 0.5 1 1 1 0 1-2 2 0.5 1zM163.5 12l0.5 2.5 0.5-0.5 2-3-1.5-0.5-1 1zM204.5 12l1.5 0.5 1 0 1.5-1.5 0-1-1.5-1.5-1.5 1.5zM229 10l2 1.5 1-1.5-1-3-1 0.5-1 1.5zM283 8.5l1 1 1.5-0.5-2.5-1-1-1.5-1-0.5-1 0.5-0.5 0.5 0.5 1 1 0.5zM120.5 6l3.5 0.5 5-0.5-1-1-1-0.5-4 0.5zM136 5l2 0.5 4 0 3 0 1.5-0.5-1.5-1-8-0.5-2 0.5z"/>
<path fill="#f3d2c3" d="M355 133l1-1 0-1.5-1.5 0.5zM124.5 126l1.5 0.5 2-2.5 0-1-1-1-1-0.5-1 0.5-1 2zM112.5 121l0.5 2.5 2 0 1-2.5-3-0.5zM315.5 123l1.5 0 1-1 0.5-1-0.5-1-1.5 0-1 2zM199 122l1 0.5 1-1-0.5-2.5-0.5 0-0.5 1-0.5 1zM201.5 116l-0.5 3 1.5-2 0.5-2zM193 112l1 0 1-1-1-2-2-0.5-0.5 0.5 0 1zM312.5 112l0.5 0.5 1.5-0.5 0-3 1-2-0.5-0.5-1 1.5zM307.5 111l1.5 0 1-2-1-2-2-1-1 1-0.5 1 1 2zM317.5 109l1.5 0 0.5-1-1.5-1-1 1zM214 108l1 0 2-1 2 0.5 1-1.5-0.5-2-1.5-0.5-3 1-1 1-1 1.5zM357.5 108l2.5 0.5 0-1.5-2-0.5-1 0.5zM107 106l0.5-1 0-3-0.5-1-1 0-1 1 0.5 3 0.5 1zM198 104l5 0.5 1.5-1.5 0.5-1-2-1.5-1-0.5-2 0.5-2-1.5-1 0-2-3 0-4.5-1-0.5-3 0-0.5-1 2.5-1.5 0.5-0.5 0.5-1-1-1-1 0-2 2.5-2 1 0 2.5 3.5 5-0.5 2 1 2.5 1 0.5 3-1zM215 103l1-1 0.5-3-1.5-3 1-1.5 1-0.5 2 2 1.5-4 1.5-1.5 2-3.5 1.5-1 1.5-1.5 2.5-0.5 0.5-1-0.5-1-1.5-1-2-0.5-1-1 0.5-6.5-1.5-1.5-5 0.5-3 2.5-2-1-4-0.5-1.5 1-1.5 2 1.5 1 1 1-1.5 2 1.5 4 0 3 1.5 2 2 2-0.5 1-1.5 0.5-3 0.5 0 4 1 1.5 3 1.5 2 2.5zM218 89l-0.5-1 0.5-1 1 1 0 1zM220 83l-2.5-1 0.5-1 1-0.5 2 1.5 0 1zM99 97l2 1.5 1 0 0.5-1.5 0-1-2-2-0.5-1.5-1 0.5 0 3zM136 98l1 0.5 2.5-1.5 1-2-0.5-1-3.5 2-0.5 1zM120.5 97l1.5 1 2-1 0-1-3-2-1 1zM200.5 93l0.5 2 1 0 1-1 1.5-3-0.5-0.5-1 0-2 1.5zM104.5 90l1.5 1.5 1.5-0.5 1-2 2.5-2.5 2-1 0.5-0.5-1-2 0.5-2-0.5-1-1.5 0-1 1-1 3-2 1.5-2.5 3.5zM127.5 91l0.5 0.5 2-0.5 1-1-1-1-2 0zM279 91l2 0 2-1 2 1 0.5-1-2-3 0.5-2-0.5-1-3.5 0-1-3 0.5-2-0.5-1-0.5 2-1.5 1-1.5 2 0.5 1 2.5 1 0 2 0 3zM292 91l1 0.5 0.5-0.5 0.5-1-0.5-1-1.5 0zM288 89l0 1.5 1-0.5 1.5-2-1.5 0zM197.5 85l2.5 2.5 2 0 1-0.5-0.5-3-1-2-0.5-1 1-1-1-1-0.5 1 0 1-0.5 1-2.5 2zM175.5 86l2 0 0-2 1-3-0.5-3 1-1.5 2 0 2.5 1.5 0.5 1 0 3 1 1 2-0.5 1-1.5-0.5-2 0.5-1.5 1 0 3 2.5 2 0 4-1 1-1 0-1-2.5-2 0-1 1.5-2 1.5-1 0.5-1-1-2-5-1-2 1-4-0.5-1 0-1-1.5-1 0.5 0 1 1 1 3 4 3-3 2.5 0.5 1 1 0 4-1.5 1.5-1 0.5-3-1-1-1 0-1.5-1 0-1 1.5-2 0.5-2-0.5-2-2-4-0.5-4 0-0.5 0.5 0.5 1 2 2-1 1-2 1-1 2-2 0 0 1 1 1 0 2 2 1 2 0zM127.5 85l0.5 0.5 1-0.5 0-1-1-1-1 0.5zM164 77l1 1 1-1 0-1-1-0.5zM94 74l1 0.5 1-0.5 0-1-2-1.5-0.5 1.5zM161.5 71l0.5 3 1-0.5 2.5-2.5 1.5-1 2 0 2 1.5 1 0 0-1.5-3-2.5-4-1-1-0.5 0-1-0.5 1-2 3zM181 72l1 0.5 1-0.5 0.5-1-0.5-1.5-2-0.5-1 1zM74.5 69l1.5 3 1 0 2-2-0.5-1-3.5-1.5zM109 71l2 1 1-1-2-1-1 0.5zM253.5 68l1.5 1 1-0.5 0.5-1.5-2-2 0-1 1.5-2-1-0.5-4 1.5zM67.5 67l1.5 1 1-1 0-1-1 0-1 0.5zM287.5 66l0.5 0.5 2-0.5 1-1-2-0.5-1.5 0.5zM233.5 65l1.5 0.5 1.5-0.5 1-1-1-2-0.5-0.5-1 0-1.5 2.5zM222 63l2 0.5 0-2.5-1-1-2-0.5-0.5 1.5zM169 58l1 0.5 4-0.5-2-2.5-1 0zM211.5 58l0.5 0.5 4-0.5-0.5-2-1.5-0.5-1 0-1.5 1.5zM253.5 57l1.5 0 0.5-1-1.5-1.5-0.5 0.5-0.5 1zM284.5 57l0.5 0.5 2-0.5 1-2 0-1-1-0.5-1 0.5zM233 56l1 0.5 3-0.5 3-4-1.5-3 0-5-0.5-0.5-3 0-2.5-1.5 0-1 3-4 1-3-1.5-2 0-1 2-3 1-4-1-1.5-1 0-2 1-1-0.5-0.5-1 0.5-2-1-1-2 0.5-1.5 1.5 2 2 1 4-0.5 1-3.5 2-0.5 3-1.5 2 0 4 1.5 0.5 1-0.5-0.5 2 1 2 0 1-1.5 0.5-2-0.5-2 2.5-1 0-1.5-2.5 0-2 3.5-2 0-1-2-1-2 0-1 1 0.5 3-1 2 1.5 3-2.5 4 0.5 1 1 0.5 3 0 2 1.5 3 0.5 1-0.5 2-2 2-1 2 1 0.5 1-1.5 2zM225 50.5l-0.5-1.5 0.5-1 2-1 1 0.5 0.5 1.5-1 1-1.5 0.5zM314 54l1-0.5 0-1-1 0-1 0.5zM176 53l1 1 1-1-1-1.5zM258.5 52l0.5 2 1-2-1-0.5zM254.5 52l0.5 1 1-0.5 0.5-0.5 0.5-1-1-1-1 0zM103.5 48l0.5 1.5 1-1.5-1-1.5zM311 49l2 0.5 1-0.5 0-1-5-2-1 0.5-1 0.5-2-1.5-2 1.5 0.5 1 0.5 0 1 0.5 1.5-0.5 0.5-0.5 1 0zM259 48l1 0.5 1-0.5 0-1-0.5-1-1.5 0-0.5 1zM288.5 44l1.5 0-1-2 0.5-3-1-3 0-1 2-1 0.5-2 3.5-2 0.5-2-0.5-1-1.5-0.5-3 1-3 0-1-0.5-0.5-1 0.5-1-3-0.5-1.5 2.5 1.5 2 0.5 4 0 2 0.5 2-1 1-3 1 1 0.5 3 0 1.5 1.5 0.5 2zM299 43l4 0.5 1 0 0.5-1.5-1-1-1.5-0.5-1.5 0.5zM266 42l2.5-1 0-4 0.5-1 1.5-1 0.5-1-1-3-1.5-2-0.5-5-1-1-2 0-1 3-3.5 1-1 4 0.5 1.5 5-0.5 1.5 1 1 1-1 1-1.5 1-4-1.5-0.5 1.5 3.5 3zM200.5 41l4.5 0.5 3-1.5-0.5-1-1.5-1-1 0.5-4 1.5zM210.5 41l3 0 1-1-0.5-1-1-0.5-2 0-1.5 0.5-1 1zM312.5 40l1.5 1.5 1-1 0.5-0.5-0.5-1-1-0.5-1 0.5zM254 40l1 0 2-0.5 1.5-2.5-2-1-0.5-2-1-1-2.5-1-0.5-3-1 0-0.5 1 0.5 3-1 2 0 1zM335.5 39l2.5 0.5 0.5-0.5-1.5-0.5-1-1.5-0.5-1 0.5-2-1.5-3-2.5-3-3-0.5-1-2.5-2-1.5-0.5 0.5-0.5 3 1 1 2.5 0 1 4 4 2 1 4zM116.5 38l0.5 0.5 1 0 1-1.5 0-0.5-1 0zM243.5 37l0.5 0.5 2.5-1.5 0-1-1.5-0.5zM185 36l1 0.5 0.5-0.5 1-5 2.5 0 1-0.5 0.5-1.5 0-1-4.5-2.5-2 0.5-1.5 2 0.5 3 1.5 2 0.5 1zM222.5 35l1 0 1.5-1 0-1 0-1-3-1.5-2-1.5-1 0.5-1 1.5 0 2zM301 33l2 0.5 2-0.5-0.5-1-2.5-1.5-1.5 0.5zM278 32l1.5 0 0-4-2 2 0 1zM206 31l1 0.5 1-0.5 1.5-1 0.5-1 0-2 1-2.5-4-1-2 1 0 0.5 0.5 1 2.5 1zM341 30l1 0 1-1 1-2 0-1-2 0-2.5 1-0.5 1zM46 28l1 1.5 1-0.5 0-1-1-1zM22 28l2 0.5 0.5-0.5 0-3 1-3-0.5-1-2-1-1 1 1 3-1.5 3zM110 27l1 1 1-1 0.5-3 1-1 0-1-1.5-1-1-1-1 0-1 1 1.5 2-0.5 3zM12.5 25l4.5 1.5 1-0.5 0-1-1-1-2 0-1.5-1 2-3 0-1-0.5 0-1.5 1-1.5 3zM194.5 26l2.5 0-1-1.5-1 0-1 0.5zM104 25l1-0.5 2-3.5-0.5-1-1.5-1-1 0.5-2 1.5 0 3zM248.5 24l0.5 0.5 1 0 2-1.5 2.5 0 0.5-1 0.5-2-4.5 1zM308 24l1 0.5 1-0.5-1-2.5-1.5 0.5zM324 23l1 0.5 0.5-1.5-1.5-0.5-1 0zM333.5 23l0.5 1 1-0.5 1-0.5-0.5-1-1.5-0.5zM218.5 22l1.5 0.5 1 0 0.5-0.5-1.5-1-1-0.5-1 0.5zM261.5 22l2.5 0.5 0.5-0.5 0-2-1.5-2-2 0-0.5 1zM288.5 21l0.5 0.5 1 0 1-1 0.5-1.5-0.5-1.5-1 0-0.5 0.5zM326 21l1 0 1-0.5 1-2.5 3 0.5 2 0.5 1.5-1-3.5-0.5-1-1-1 0-1 1-2 1-1 1.5zM209.5 19l3.5 1.5 1.5-1.5-2.5-1zM236 20l1 0 0.5-1-0.5-1-2-0.5-0.5 0.5 0 1zM310.5 19l1.5 0 0.5-1 0-1-2.5 0-2-1-1.5 0 0.5 1.5zM118.5 16l3.5 1.5 0.5-0.5-1.5-1.5zM70.5 14l1.5 0 1.5-1-1.5-0.5-2 0.5zM99.5 13l1.5 1 3-1 1-0.5 0.5-1.5 2.5-1 1-1 2 0.5 1-1 2-0.5 1-1-1-1-1 0-4 1-4 0-1.5 1 1.5 2 0 0.5-1 0.5-3-1-1 0-1 1zM241 11l1 0.5 1 0 1.5-2.5-0.5-1-2-1.5-2.5 0.5z"/>
<path fill="#f0bba3" d="M125.5 125l0.5 0.5 1-0.5 0.5-1-0.5-1-1.5 0-0.5 1zM307 108l1 1.5 1-0.5-1-1.5zM201 103l1.5 0 0.5-1-1-0.5-1 0.5zM192.5 99l0.5 1.5 1.5-0.5 0-1-0.5-1.5-1 0.5zM214 100l1-1-0.5-1-1.5-2 1-2.5-3 0.5-1.5 1-0.5 1 0 1.5 3 0.5zM191.5 95l1.5 0.5 1-0.5 0.5-1-0.5-1.5-2-0.5-1.5 1 0 1zM215.5 92l0.5 0 0.5-1-0.5-2zM211 88l1 0.5 3 0.5 1-2.5 1-1 1 0 1 0 2 3 1-0.5 3-2.5 0.5-1.5 0-1-2-2-0.5-3 1.5-2 0-2-0.5-1-2-0.5-2 0.5-1.5 1 0.5 1 3.5 3-1 1-0.5 1 2 2-0.5 1-1.5 1-4 0.5-2 1-1-0.5 0-1 1-1 0-2 1.5-2 0-2-3.5-2.5-3-0.5-1 0.5 0 1 2 2.5 0.5 1-1.5 2 1 2-1 3zM199 85l1 0.5 1 0 0.5-1.5-1.5-0.5-1 0.5zM174 83l2 0.5 1-2 0-2.5-1-1-1 1 0 2zM162 71l1 1 3.5-3-1-1-1.5 0-2 2zM194 69l1 0 0.5 0-0.5-1-1 0-0.5 0zM235 55l1 0 1.5-2-0.5-7 0-0.5-1-0.5-1 1 0.5 1-0.5 1-2.5 1 0.5 1 2.5 2 0 1zM225.5 53l1.5 0.5 1.5-1.5-0.5-0.5-2.5 0.5zM218.5 51l1.5 0.5 3-0.5 0-1-1-1-2 0-1.5 1zM230 49l1 0 0-2 1.5-2 0-1-0.5-0.5-2 0.5-1.5 2zM285.5 39l1.5 2 1-1 0.5-1-2.5-5-1 1 1 1zM231 39l1 1 1-1 0-2-1-3 4.5-6-0.5-4-0.5 2-2.5 1-1.5 2-2 1-1 1 0.5 2-0.5 2zM264.5 38l1.5 1.5 1 0.5 0.5-3-0.5-0.5-1.5 0.5zM251.5 36l1.5 1 1-0.5 1-1.5-0.5-1-1.5-0.5-1 0-1 1.5zM220.5 33l1.5 0.5 1-0.5-0.5-1-1.5-0.5-1 0-0.5 0.5zM287 33l1 0 2-2.5 3-1 0.5-0.5-0.5-1-7 1-1 2 0.5 1zM265 31l3 1.5 0.5-0.5-2-4 0-2-0.5-1-1 2-3.5 1 0.5 1 2 0zM331 32l2 0.5 1-0.5-1-1.5-2-1.5-1 1zM187 28.5l3 1.5 0.5-1-3.5-2.5-2 0.5 0 1.5zM103 22l1 0.5 1-0.5 0.5-1-0.5-0.5-1 0.5zM230 21l1 0.5 0.5-0.5 0-1-1 0zM101 13l1 0 1-1-2-1-1 1z"/>
<path fill="#eaa186" d="M221.5 87l3-2-0.5-1.5-1 0.5-2 1.5 0 1zM221.5 75l1.5 1 0.5-2-1.5-0.5-1 0.5z"/></g>
<path d="M107,11.7 113,9.7 120,8 135,7 148,6.5 160,8 168,8.5 162,10.5 162,14 160,16 158,18 158,20 154,21.5 148,22 143,24.3 140,25 138,27.5 136.5,30 134,29.5 130,28 128,25 126,22.5 129,20.5 126,19.5 125,17.5 122,14.5 114,14 109,13Z" fill="#fff"/>
<use href="#bord" fill="none" stroke="#000" stroke-width="0.45" vector-effect="non-scaling-stroke"/>
<use href="#land" fill="none" stroke="#000" stroke-width="0.6" vector-effect="non-scaling-stroke"/>
<use href="#lakes" fill="#fff" stroke="#000" stroke-width="0.6" vector-effect="non-scaling-stroke"/>
<path d="M75,40 130,40 105,58.8 110,65 90,65 75.5,56.2 75,40M90,65 110,65 125,78 105,78 96.6,87.8 75.5,74 90,65M108,78 125,78 130.7,82.4 130.7,90 147.5,90 147.5,110 124.5,130 110,130 113.6,110 108,105 108,78M170.5,45 221,45 221,60.2 170.5,60.2 170.5,45M170.5,60.2 161,60.2 161,82 189.5,89.4 196.5,74.5 223.5,74.5M215.5,60.2 233,60.2 242.3,65.2 239.8,67.5 238.7,69.5 237.7,71 236.5,72 235,73 232.2,74.4 229,76 225.8,77.1 215.5,60.2M242.3,65.2 242.3,60.2 280,61M242.3,65.2 244.5,64.8 247.4,65.2 248.2,66.3 249.2,67.8 250.8,69.2 252.7,69 252.8,71 253.5,74 254.5,76 255.5,78.3 256.5,81 257.5,81.9 258.2,81.2 259,80.8 259.8,79.7 260.1,76.5 260.3,74.5 262.3,73.3 264.8,71 266.3,70 267,68.7 268.5,68.3 270.4,68 271.8,67.6 272.3,69 274.4,71.5 274.3,74 275,74M275,99.5 275,60.8 280,61 282.8,55.3 300,45 335,45 314,64.5 314,84.5 335.5,99.5 275,99.5M292,100.3 337.5,100.3 337.5,140 292,126 292,100.3" fill="none" stroke="#000" stroke-width="1.3" stroke-linejoin="miter" vector-effect="non-scaling-stroke"/>
</g>
<text x="426.3" y="295.4" font-size="5.2" font-weight="bold" text-anchor="middle" fill="#000">EUS</text>
<text x="427.3" y="311.4" font-size="5.2" font-weight="bold" text-anchor="middle" fill="#000">CAM</text>
<text x="447.1" y="332.1" font-size="5.2" font-weight="bold" text-anchor="middle" fill="#000">ESA</text>
<text x="491.1" y="304.5" font-size="5.2" font-weight="bold" text-anchor="middle" fill="#000">MNAF</text>
<text x="517.2" y="307.0" font-size="5.2" font-weight="bold" text-anchor="middle" fill="#000">ARP</text>
<text x="563.6" y="311.1" font-size="5.2" font-weight="bold" text-anchor="middle" fill="#000">ESEA</text>
<text x="578.6" y="341.2" font-size="5.2" font-weight="bold" text-anchor="middle" fill="#000">AU</text>
<rect x="357.70" y="258.40" width="251.90" height="105.20" fill="none" stroke="#5a5a5a" stroke-width="0.8"/>
<text x="492.7" y="251.6" font-size="6.52" text-anchor="middle" fill="#1a1a1a">SM-MH Correlation Bias</text>
<text x="357.8" y="251.7" font-size="6.9" font-weight="bold" fill="#1a1a1a">f</text>
<path d="M378.69 363.60v2" stroke="#333" stroke-width="0.5"/>
<text x="379.2" y="371.6" font-size="5.5" text-anchor="middle" fill="#1a1a1a">−150</text>
<path d="M413.68 363.60v2" stroke="#333" stroke-width="0.5"/>
<text x="414.2" y="371.6" font-size="5.5" text-anchor="middle" fill="#1a1a1a">−100</text>
<path d="M448.66 363.60v2" stroke="#333" stroke-width="0.5"/>
<text x="449.2" y="371.6" font-size="5.5" text-anchor="middle" fill="#1a1a1a">−50</text>
<path d="M483.65 363.60v2" stroke="#333" stroke-width="0.5"/>
<text x="484.1" y="371.6" font-size="5.5" text-anchor="middle" fill="#1a1a1a">0</text>
<path d="M518.64 363.60v2" stroke="#333" stroke-width="0.5"/>
<text x="519.1" y="371.6" font-size="5.5" text-anchor="middle" fill="#1a1a1a">50</text>
<path d="M553.62 363.60v2" stroke="#333" stroke-width="0.5"/>
<text x="554.1" y="371.6" font-size="5.5" text-anchor="middle" fill="#1a1a1a">100</text>
<path d="M588.61 363.60v2" stroke="#333" stroke-width="0.5"/>
<text x="589.1" y="371.6" font-size="5.5" text-anchor="middle" fill="#1a1a1a">150</text>
<text transform="translate(9.6,177) rotate(-90)" font-size="9.2" text-anchor="middle" fill="#1a1a1a">Latitude</text>
<text x="350.5" y="385" font-size="9.1" text-anchor="middle" fill="#1a1a1a">Longitude</text>
<rect x="298.50" y="86.55" width="28.50" height="12.44" fill="#c4262e"/>
<rect x="298.50" y="98.89" width="28.50" height="12.44" fill="#e8623f"/>
<rect x="298.50" y="111.23" width="28.50" height="12.44" fill="#eda862"/>
<rect x="298.50" y="123.56" width="28.50" height="12.44" fill="#f5eda0"/>
<rect x="298.50" y="135.90" width="28.50" height="12.44" fill="#ebfbe0"/>
<rect x="298.50" y="148.24" width="28.50" height="12.44" fill="#b5e3ea"/>
<rect x="298.50" y="160.57" width="28.50" height="12.44" fill="#74a9cf"/>
<rect x="298.50" y="172.91" width="28.50" height="12.44" fill="#4660ae"/>
<path d="M298.50 185.30L312.75 189.90L327.00 185.30Z" fill="#2e3192"/>
<path d="M298.50 86.60V185.30L312.75 189.90L327.00 185.30V86.60Z" fill="none" stroke="#333" stroke-width="0.5"/>
<path d="M327.00 86.60h1.8" stroke="#333" stroke-width="0.5"/>
<text x="330.4" y="88.9" font-size="5" fill="#1a1a1a">36</text>
<path d="M327.00 111.28h1.8" stroke="#333" stroke-width="0.5"/>
<text x="330.4" y="113.6" font-size="5" fill="#1a1a1a">27</text>
<path d="M327.00 135.95h1.8" stroke="#333" stroke-width="0.5"/>
<text x="330.4" y="138.2" font-size="5" fill="#1a1a1a">18</text>
<path d="M327.00 160.62h1.8" stroke="#333" stroke-width="0.5"/>
<text x="330.4" y="162.9" font-size="5" fill="#1a1a1a">9</text>
<path d="M327.00 185.30h1.8" stroke="#333" stroke-width="0.5"/>
<text x="330.4" y="187.6" font-size="5" fill="#1a1a1a">0</text>
<text fill="#1a1a1a"><tspan x="305.2" y="80.8" font-size="7.2">(</tspan><tspan x="309.4" y="79.8" font-size="4.6">°</tspan><tspan x="312.6" y="80.8" font-size="5.9">C</tspan><tspan x="317.5" y="80.8" font-size="7.2">)</tspan></text>
<rect x="638.90" y="135.75" width="29.30" height="13.34" fill="#9a1a2d"/>
<rect x="638.90" y="148.99" width="29.30" height="13.34" fill="#d2564e"/>
<rect x="638.90" y="162.22" width="29.30" height="13.34" fill="#eda98c"/>
<rect x="638.90" y="175.46" width="29.30" height="13.34" fill="#f6e4da"/>
<rect x="638.90" y="188.70" width="29.30" height="13.34" fill="#e0eff5"/>
<rect x="638.90" y="201.94" width="29.30" height="13.34" fill="#a5d0e2"/>
<rect x="638.90" y="215.17" width="29.30" height="13.34" fill="#5497c3"/>
<rect x="638.90" y="228.41" width="29.30" height="13.34" fill="#2c5c9a"/>
<rect x="638.90" y="135.80" width="29.30" height="105.90" fill="none" stroke="#333" stroke-width="0.5"/>
<path d="M668.20 135.80h1.8" stroke="#333" stroke-width="0.5"/>
<text x="671.6" y="138.1" font-size="5" fill="#1a1a1a">1.0</text>
<path d="M668.20 162.28h1.8" stroke="#333" stroke-width="0.5"/>
<text x="671.6" y="164.6" font-size="5" fill="#1a1a1a">0.5</text>
<path d="M668.20 188.75h1.8" stroke="#333" stroke-width="0.5"/>
<text x="671.6" y="191.1" font-size="5" fill="#1a1a1a">0</text>
<path d="M668.20 215.22h1.8" stroke="#333" stroke-width="0.5"/>
<text x="671.6" y="217.5" font-size="5" fill="#1a1a1a">-0.5</text>
<path d="M668.20 241.70h1.8" stroke="#333" stroke-width="0.5"/>
<text x="671.6" y="244.0" font-size="5" fill="#1a1a1a">-1.0</text>
<rect x="299.00" y="263.95" width="28.70" height="12.22" fill="#c4262e"/>
<rect x="299.00" y="276.07" width="28.70" height="12.22" fill="#e8623f"/>
<rect x="299.00" y="288.20" width="28.70" height="12.22" fill="#eda862"/>
<rect x="299.00" y="300.32" width="28.70" height="12.22" fill="#f5eda0"/>
<rect x="299.00" y="312.45" width="28.70" height="12.22" fill="#ebfbe0"/>
<rect x="299.00" y="324.57" width="28.70" height="12.22" fill="#b5e3ea"/>
<rect x="299.00" y="336.70" width="28.70" height="12.22" fill="#74a9cf"/>
<rect x="299.00" y="348.82" width="28.70" height="12.22" fill="#4660ae"/>
<path d="M299.00 264.00L313.35 259.20L327.70 264.00Z" fill="#a81a2c"/>
<path d="M299.00 361.00V264.00L313.35 259.20L327.70 264.00V361.00Z" fill="none" stroke="#333" stroke-width="0.5"/>
<path d="M327.70 264.00h1.8" stroke="#333" stroke-width="0.5"/>
<text x="331.1" y="266.3" font-size="5" fill="#1a1a1a">18</text>
<path d="M327.70 288.25h1.8" stroke="#333" stroke-width="0.5"/>
<text x="331.1" y="290.6" font-size="5" fill="#1a1a1a">9</text>
<path d="M327.70 312.50h1.8" stroke="#333" stroke-width="0.5"/>
<text x="331.1" y="314.8" font-size="5" fill="#1a1a1a">0</text>
<path d="M327.70 336.75h1.8" stroke="#333" stroke-width="0.5"/>
<text x="331.1" y="339.1" font-size="5" fill="#1a1a1a">-9</text>
<path d="M327.70 361.00h1.8" stroke="#333" stroke-width="0.5"/>
<text x="331.1" y="363.3" font-size="5" fill="#1a1a1a">-18</text>
<text fill="#1a1a1a"><tspan x="306.4" y="258.0" font-size="7.2">(</tspan><tspan x="310.6" y="257.0" font-size="4.6">°</tspan><tspan x="313.8" y="258.0" font-size="5.9">C</tspan><tspan x="318.7" y="258.0" font-size="7.2">)</tspan></text>
</svg></body></html>
